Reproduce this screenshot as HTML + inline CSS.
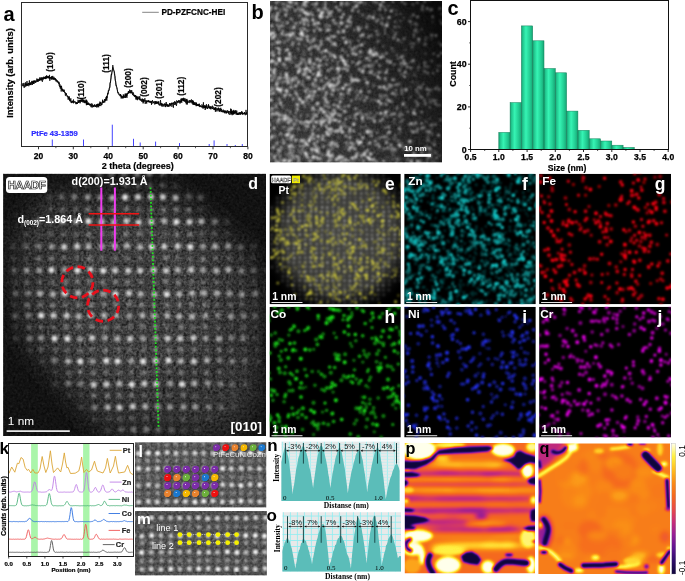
<!DOCTYPE html>
<html><head><meta charset="utf-8"><title>Figure</title>
<style>
html,body{margin:0;padding:0;background:#fff;}
body{width:685px;height:581px;overflow:hidden;position:relative;}
svg{position:absolute;left:0;top:0;display:block;}
</style></head><body>
<svg width="685" height="581" viewBox="0 0 685 581">
<defs><filter id="blur07" x="-5%" y="-5%" width="110%" height="110%"><feGaussianBlur stdDeviation="0.75"/></filter><filter id="blur09" x="-5%" y="-5%" width="110%" height="110%"><feGaussianBlur stdDeviation="0.95"/></filter><filter id="blur1" x="-5%" y="-5%" width="110%" height="110%"><feGaussianBlur stdDeviation="1.1"/></filter><filter id="blur13" x="-5%" y="-5%" width="110%" height="110%"><feGaussianBlur stdDeviation="1.3"/></filter><filter id="noise" x="0" y="0" width="100%" height="100%"><feTurbulence type="fractalNoise" baseFrequency="0.9" numOctaves="2" seed="3"/><feColorMatrix type="saturate" values="0"/></filter><filter id="noise3" x="0" y="0" width="100%" height="100%"><feTurbulence type="fractalNoise" baseFrequency="0.55" numOctaves="2" seed="5"/><feColorMatrix type="saturate" values="0"/></filter><filter id="noiseO" x="0" y="0" width="100%" height="100%" color-interpolation-filters="sRGB"><feTurbulence type="fractalNoise" baseFrequency="0.38" numOctaves="2" seed="5"/><feColorMatrix type="matrix" values="0.33 0.33 0.33 0 0 0.33 0.33 0.33 0 0 0.33 0.33 0.33 0 0 0 0 0 0 1"/><feComponentTransfer><feFuncR type="linear" slope="1.5" intercept="-0.25"/><feFuncG type="linear" slope="1.5" intercept="-0.25"/><feFuncB type="linear" slope="1.5" intercept="-0.25"/></feComponentTransfer></filter><filter id="noise2" x="0" y="0" width="100%" height="100%"><feTurbulence type="fractalNoise" baseFrequency="0.35" numOctaves="2" seed="9"/><feColorMatrix type="saturate" values="0"/></filter><clipPath id="cb"><rect x="270" y="1" width="172" height="161.5"/></clipPath><linearGradient id="gb" x1="0" y1="0.6" x2="1" y2="0.2"><stop offset="0" stop-color="#3a3a3a"/><stop offset="0.45" stop-color="#2e2e2e"/><stop offset="0.8" stop-color="#1c1c1c"/><stop offset="1" stop-color="#0a0a0a"/></linearGradient><linearGradient id="gbar" x1="0" y1="0" x2="1" y2="0"><stop offset="0" stop-color="#169a6c"/><stop offset="0.12" stop-color="#20c48c"/><stop offset="0.4" stop-color="#36f4b4"/><stop offset="0.75" stop-color="#22cc92"/><stop offset="1" stop-color="#17a474"/></linearGradient><clipPath id="cd"><rect x="3.1" y="173.8" width="262.9" height="262.2"/></clipPath><radialGradient id="gdhaze" cx="0.47" cy="0.5" r="0.58"><stop offset="0" stop-color="#3a3a3a"/><stop offset="0.55" stop-color="#303030"/><stop offset="1" stop-color="#161616"/></radialGradient><filter id="blur14" x="-5%" y="-5%" width="110%" height="110%"><feGaussianBlur stdDeviation="1.45"/></filter><filter id="blur12" x="-30%" y="-30%" width="160%" height="160%"><feGaussianBlur stdDeviation="12"/></filter><clipPath id="cme"><rect x="269.5" y="173.8" width="131.3" height="130.5"/></clipPath><radialGradient id="gehaze" cx="0.5" cy="0.5" r="0.5"><stop offset="0" stop-color="#444440"/><stop offset="0.7" stop-color="#383834"/><stop offset="1" stop-color="#111" stop-opacity="0"/></radialGradient><clipPath id="cmf"><rect x="404.2" y="173.8" width="131.6" height="130.5"/></clipPath><clipPath id="cmg"><rect x="539.1" y="173.8" width="131.9" height="130.5"/></clipPath><clipPath id="cmh"><rect x="269.5" y="306.8" width="131.3" height="130.7"/></clipPath><clipPath id="cmi"><rect x="404.2" y="306.8" width="131.6" height="130.7"/></clipPath><clipPath id="cmj"><rect x="539.1" y="306.8" width="131.9" height="130.7"/></clipPath><clipPath id="cl"><rect x="135" y="442.2" width="131.4" height="65.4"/></clipPath><clipPath id="cm"><rect x="135" y="511.1" width="131.9" height="64.4"/></clipPath><radialGradient id="ballP" cx="0.38" cy="0.35" r="0.65"><stop offset="0" stop-color="#fff" stop-opacity="0.85"/><stop offset="0.18" stop-color="#7b2da8"/><stop offset="0.85" stop-color="#7b2da8"/><stop offset="1" stop-color="#333" stop-opacity="0.6"/></radialGradient><radialGradient id="ballR" cx="0.38" cy="0.35" r="0.65"><stop offset="0" stop-color="#fff" stop-opacity="0.85"/><stop offset="0.18" stop-color="#ee1010"/><stop offset="0.85" stop-color="#ee1010"/><stop offset="1" stop-color="#333" stop-opacity="0.6"/></radialGradient><radialGradient id="ballO" cx="0.38" cy="0.35" r="0.65"><stop offset="0" stop-color="#fff" stop-opacity="0.85"/><stop offset="0.18" stop-color="#e9822e"/><stop offset="0.85" stop-color="#e9822e"/><stop offset="1" stop-color="#333" stop-opacity="0.6"/></radialGradient><radialGradient id="ballY" cx="0.38" cy="0.35" r="0.65"><stop offset="0" stop-color="#fff" stop-opacity="0.85"/><stop offset="0.18" stop-color="#f6b800"/><stop offset="0.85" stop-color="#f6b800"/><stop offset="1" stop-color="#333" stop-opacity="0.6"/></radialGradient><radialGradient id="ballG" cx="0.38" cy="0.35" r="0.65"><stop offset="0" stop-color="#fff" stop-opacity="0.85"/><stop offset="0.18" stop-color="#6cb03c"/><stop offset="0.85" stop-color="#6cb03c"/><stop offset="1" stop-color="#333" stop-opacity="0.6"/></radialGradient><radialGradient id="ballB" cx="0.38" cy="0.35" r="0.65"><stop offset="0" stop-color="#fff" stop-opacity="0.85"/><stop offset="0.18" stop-color="#1a78cf"/><stop offset="0.85" stop-color="#1a78cf"/><stop offset="1" stop-color="#333" stop-opacity="0.6"/></radialGradient><pattern id="gridn" x="281.9" y="443.8" width="7" height="3" patternUnits="userSpaceOnUse"><rect width="7" height="3" fill="#e8eaea"/><rect x="0" y="0" width="0.8" height="3" fill="#98f0f2"/><rect x="0" y="0" width="7" height="0.6" fill="#b4f0f2"/></pattern><pattern id="grido" x="282.9" y="515.6" width="7" height="6.1" patternUnits="userSpaceOnUse"><rect width="7" height="6.1" fill="#e8e9e9"/><rect x="0" y="0" width="0.8" height="6.1" fill="#8eeef2"/><rect x="0" y="0" width="7" height="0.8" fill="#8eeef2"/></pattern><filter id="cmap" x="-5%" y="-5%" width="110%" height="110%" color-interpolation-filters="sRGB"><feComponentTransfer><feFuncR type="table" tableValues="0.059 0.176 0.373 0.588 0.784 0.910 0.961 0.980 1.000 1.000 1.000"/><feFuncG type="table" tableValues="0.024 0.047 0.078 0.118 0.176 0.294 0.412 0.549 0.745 0.941 1.000"/><feFuncB type="table" tableValues="0.235 0.412 0.569 0.588 0.471 0.275 0.118 0.086 0.125 0.251 0.925"/></feComponentTransfer></filter><filter id="sb3" x="-10%" y="-10%" width="120%" height="120%" color-interpolation-filters="sRGB"><feGaussianBlur stdDeviation="2.6"/></filter><filter id="sb2" x="-10%" y="-10%" width="120%" height="120%" color-interpolation-filters="sRGB"><feGaussianBlur stdDeviation="1.7"/></filter><filter id="sb1" x="-10%" y="-10%" width="120%" height="120%" color-interpolation-filters="sRGB"><feGaussianBlur stdDeviation="0.8"/></filter><clipPath id="cp"><rect x="404.8" y="443" width="130.2" height="130.2"/></clipPath><clipPath id="cq"><rect x="538.4" y="443.4" width="131.6" height="130.6"/></clipPath><linearGradient id="gcb" x1="0" y1="0" x2="0" y2="1"><stop offset="0.0" stop-color="rgb(255, 255, 236)"/><stop offset="0.1" stop-color="rgb(255, 240, 64)"/><stop offset="0.2" stop-color="rgb(255, 190, 32)"/><stop offset="0.3" stop-color="rgb(250, 140, 22)"/><stop offset="0.4" stop-color="rgb(245, 105, 30)"/><stop offset="0.5" stop-color="rgb(232, 75, 70)"/><stop offset="0.6" stop-color="rgb(200, 45, 120)"/><stop offset="0.7" stop-color="rgb(150, 30, 150)"/><stop offset="0.8" stop-color="rgb(95, 20, 145)"/><stop offset="0.9" stop-color="rgb(45, 12, 105)"/><stop offset="1.0" stop-color="rgb(15, 6, 60)"/></linearGradient></defs>
<g id="pa"><text x="3.5" y="21" style="font-family:'Liberation Sans',Arial,sans-serif;font-weight:bold;font-size:20px">a</text><polyline points="21.3,85.7 21.6,86.4 21.9,83.3 22.2,85.5 22.5,86.1 22.8,85.8 23.1,86.0 23.4,86.0 23.7,84.5 24.0,82.9 24.3,85.6 24.6,85.6 24.9,85.7 25.2,86.2 25.5,82.4 25.8,84.8 26.1,85.0 26.4,83.7 26.7,84.7 27.0,85.3 27.3,84.2 27.6,85.6 27.9,84.1 28.2,84.1 28.5,83.0 28.8,86.2 29.1,85.3 29.4,84.7 29.7,83.5 30.0,84.8 30.3,84.3 30.6,84.0 30.9,85.1 31.2,84.1 31.5,82.9 31.8,82.2 32.1,81.7 32.4,84.9 32.7,82.1 33.0,82.7 33.3,80.8 33.6,83.8 33.9,81.6 34.2,82.6 34.5,80.5 34.8,81.4 35.1,81.2 35.4,82.1 35.7,81.4 36.0,81.2 36.3,81.1 36.6,81.6 36.9,80.7 37.2,81.3 37.5,79.8 37.8,79.2 38.1,81.9 38.4,79.8 38.7,79.2 39.0,80.7 39.3,81.0 39.6,79.6 39.9,80.6 40.2,80.3 40.5,79.1 40.8,79.0 41.1,77.5 41.4,77.2 41.7,79.8 42.0,79.7 42.3,78.6 42.6,79.2 42.9,77.1 43.2,78.8 43.5,79.4 43.8,78.1 44.1,78.3 44.4,77.4 44.7,78.8 45.0,77.0 45.3,78.1 45.6,79.1 45.9,76.4 46.2,76.5 46.5,77.7 46.8,78.5 47.1,75.9 47.4,77.6 47.7,76.9 48.0,77.7 48.3,78.2 48.6,76.2 48.9,78.1 49.2,78.0 49.5,74.9 49.8,80.8 50.1,79.1 50.4,78.6 50.7,77.9 51.0,76.8 51.3,77.0 51.6,79.5 51.9,76.0 52.2,79.4 52.5,78.5 52.8,78.5 53.1,79.2 53.4,79.6 53.7,77.4 54.0,76.9 54.3,79.4 54.6,78.3 54.9,79.1 55.2,79.9 55.5,78.8 55.8,79.3 56.1,80.7 56.4,79.6 56.7,81.3 57.0,80.0 57.3,82.4 57.6,81.3 57.9,82.1 58.2,82.0 58.5,83.3 58.8,83.9 59.1,82.4 59.4,82.9 59.7,85.4 60.0,84.5 60.3,87.2 60.6,86.2 60.9,85.8 61.2,87.7 61.5,85.9 61.8,89.0 62.1,89.8 62.4,89.2 62.7,90.1 63.0,89.8 63.3,91.3 63.6,91.3 63.9,91.9 64.2,89.7 64.5,91.9 64.8,92.1 65.1,93.5 65.4,95.8 65.7,95.7 66.0,94.1 66.3,93.7 66.6,94.9 66.9,95.3 67.2,95.5 67.5,97.0 67.8,96.6 68.1,99.6 68.4,98.4 68.7,96.4 69.0,98.5 69.3,96.5 69.6,99.9 69.9,100.5 70.2,101.4 70.5,100.3 70.8,100.6 71.1,102.9 71.4,102.2 71.7,103.1 72.0,102.5 72.3,100.7 72.6,102.0 72.9,101.7 73.2,102.4 73.5,99.5 73.8,102.5 74.1,101.5 74.4,102.1 74.7,102.1 75.0,101.6 75.3,101.9 75.6,102.4 75.9,104.2 76.2,104.0 76.5,103.4 76.8,102.1 77.1,103.7 77.4,102.5 77.7,101.7 78.0,99.8 78.3,100.4 78.6,103.0 78.9,101.1 79.2,100.5 79.5,100.4 79.8,101.0 80.1,103.3 80.4,99.9 80.7,101.3 81.0,101.8 81.3,99.9 81.6,101.5 81.9,101.5 82.2,101.1 82.5,99.6 82.8,101.0 83.1,102.5 83.4,100.3 83.7,101.3 84.0,99.9 84.3,100.6 84.6,101.6 84.9,102.5 85.2,100.6 85.5,101.9 85.8,101.4 86.1,99.5 86.4,105.2 86.7,100.0 87.0,104.3 87.3,103.6 87.6,103.8 87.9,102.7 88.2,104.1 88.5,104.2 88.8,103.6 89.1,104.5 89.4,104.0 89.7,103.9 90.0,105.0 90.3,105.2 90.6,103.8 90.9,105.7 91.2,105.9 91.5,105.2 91.8,105.4 92.1,104.8 92.4,104.2 92.7,104.6 93.0,105.6 93.3,106.3 93.6,105.5 93.9,107.1 94.2,106.1 94.5,105.1 94.8,106.0 95.1,106.0 95.4,106.9 95.7,106.1 96.0,105.3 96.3,106.6 96.6,104.3 96.9,107.6 97.2,105.2 97.5,105.0 97.8,104.0 98.1,104.5 98.4,105.7 98.7,107.3 99.0,104.5 99.3,103.1 99.6,105.9 99.9,104.6 100.2,104.9 100.5,105.8 100.8,106.1 101.1,104.1 101.4,104.8 101.7,104.6 102.0,105.0 102.3,103.1 102.6,99.7 102.9,102.0 103.2,102.9 103.5,101.7 103.8,101.3 104.1,101.6 104.4,100.9 104.7,99.0 105.0,100.3 105.3,99.0 105.6,100.8 105.9,98.9 106.2,99.0 106.5,96.6 106.8,100.7 107.1,96.6 107.4,94.9 107.7,93.2 108.0,93.4 108.3,90.6 108.6,90.9 108.9,90.9 109.2,88.5 109.5,87.3 109.8,87.7 110.1,82.6 110.4,82.9 110.7,79.8 111.0,78.3 111.3,75.2 111.6,74.2 111.9,72.5 112.2,71.0 112.5,69.2 112.8,65.1 113.1,67.3 113.4,69.7 113.7,69.5 114.0,70.5 114.3,71.7 114.6,73.5 114.9,75.4 115.2,78.5 115.5,80.5 115.8,82.6 116.1,85.8 116.4,85.4 116.7,87.2 117.0,89.2 117.3,89.8 117.6,91.4 117.9,91.9 118.2,93.6 118.5,93.7 118.8,94.3 119.1,94.1 119.4,94.1 119.7,94.4 120.0,95.5 120.3,96.2 120.6,95.4 120.9,95.4 121.2,98.5 121.5,96.4 121.8,97.3 122.1,97.0 122.4,97.2 122.7,96.7 123.0,96.8 123.3,98.3 123.6,95.5 123.9,97.6 124.2,96.3 124.5,96.4 124.8,95.9 125.1,95.3 125.4,98.0 125.7,93.7 126.0,96.3 126.3,93.8 126.6,96.0 126.9,95.9 127.2,95.1 127.5,93.1 127.8,93.9 128.1,92.7 128.4,92.3 128.7,91.7 129.0,93.0 129.3,91.9 129.6,91.8 129.9,92.7 130.2,93.2 130.5,91.0 130.8,90.1 131.1,93.3 131.4,92.4 131.7,90.2 132.0,92.4 132.3,92.7 132.6,95.1 132.9,93.5 133.2,92.4 133.5,93.1 133.8,96.0 134.1,95.1 134.4,96.3 134.7,95.1 135.0,96.0 135.3,96.2 135.6,97.2 135.9,96.7 136.2,97.1 136.5,97.0 136.8,98.3 137.1,97.5 137.4,96.7 137.7,97.8 138.0,98.8 138.3,98.2 138.6,99.1 138.9,99.1 139.2,98.9 139.5,98.5 139.8,96.3 140.1,99.9 140.4,99.3 140.7,100.6 141.0,99.9 141.3,100.7 141.6,100.3 141.9,101.9 142.2,98.5 142.5,100.4 142.8,100.6 143.1,101.9 143.4,99.7 143.7,102.4 144.0,100.1 144.3,101.3 144.6,101.2 144.9,101.2 145.2,101.1 145.5,100.6 145.8,101.7 146.1,100.1 146.4,100.7 146.7,102.1 147.0,101.2 147.3,101.3 147.6,101.5 147.9,101.9 148.2,100.6 148.5,101.7 148.8,101.8 149.1,102.0 149.4,101.5 149.7,101.2 150.0,101.8 150.3,102.3 150.6,101.7 150.9,102.6 151.2,101.8 151.5,104.8 151.8,101.9 152.1,101.3 152.4,100.2 152.7,101.2 153.0,101.3 153.3,102.0 153.6,102.2 153.9,102.0 154.2,102.9 154.5,103.2 154.8,104.5 155.1,102.2 155.4,102.0 155.7,103.8 156.0,101.5 156.3,103.0 156.6,104.0 156.9,103.2 157.2,103.3 157.5,102.0 157.8,103.8 158.1,103.8 158.4,102.6 158.7,102.4 159.0,105.1 159.3,104.3 159.6,104.0 159.9,103.9 160.2,103.6 160.5,100.1 160.8,102.7 161.1,104.4 161.4,103.6 161.7,106.4 162.0,103.7 162.3,104.7 162.6,104.3 162.9,105.6 163.2,106.3 163.5,105.3 163.8,105.6 164.1,104.6 164.4,103.8 164.7,104.2 165.0,104.2 165.3,105.1 165.6,107.1 165.9,103.8 166.2,105.4 166.5,105.1 166.8,106.4 167.1,104.5 167.4,105.9 167.7,105.1 168.0,105.6 168.3,106.0 168.6,104.9 168.9,107.0 169.2,104.4 169.5,104.6 169.8,103.0 170.1,103.9 170.4,105.6 170.7,106.2 171.0,104.1 171.3,103.2 171.6,103.9 171.9,102.8 172.2,102.7 172.5,103.5 172.8,103.8 173.1,103.4 173.4,107.7 173.7,102.2 174.0,102.7 174.3,103.2 174.6,101.3 174.9,102.9 175.2,103.6 175.5,101.9 175.8,102.0 176.1,103.1 176.4,105.9 176.7,104.4 177.0,102.5 177.3,102.2 177.6,101.1 177.9,102.1 178.2,102.3 178.5,101.3 178.8,100.0 179.1,100.7 179.4,101.3 179.7,101.4 180.0,102.9 180.3,101.5 180.6,101.1 180.9,101.1 181.2,98.7 181.5,101.6 181.8,100.3 182.1,99.7 182.4,99.6 182.7,98.7 183.0,100.9 183.3,98.9 183.6,100.9 183.9,100.6 184.2,101.6 184.5,100.5 184.8,100.6 185.1,98.4 185.4,101.0 185.7,102.7 186.0,100.7 186.3,99.3 186.6,100.5 186.9,100.6 187.2,99.9 187.5,103.3 187.8,101.5 188.1,102.5 188.4,102.0 188.7,102.4 189.0,102.6 189.3,100.9 189.6,102.1 189.9,103.1 190.2,102.1 190.5,100.8 190.8,101.2 191.1,102.0 191.4,101.8 191.7,101.9 192.0,102.4 192.3,103.1 192.6,101.4 192.9,101.9 193.2,104.9 193.5,101.2 193.8,103.2 194.1,102.1 194.4,104.9 194.7,103.3 195.0,104.3 195.3,104.8 195.6,104.7 195.9,103.4 196.2,102.4 196.5,103.4 196.8,104.9 197.1,104.6 197.4,104.4 197.7,105.6 198.0,104.1 198.3,105.0 198.6,106.1 198.9,105.1 199.2,103.8 199.5,106.4 199.8,107.1 200.1,106.1 200.4,106.6 200.7,106.6 201.0,106.7 201.3,106.3 201.6,106.9 201.9,106.6 202.2,106.8 202.5,105.8 202.8,106.3 203.1,108.1 203.4,106.3 203.7,107.3 204.0,107.2 204.3,106.5 204.6,105.6 204.9,107.3 205.2,110.0 205.5,106.2 205.8,107.1 206.1,107.7 206.4,104.2 206.7,105.8 207.0,107.6 207.3,107.3 207.6,108.7 207.9,106.6 208.2,105.4 208.5,106.4 208.8,107.6 209.1,105.8 209.4,108.3 209.7,107.5 210.0,108.5 210.3,106.3 210.6,108.4 210.9,106.7 211.2,106.3 211.5,108.1 211.8,107.8 212.1,108.4 212.4,105.7 212.7,107.0 213.0,107.6 213.3,107.0 213.6,106.8 213.9,109.0 214.2,108.2 214.5,108.5 214.8,108.0 215.1,109.3 215.4,111.8 215.7,107.7 216.0,107.7 216.3,108.5 216.6,109.9 216.9,111.5 217.2,109.0 217.5,109.5 217.8,109.1 218.1,108.4 218.4,108.3 218.7,108.7 219.0,108.2 219.3,111.6 219.6,110.0 219.9,108.4 220.2,110.6 220.5,109.3 220.8,107.8 221.1,111.2 221.4,109.0 221.7,110.3 222.0,112.0 222.3,111.5 222.6,110.8 222.9,112.4 223.2,112.1 223.5,110.6 223.8,111.5 224.1,111.9 224.4,112.3 224.7,110.3 225.0,111.1 225.3,112.2 225.6,111.4 225.9,110.9 226.2,111.2 226.5,113.2 226.8,111.5 227.1,111.5 227.4,112.3 227.7,112.1 228.0,111.9 228.3,112.9 228.6,111.4 228.9,113.7 229.2,111.6 229.5,111.1 229.8,111.5 230.1,112.1 230.4,111.4 230.7,108.6 231.0,114.6 231.3,109.2 231.6,113.8 231.9,111.3 232.2,115.2 232.5,113.0 232.8,112.6 233.1,111.8 233.4,114.5 233.7,111.2 234.0,112.6 234.3,111.8 234.6,113.6 234.9,113.5 235.2,112.1 235.5,110.3 235.8,112.9 236.1,112.6 236.4,113.8 236.7,114.2 237.0,113.4 237.3,114.9 237.6,113.6 237.9,114.2 238.2,113.6 238.5,114.0 238.8,114.3 239.1,113.4 239.4,113.3 239.7,113.9 240.0,114.5 240.3,112.4 240.6,114.6 240.9,113.2 241.2,114.1 241.5,112.0 241.8,111.1 242.1,113.4 242.4,112.3 242.7,114.7 243.0,113.9 243.3,113.0 243.6,112.9 243.9,114.3 244.2,113.9 244.5,113.3 244.8,113.5 245.1,113.8 245.4,112.9 245.7,113.2 246.0,114.7 246.3,114.3 246.6,113.0 246.9,114.5 247.2,114.8" fill="none" stroke="#000" stroke-width="0.8"/><polyline points="21.3,84.4 21.6,85.9 21.9,86.0 22.2,85.8 22.5,85.1 22.8,84.3 23.1,83.5 23.4,84.0 23.7,84.4 24.0,87.6 24.3,86.6 24.6,87.4 24.9,86.0 25.2,86.6 25.5,84.2 25.8,85.1 26.1,84.6 26.4,86.2 26.7,83.1 27.0,81.1 27.3,84.2 27.6,85.5 27.9,83.9 28.2,83.1 28.5,84.3 28.8,84.3 29.1,82.6 29.4,80.4 29.7,84.9 30.0,83.0 30.3,84.4 30.6,82.3 30.9,84.7 31.2,84.1 31.5,83.4 31.8,80.9 32.1,82.6 32.4,82.0 32.7,82.8 33.0,80.9 33.3,83.2 33.6,80.8 33.9,84.0 34.2,80.9 34.5,81.5 34.8,81.5 35.1,81.5 35.4,80.7 35.7,83.0 36.0,81.3 36.3,80.0 36.6,79.8 36.9,78.5 37.2,81.8 37.5,79.5 37.8,80.0 38.1,80.3 38.4,80.7 38.7,79.7 39.0,79.7 39.3,78.5 39.6,79.7 39.9,77.3 40.2,80.1 40.5,78.5 40.8,78.7 41.1,79.1 41.4,80.4 41.7,78.5 42.0,78.0 42.3,81.8 42.6,81.0 42.9,77.9 43.2,79.0 43.5,78.3 43.8,76.7 44.1,78.2 44.4,78.3 44.7,77.2 45.0,77.4 45.3,77.2 45.6,78.6 45.9,76.1 46.2,78.3 46.5,75.4 46.8,77.9 47.1,77.7 47.4,77.2 47.7,77.6 48.0,75.9 48.3,77.5 48.6,77.8 48.9,77.4 49.2,78.4 49.5,77.0 49.8,79.2 50.1,78.6 50.4,77.2 50.7,77.9 51.0,78.1 51.3,78.2 51.6,77.2 51.9,77.4 52.2,78.1 52.5,78.6 52.8,75.9 53.1,79.3 53.4,79.3 53.7,78.1 54.0,78.9 54.3,77.9 54.6,79.0 54.9,79.8 55.2,80.3 55.5,78.3 55.8,79.6 56.1,81.5 56.4,81.1 56.7,80.8 57.0,81.1 57.3,81.1 57.6,81.9 57.9,81.2 58.2,82.6 58.5,82.6 58.8,81.8 59.1,85.6 59.4,85.3 59.7,86.9 60.0,86.3 60.3,88.7 60.6,85.9 60.9,87.3 61.2,91.5 61.5,88.9 61.8,87.9 62.1,89.9 62.4,89.9 62.7,91.3 63.0,89.3 63.3,91.3 63.6,90.5 63.9,91.2 64.2,91.9 64.5,92.2 64.8,93.0 65.1,92.5 65.4,92.7 65.7,94.5 66.0,93.0 66.3,93.7 66.6,95.3 66.9,95.2 67.2,96.8 67.5,96.5 67.8,96.8 68.1,97.0 68.4,98.0 68.7,98.3 69.0,99.5 69.3,98.2 69.6,100.7 69.9,99.3 70.2,100.5 70.5,100.7 70.8,98.3 71.1,101.9 71.4,101.5 71.7,101.4 72.0,102.6 72.3,101.2 72.6,101.6 72.9,102.3 73.2,102.0 73.5,103.3 73.8,101.5 74.1,102.4 74.4,102.1 74.7,102.0 75.0,101.7 75.3,102.0 75.6,102.1 75.9,103.5 76.2,102.6 76.5,103.9 76.8,103.9 77.1,102.6 77.4,103.7 77.7,102.7 78.0,102.5 78.3,101.7 78.6,102.4 78.9,102.2 79.2,100.1 79.5,101.5 79.8,102.4 80.1,99.9 80.4,99.9 80.7,100.7 81.0,101.5 81.3,101.1 81.6,100.1 81.9,98.8 82.2,99.7 82.5,99.8 82.8,102.1 83.1,101.4 83.4,100.0 83.7,99.5 84.0,101.8 84.3,103.0 84.6,101.2 84.9,100.9 85.2,103.3 85.5,102.8 85.8,101.5 86.1,102.8 86.4,101.9 86.7,103.7 87.0,101.0 87.3,104.9 87.6,103.5 87.9,104.9 88.2,103.1 88.5,102.7 88.8,104.8 89.1,103.6 89.4,104.4 89.7,105.5 90.0,104.0 90.3,104.9 90.6,105.7 90.9,107.1 91.2,106.5 91.5,106.7 91.8,103.3 92.1,107.6 92.4,105.5 92.7,105.1 93.0,107.0 93.3,105.7 93.6,107.0 93.9,106.4 94.2,106.0 94.5,104.4 94.8,105.8 95.1,106.1 95.4,106.6 95.7,106.6 96.0,104.7 96.3,106.2 96.6,105.9 96.9,105.0 97.2,105.8 97.5,103.8 97.8,107.0 98.1,104.1 98.4,104.0 98.7,105.6 99.0,104.1 99.3,105.7 99.6,105.4 99.9,101.6 100.2,104.2 100.5,102.1 100.8,104.1 101.1,103.7 101.4,105.1 101.7,102.5 102.0,102.8 102.3,103.1 102.6,102.4 102.9,100.8 103.2,102.2 103.5,102.5 103.8,102.2 104.1,101.6 104.4,100.4 104.7,102.6 105.0,101.6 105.3,101.3 105.6,99.6 105.9,97.5 106.2,96.9 106.5,99.3 106.8,96.2 107.1,97.8 107.4,95.3 107.7,93.3 108.0,94.4 108.3,93.1 108.6,90.4 108.9,90.6 109.2,89.9 109.5,87.7 109.8,87.3 110.1,83.3 110.4,82.8 110.7,80.6 111.0,77.4 111.3,74.1 111.6,75.1 111.9,72.3 112.2,70.0 112.5,69.2 112.8,67.3 113.1,68.2 113.4,69.6 113.7,70.7 114.0,71.0 114.3,72.8 114.6,75.8 114.9,76.5 115.2,80.8 115.5,80.7 115.8,84.0 116.1,85.3 116.4,86.6 116.7,87.3 117.0,87.5 117.3,89.5 117.6,92.1 117.9,93.1 118.2,92.5 118.5,92.7 118.8,93.6 119.1,95.2 119.4,95.1 119.7,95.0 120.0,94.7 120.3,96.2 120.6,94.0 120.9,96.1 121.2,96.4 121.5,95.6 121.8,97.1 122.1,96.4 122.4,98.4 122.7,96.7 123.0,97.0 123.3,94.4 123.6,96.4 123.9,97.7 124.2,98.0 124.5,97.6 124.8,95.7 125.1,93.7 125.4,95.4 125.7,95.9 126.0,95.1 126.3,96.7 126.6,93.6 126.9,97.9 127.2,94.0 127.5,93.9 127.8,93.1 128.1,93.2 128.4,91.0 128.7,93.5 129.0,91.8 129.3,91.7 129.6,89.6 129.9,92.6 130.2,91.6 130.5,91.7 130.8,92.9 131.1,92.4 131.4,93.2 131.7,92.4 132.0,91.9 132.3,92.1 132.6,92.5 132.9,93.5 133.2,94.0 133.5,94.1 133.8,94.2 134.1,95.2 134.4,96.7 134.7,96.9 135.0,95.2 135.3,96.5 135.6,95.3 135.9,99.5 136.2,96.7 136.5,95.9 136.8,99.5 137.1,96.6 137.4,100.2 137.7,97.8 138.0,97.6 138.3,97.7 138.6,98.1 138.9,96.4 139.2,99.8 139.5,100.1 139.8,98.3 140.1,99.2 140.4,99.4 140.7,99.2 141.0,100.1 141.3,100.2 141.6,99.5 141.9,99.8 142.2,99.0 142.5,99.6 142.8,100.9 143.1,103.4 143.4,99.6 143.7,99.2 144.0,100.5 144.3,100.1 144.6,100.4 144.9,98.2 145.2,103.9 145.5,102.7 145.8,101.8 146.1,102.5 146.4,101.6 146.7,103.6 147.0,101.4 147.3,101.2 147.6,101.5 147.9,100.4 148.2,101.1 148.5,100.5 148.8,102.2 149.1,100.6 149.4,102.5 149.7,101.6 150.0,100.9 150.3,101.0 150.6,102.3 150.9,102.8 151.2,101.1 151.5,102.3 151.8,103.7 152.1,101.0 152.4,101.6 152.7,102.3 153.0,103.3 153.3,103.0 153.6,102.2 153.9,103.1 154.2,101.2 154.5,102.3 154.8,101.9 155.1,102.1 155.4,101.2 155.7,103.7 156.0,101.7 156.3,101.8 156.6,103.0 156.9,101.4 157.2,101.4 157.5,102.8 157.8,102.2 158.1,103.0 158.4,103.6 158.7,101.2 159.0,103.9 159.3,105.2 159.6,105.5 159.9,104.1 160.2,104.5 160.5,102.8 160.8,105.6 161.1,104.9 161.4,104.3 161.7,103.4 162.0,104.2 162.3,103.8 162.6,105.2 162.9,106.6 163.2,105.0 163.5,104.5 163.8,104.4 164.1,105.0 164.4,103.6 164.7,106.1 165.0,106.7 165.3,105.6 165.6,103.8 165.9,105.0 166.2,102.0 166.5,104.8 166.8,105.1 167.1,104.1 167.4,104.2 167.7,106.8 168.0,105.0 168.3,106.3 168.6,104.8 168.9,104.8 169.2,105.4 169.5,105.5 169.8,103.2 170.1,105.4 170.4,104.2 170.7,104.5 171.0,105.0 171.3,103.1 171.6,102.9 171.9,106.8 172.2,105.1 172.5,103.3 172.8,103.4 173.1,104.0 173.4,103.3 173.7,103.0 174.0,103.1 174.3,103.4 174.6,104.9 174.9,103.9 175.2,102.7 175.5,102.9 175.8,104.8 176.1,102.2 176.4,101.1 176.7,100.4 177.0,102.3 177.3,102.7 177.6,102.7 177.9,101.3 178.2,102.6 178.5,101.4 178.8,101.5 179.1,100.4 179.4,101.0 179.7,102.4 180.0,103.6 180.3,100.7 180.6,102.2 180.9,100.8 181.2,98.8 181.5,101.9 181.8,102.8 182.1,98.2 182.4,100.2 182.7,99.0 183.0,99.3 183.3,100.2 183.6,97.8 183.9,101.0 184.2,98.3 184.5,100.8 184.8,101.5 185.1,101.0 185.4,100.2 185.7,100.0 186.0,99.8 186.3,104.3 186.6,101.1 186.9,98.9 187.2,104.6 187.5,101.3 187.8,101.0 188.1,100.9 188.4,101.5 188.7,101.3 189.0,100.9 189.3,100.1 189.6,101.1 189.9,100.8 190.2,101.0 190.5,101.3 190.8,100.2 191.1,102.3 191.4,99.4 191.7,99.9 192.0,103.6 192.3,103.5 192.6,100.0 192.9,100.4 193.2,104.5 193.5,103.9 193.8,104.0 194.1,103.1 194.4,104.7 194.7,104.8 195.0,102.2 195.3,102.8 195.6,105.1 195.9,104.5 196.2,106.2 196.5,103.0 196.8,106.0 197.1,104.9 197.4,105.7 197.7,106.0 198.0,104.3 198.3,104.8 198.6,106.1 198.9,105.2 199.2,103.8 199.5,105.6 199.8,106.7 200.1,106.1 200.4,105.1 200.7,105.6 201.0,106.8 201.3,106.8 201.6,107.4 201.9,104.4 202.2,105.3 202.5,105.3 202.8,107.8 203.1,108.6 203.4,102.3 203.7,107.0 204.0,106.3 204.3,105.7 204.6,108.0 204.9,105.5 205.2,107.5 205.5,105.7 205.8,108.7 206.1,106.8 206.4,106.8 206.7,105.6 207.0,107.9 207.3,109.0 207.6,108.7 207.9,107.9 208.2,107.2 208.5,104.2 208.8,106.4 209.1,107.8 209.4,107.3 209.7,108.2 210.0,107.4 210.3,108.4 210.6,107.7 210.9,109.4 211.2,108.3 211.5,107.7 211.8,108.1 212.1,107.5 212.4,108.9 212.7,108.0 213.0,109.2 213.3,109.2 213.6,109.6 213.9,109.5 214.2,107.6 214.5,110.0 214.8,108.4 215.1,109.3 215.4,107.3 215.7,110.3 216.0,109.1 216.3,108.4 216.6,107.9 216.9,108.0 217.2,108.5 217.5,108.5 217.8,110.4 218.1,109.9 218.4,107.6 218.7,110.4 219.0,109.7 219.3,111.5 219.6,110.8 219.9,110.2 220.2,109.5 220.5,109.6 220.8,111.6 221.1,112.1 221.4,111.4 221.7,111.3 222.0,111.8 222.3,110.7 222.6,110.6 222.9,110.0 223.2,109.6 223.5,112.2 223.8,110.9 224.1,111.1 224.4,112.6 224.7,111.5 225.0,113.4 225.3,111.6 225.6,112.2 225.9,110.6 226.2,113.2 226.5,112.2 226.8,113.2 227.1,112.9 227.4,110.4 227.7,110.1 228.0,111.7 228.3,111.2 228.6,112.8 228.9,114.2 229.2,114.3 229.5,113.9 229.8,114.7 230.1,111.3 230.4,113.1 230.7,112.9 231.0,112.2 231.3,113.4 231.6,111.6 231.9,113.0 232.2,112.4 232.5,110.7 232.8,114.0 233.1,113.8 233.4,113.7 233.7,109.9 234.0,114.2 234.3,112.5 234.6,110.7 234.9,112.8 235.2,113.2 235.5,113.2 235.8,111.3 236.1,114.7 236.4,113.9 236.7,110.5 237.0,111.8 237.3,114.5 237.6,113.6 237.9,115.0 238.2,113.1 238.5,114.8 238.8,114.2 239.1,112.1 239.4,114.2 239.7,114.3 240.0,112.2 240.3,112.4 240.6,114.0 240.9,113.7 241.2,113.8 241.5,112.4 241.8,112.0 242.1,112.7 242.4,114.2 242.7,113.3 243.0,113.2 243.3,113.5 243.6,113.1 243.9,113.6 244.2,114.0 244.5,112.0 244.8,114.3 245.1,114.2 245.4,115.2 245.7,114.8 246.0,109.9 246.3,112.8 246.6,112.1 246.9,113.8 247.2,113.0" fill="none" stroke="#000" stroke-width="0.8"/><line x1="52.3" y1="139.5" x2="52.3" y2="146.5" stroke="#3030ff" stroke-width="0.9"/><line x1="83.5" y1="139.5" x2="83.5" y2="146.5" stroke="#3030ff" stroke-width="0.9"/><line x1="112.3" y1="124.7" x2="112.3" y2="146.5" stroke="#3030ff" stroke-width="0.9"/><line x1="133.5" y1="138.8" x2="133.5" y2="146.5" stroke="#3030ff" stroke-width="0.9"/><line x1="140.2" y1="142.5" x2="140.2" y2="146.5" stroke="#3030ff" stroke-width="0.9"/><line x1="155.6" y1="141.6" x2="155.6" y2="146.5" stroke="#3030ff" stroke-width="0.9"/><line x1="179.5" y1="143.1" x2="179.5" y2="146.5" stroke="#3030ff" stroke-width="0.9"/><line x1="209.2" y1="144" x2="209.2" y2="146.5" stroke="#3030ff" stroke-width="0.9"/><line x1="214.1" y1="140.4" x2="214.1" y2="146.5" stroke="#3030ff" stroke-width="0.9"/><line x1="227" y1="144" x2="227" y2="146.5" stroke="#3030ff" stroke-width="0.9"/><line x1="235.3" y1="145" x2="235.3" y2="146.5" stroke="#3030ff" stroke-width="0.9"/><line x1="242.3" y1="144" x2="242.3" y2="146.5" stroke="#3030ff" stroke-width="0.9"/><text x="31.3" y="136" style="font-family:'Liberation Sans',Arial,sans-serif;font-weight:bold;font-size:7.6px" fill="#2a2aff" stroke="#2a2aff" stroke-width="0.2">PtFe 43-1359</text><rect x="21.5" y="2.5" width="226" height="144" fill="none" stroke="#2a2a2a" stroke-width="1"/><line x1="38.5" y1="146.6" x2="38.5" y2="149.3" stroke="#333" stroke-width="1"/><text x="38.5" y="158.8" text-anchor="middle" style="font-family:'Liberation Sans',Arial,sans-serif;font-weight:bold;font-size:8.5px" stroke="#000" stroke-width="0.25">20</text><line x1="73.3" y1="146.6" x2="73.3" y2="149.3" stroke="#333" stroke-width="1"/><text x="73.3" y="158.8" text-anchor="middle" style="font-family:'Liberation Sans',Arial,sans-serif;font-weight:bold;font-size:8.5px" stroke="#000" stroke-width="0.25">30</text><line x1="108.2" y1="146.6" x2="108.2" y2="149.3" stroke="#333" stroke-width="1"/><text x="108.2" y="158.8" text-anchor="middle" style="font-family:'Liberation Sans',Arial,sans-serif;font-weight:bold;font-size:8.5px" stroke="#000" stroke-width="0.25">40</text><line x1="143.2" y1="146.6" x2="143.2" y2="149.3" stroke="#333" stroke-width="1"/><text x="143.2" y="158.8" text-anchor="middle" style="font-family:'Liberation Sans',Arial,sans-serif;font-weight:bold;font-size:8.5px" stroke="#000" stroke-width="0.25">50</text><line x1="178.1" y1="146.6" x2="178.1" y2="149.3" stroke="#333" stroke-width="1"/><text x="178.1" y="158.8" text-anchor="middle" style="font-family:'Liberation Sans',Arial,sans-serif;font-weight:bold;font-size:8.5px" stroke="#000" stroke-width="0.25">60</text><line x1="213.0" y1="146.6" x2="213.0" y2="149.3" stroke="#333" stroke-width="1"/><text x="213.0" y="158.8" text-anchor="middle" style="font-family:'Liberation Sans',Arial,sans-serif;font-weight:bold;font-size:8.5px" stroke="#000" stroke-width="0.25">70</text><line x1="247.9" y1="146.6" x2="247.9" y2="149.3" stroke="#333" stroke-width="1"/><text x="247.9" y="158.8" text-anchor="middle" style="font-family:'Liberation Sans',Arial,sans-serif;font-weight:bold;font-size:8.5px" stroke="#000" stroke-width="0.25">80</text><line x1="55.9" y1="146.6" x2="55.9" y2="148.2" stroke="#333" stroke-width="0.8"/><line x1="90.8" y1="146.6" x2="90.8" y2="148.2" stroke="#333" stroke-width="0.8"/><line x1="125.7" y1="146.6" x2="125.7" y2="148.2" stroke="#333" stroke-width="0.8"/><line x1="160.6" y1="146.6" x2="160.6" y2="148.2" stroke="#333" stroke-width="0.8"/><line x1="195.5" y1="146.6" x2="195.5" y2="148.2" stroke="#333" stroke-width="0.8"/><line x1="230.4" y1="146.6" x2="230.4" y2="148.2" stroke="#333" stroke-width="0.8"/><text x="137.7" y="169.3" text-anchor="middle" style="font-family:'Liberation Sans',Arial,sans-serif;font-weight:bold;font-size:9px" stroke="#000" stroke-width="0.2">2 theta (degrees)</text><text transform="translate(12.8,73) rotate(-90)" text-anchor="middle" style="font-family:'Liberation Sans',Arial,sans-serif;font-weight:bold;font-size:9.4px" stroke="#000" stroke-width="0.2">Intensity (arb. units)</text><line x1="142.2" y1="12.3" x2="158.8" y2="12.3" stroke="#777" stroke-width="0.9"/><text x="161.5" y="15.2" style="font-family:'Liberation Sans',Arial,sans-serif;font-weight:bold;font-size:8.2px" stroke="#000" stroke-width="0.2">PD-PZFCNC-HEI</text><text transform="translate(53.4,62) rotate(-90)" text-anchor="middle" style="font-family:'Liberation Sans',Arial,sans-serif;font-weight:bold;font-size:8.4px" stroke="#000" stroke-width="0.2">(100)</text><text transform="translate(84.30000000000001,90) rotate(-90)" text-anchor="middle" style="font-family:'Liberation Sans',Arial,sans-serif;font-weight:bold;font-size:8.4px" stroke="#000" stroke-width="0.2">(110)</text><text transform="translate(109.10000000000001,63.4) rotate(-90)" text-anchor="middle" style="font-family:'Liberation Sans',Arial,sans-serif;font-weight:bold;font-size:8.4px" stroke="#000" stroke-width="0.2">(111)</text><text transform="translate(130.9,78) rotate(-90)" text-anchor="middle" style="font-family:'Liberation Sans',Arial,sans-serif;font-weight:bold;font-size:8.4px" stroke="#000" stroke-width="0.2">(200)</text><text transform="translate(147.1,87) rotate(-90)" text-anchor="middle" style="font-family:'Liberation Sans',Arial,sans-serif;font-weight:bold;font-size:8.4px" stroke="#000" stroke-width="0.2">(002)</text><text transform="translate(162.3,89) rotate(-90)" text-anchor="middle" style="font-family:'Liberation Sans',Arial,sans-serif;font-weight:bold;font-size:8.4px" stroke="#000" stroke-width="0.2">(201)</text><text transform="translate(183.70000000000002,86.3) rotate(-90)" text-anchor="middle" style="font-family:'Liberation Sans',Arial,sans-serif;font-weight:bold;font-size:8.4px" stroke="#000" stroke-width="0.2">(112)</text><text transform="translate(220.9,97) rotate(-90)" text-anchor="middle" style="font-family:'Liberation Sans',Arial,sans-serif;font-weight:bold;font-size:8.4px" stroke="#000" stroke-width="0.2">(202)</text></g><g id="pb" clip-path="url(#cb)"><rect x="270" y="1" width="172" height="161.5" fill="url(#gb)"/><rect x="270" y="1" width="172" height="161.5" filter="url(#noiseO)" style="mix-blend-mode:overlay" opacity="0.5"/><g filter="url(#blur13)"><path d="M420.1 97.6h0M389.3 36.8h0M430.1 0.8h0M429.9 118.2h0M420.0 118.1h0M426.2 131.7h0M393.0 29.8h0M400.1 126.2h0M438.7 134.7h0M432.4 159.4h0M411.1 24.5h0M440.2 105.1h0M429.9 10.8h0M432.6 21.7h0M403.2 104.7h0M393.3 31.9h0M363.1 74.1h0M388.3 87.1h0M431.6 39.0h0M427.9 134.2h0M410.6 16.9h0M440.2 20.8h0M440.6 66.0h0M429.3 98.9h0M441.7 23.6h0M334.5 19.2h0M417.8 16.9h0M417.6 24.9h0" stroke="#e8e8e8" stroke-width="2.5" stroke-linecap="round" stroke-opacity="0.17"/><path d="M366.7 24.4h0M349.2 4.6h0M433.7 53.7h0M311.1 120.1h0M312.4 137.3h0M421.4 86.7h0M426.2 121.6h0M395.5 95.5h0M397.5 84.2h0M310.8 148.5h0M412.6 81.9h0M321.5 9.6h0M396.2 14.6h0M413.9 36.3h0M288.7 78.1h0M417.4 132.2h0M281.4 147.1h0M330.6 115.2h0M322.5 51.1h0M428.1 66.7h0M311.9 15.6h0M335.8 89.3h0M374.4 48.5h0M303.7 28.6h0M435.8 163.0h0M342.4 38.1h0M357.9 26.7h0M406.1 107.0h0M341.3 58.9h0M410.6 43.4h0M388.1 110.5h0M303.7 147.3h0M280.7 102.0h0M349.7 128.7h0M311.7 12.9h0M401.2 66.9h0M396.2 32.8h0M307.2 12.4h0M317.6 95.6h0M433.3 73.2h0M413.9 34.3h0M274.0 120.6h0M410.0 97.3h0M380.4 15.5h0M373.2 119.2h0M329.3 119.4h0M272.2 136.9h0M305.3 18.3h0M301.0 116.3h0M409.2 20.7h0M396.3 33.0h0M345.2 148.8h0M378.8 107.4h0M430.1 125.3h0M281.4 93.0h0M362.1 156.9h0M429.8 150.5h0M268.1 160.8h0M355.0 0.0h0M313.8 93.7h0M304.9 87.2h0M306.1 92.8h0M385.8 80.8h0M350.7 86.9h0M353.7 160.8h0M307.3 143.8h0M325.3 140.7h0M303.2 4.5h0M339.5 11.4h0M300.7 115.1h0M303.4 4.8h0M367.4 85.9h0M332.0 144.2h0M397.3 109.6h0M413.0 4.4h0M362.7 96.1h0M420.1 160.4h0M423.1 84.1h0M269.2 32.1h0M399.5 133.0h0M298.6 150.8h0M305.2 139.4h0M400.5 21.1h0M410.7 130.1h0M323.4 109.3h0M281.9 121.6h0M271.2 90.5h0M396.0 158.6h0M330.5 -0.9h0M402.6 143.2h0M418.0 105.0h0M387.6 158.1h0M296.8 104.0h0M431.8 61.1h0M348.3 22.3h0M432.1 134.0h0M305.3 45.8h0M362.8 146.8h0M322.1 90.5h0M293.7 99.5h0M306.7 99.3h0M408.8 124.6h0M390.5 60.2h0M364.6 42.7h0M320.6 76.6h0M331.3 112.9h0M347.6 127.3h0M294.9 76.9h0M383.5 46.2h0M377.8 -1.0h0M282.5 64.6h0M357.6 5.7h0M332.6 147.2h0M326.3 27.3h0M359.2 160.2h0M278.5 38.5h0M313.0 159.4h0M328.5 132.2h0M310.2 42.9h0M293.2 33.3h0M387.0 89.9h0M371.0 100.4h0M411.1 62.0h0M386.0 141.4h0M330.9 88.5h0M392.5 93.6h0M338.3 137.6h0M281.4 88.3h0M280.3 159.4h0M429.8 107.5h0M269.2 81.8h0M398.8 27.0h0M303.9 51.0h0M304.2 75.2h0M392.5 159.2h0" stroke="#e8e8e8" stroke-width="2.5" stroke-linecap="round" stroke-opacity="0.33"/><path d="M369.7 57.2h0M284.5 144.0h0M350.3 26.1h0M407.7 111.7h0M387.1 61.8h0M322.5 154.7h0M348.0 55.4h0M324.9 102.1h0M393.6 38.6h0M432.1 124.8h0M273.2 71.3h0M358.6 3.0h0M398.3 140.5h0M383.8 95.7h0M359.9 51.8h0M354.6 30.1h0M308.7 14.4h0M424.9 148.2h0M332.4 60.8h0M293.2 156.8h0M296.4 66.7h0M363.2 121.2h0M394.5 119.3h0M403.7 103.1h0M339.3 26.7h0M269.6 67.6h0M395.8 90.0h0M284.3 77.8h0M290.4 112.1h0M357.4 46.7h0M331.0 54.4h0M306.2 156.4h0M387.4 133.5h0M303.1 5.3h0M318.5 129.5h0M324.6 105.6h0M295.4 92.7h0M315.1 64.1h0M272.3 15.4h0M404.9 72.5h0M377.1 132.5h0M289.4 127.4h0M361.6 114.4h0M337.6 73.1h0M312.8 114.2h0M326.2 154.9h0M331.3 114.3h0M313.4 86.2h0M389.3 16.9h0M293.6 124.7h0M361.1 90.4h0M386.4 104.7h0M313.2 134.5h0M345.3 161.7h0M274.4 70.2h0M356.1 5.0h0M287.6 129.8h0M374.8 100.3h0M323.3 97.8h0M392.4 151.6h0M391.8 101.4h0M281.3 147.3h0M386.9 69.7h0M436.3 157.8h0M356.9 6.1h0M359.9 1.2h0M300.3 122.6h0M376.9 60.9h0M376.1 52.5h0M346.1 159.0h0M435.3 88.8h0M356.4 1.5h0M436.0 35.5h0M293.8 158.5h0M350.1 41.4h0M288.6 146.3h0M270.4 117.0h0M353.2 124.2h0M333.5 37.0h0M376.9 2.8h0M330.9 93.9h0M398.3 58.5h0M371.3 73.3h0M282.8 106.2h0M272.5 113.0h0M373.3 51.3h0M402.6 114.6h0M368.4 37.2h0M340.1 102.3h0M349.9 46.8h0M288.2 1.2h0M368.9 35.7h0M340.0 155.3h0M435.4 124.6h0M376.2 61.4h0M320.0 16.3h0M307.3 69.3h0M329.9 37.4h0M315.2 145.7h0M306.2 100.7h0M369.0 15.8h0M339.0 159.4h0M307.7 115.5h0M347.4 145.3h0M282.6 22.4h0M292.6 135.7h0M385.2 127.5h0M333.9 56.0h0M391.2 114.0h0M292.1 87.3h0M291.2 84.0h0M298.3 48.9h0M321.9 65.3h0M305.4 6.0h0M334.2 22.7h0M402.0 1.5h0M421.7 112.3h0M302.7 81.6h0M343.6 94.5h0M320.9 163.1h0M346.8 61.2h0M324.4 85.9h0M350.2 42.8h0M335.7 145.9h0M329.2 153.6h0M329.6 107.1h0M402.6 120.1h0M395.1 26.7h0" stroke="#e8e8e8" stroke-width="2.5" stroke-linecap="round" stroke-opacity="0.50"/><path d="M309.2 97.2h0M329.5 25.8h0M315.7 114.7h0M296.5 93.9h0M311.7 41.4h0M285.1 161.1h0M351.0 142.5h0M313.4 73.9h0M282.8 25.8h0M280.4 26.1h0M292.5 153.8h0M344.4 30.8h0M421.6 123.3h0M289.9 2.6h0M345.8 118.9h0M342.6 49.9h0M321.7 52.5h0M345.3 68.5h0M317.4 151.9h0M333.4 78.2h0M320.8 75.1h0M332.8 130.8h0M325.3 95.8h0M352.7 62.1h0M277.4 25.3h0M405.3 71.9h0M346.3 142.3h0M273.2 89.0h0M312.3 84.0h0M312.8 95.7h0M329.6 29.8h0M412.9 60.5h0M329.0 160.0h0M332.6 95.0h0M343.9 38.1h0M338.8 114.5h0M289.7 7.0h0M315.3 23.5h0M330.8 133.3h0M330.6 40.9h0M276.1 107.3h0M308.2 25.0h0M337.9 146.5h0M358.0 27.8h0M350.3 143.0h0M305.3 142.8h0M285.4 118.3h0M274.1 127.8h0M339.4 80.8h0M306.4 19.1h0M369.7 60.5h0M298.1 72.4h0M331.3 128.3h0M434.5 144.8h0M327.1 59.9h0M271.3 154.3h0M338.7 9.8h0M305.9 -0.2h0M313.7 20.8h0M272.2 32.8h0M384.2 148.8h0M361.0 2.0h0M304.6 122.0h0M305.3 125.6h0M278.1 149.5h0M295.3 140.1h0M299.7 146.1h0M287.1 22.4h0M401.3 57.2h0M304.2 12.9h0M366.3 114.4h0M290.0 153.2h0M293.0 33.0h0M358.4 11.4h0M351.4 100.7h0M370.3 142.4h0M271.4 114.3h0M290.6 87.6h0" stroke="#e8e8e8" stroke-width="2.5" stroke-linecap="round" stroke-opacity="0.67"/><path d="M277.4 48.1h0M313.8 64.0h0M280.0 58.6h0M362.1 118.7h0M345.4 159.5h0M316.4 151.3h0M369.1 91.5h0M295.4 10.6h0M332.5 116.5h0M318.5 159.1h0M338.0 157.0h0M328.6 135.0h0M390.9 145.0h0M298.9 43.7h0M333.8 105.1h0M322.5 121.9h0M286.6 135.0h0M394.3 113.7h0M348.5 160.8h0M370.2 49.4h0M372.8 54.7h0M268.3 18.5h0M344.2 111.2h0M337.5 78.4h0M306.5 97.4h0M304.6 29.1h0M342.8 157.0h0M301.3 62.8h0" stroke="#e8e8e8" stroke-width="2.5" stroke-linecap="round" stroke-opacity="0.83"/><path d="M284.5 160.1h0M290.5 35.7h0M271.4 61.0h0M286.4 77.5h0M316.4 3.8h0M340.2 101.8h0M271.4 137.2h0M324.2 121.5h0M274.3 73.5h0M304.2 24.2h0M283.9 160.7h0M291.2 138.3h0M270.2 69.7h0M302.8 9.7h0M270.8 7.4h0" stroke="#e8e8e8" stroke-width="2.5" stroke-linecap="round"/><path d="M408.7 160.7h0M379.3 162.6h0M406.5 145.8h0M417.6 70.1h0M401.3 42.3h0M412.8 157.7h0M405.5 49.6h0M396.7 10.2h0M417.6 127.7h0M403.8 76.0h0M400.5 14.1h0M424.9 152.9h0M417.4 31.9h0M378.4 73.7h0M368.9 66.3h0M433.3 151.2h0M439.0 43.1h0M417.1 82.8h0M423.2 10.6h0M356.5 119.5h0M404.1 18.1h0M356.9 88.7h0M374.9 12.0h0M417.2 163.7h0M422.0 9.8h0M410.0 87.1h0M418.6 42.3h0M421.6 29.5h0M425.7 53.8h0M374.0 151.4h0M365.1 3.9h0M370.4 67.7h0M427.8 -0.6h0M417.0 106.0h0M341.1 22.1h0M379.5 149.9h0M431.4 127.9h0M408.4 73.9h0M434.5 140.9h0M401.6 87.9h0M443.2 114.1h0M389.8 88.6h0M397.5 140.7h0M431.9 142.8h0" stroke="#e8e8e8" stroke-width="3" stroke-linecap="round" stroke-opacity="0.17"/><path d="M313.3 148.5h0M275.3 137.0h0M438.3 55.8h0M347.1 39.8h0M339.1 32.6h0M424.7 1.5h0M376.8 113.2h0M268.8 79.7h0M296.5 86.0h0M377.8 72.3h0M439.8 8.4h0M292.1 156.2h0M427.9 73.3h0M391.9 115.1h0M275.0 135.5h0M404.9 3.7h0M393.0 155.0h0M382.4 87.8h0M437.7 105.1h0M269.7 30.3h0M279.4 1.4h0M395.2 21.8h0M281.1 73.7h0M377.3 34.7h0M289.2 157.4h0M370.5 16.8h0M361.2 126.9h0M286.8 133.2h0M280.4 10.2h0M385.1 33.3h0M342.6 98.3h0M327.9 117.3h0M387.3 22.4h0M330.0 113.0h0M336.1 99.5h0M294.8 56.9h0M401.5 74.3h0M283.3 139.5h0M428.8 131.9h0M435.1 103.6h0M287.4 122.1h0M420.3 96.1h0M371.5 35.7h0M384.9 29.6h0M381.4 98.3h0M336.2 130.9h0M305.4 -0.6h0M383.5 86.8h0M385.0 72.6h0M430.8 90.1h0M400.6 121.9h0M351.0 82.6h0M424.9 66.3h0M345.7 52.6h0M339.8 97.6h0M313.3 133.4h0M394.2 35.9h0M417.3 2.5h0M347.6 1.9h0M303.7 54.4h0M315.6 80.4h0M326.0 24.7h0M441.3 53.1h0M388.4 139.1h0M291.8 140.8h0M340.8 56.9h0M363.5 69.3h0M392.0 48.3h0M311.9 152.2h0M327.2 111.4h0M414.4 75.0h0M428.0 137.3h0M350.9 75.5h0M330.2 56.6h0M407.8 159.0h0M440.7 119.5h0M293.8 151.1h0M388.7 99.5h0M425.8 163.1h0M418.7 67.2h0M395.1 135.3h0M314.5 83.0h0M428.1 94.3h0M356.2 91.6h0M329.6 145.3h0M294.5 80.9h0M313.1 83.2h0M349.6 132.7h0M420.9 88.6h0M417.9 92.8h0M383.1 25.1h0M388.8 87.2h0M316.8 85.7h0M359.7 45.3h0M287.8 23.2h0M358.3 40.6h0M308.9 103.6h0M427.8 158.9h0M415.8 131.3h0M359.3 80.7h0M417.5 16.7h0M422.7 6.0h0M415.6 123.4h0M292.7 61.9h0M364.3 67.3h0M399.0 127.9h0M287.4 110.6h0M426.0 146.9h0M430.2 101.9h0M352.0 163.5h0M334.5 86.2h0M274.4 157.8h0M382.4 -0.1h0M272.6 17.5h0M414.3 124.6h0M394.9 34.9h0M403.7 61.9h0M315.1 86.3h0M365.6 126.6h0M315.5 6.8h0M284.8 10.1h0M432.7 16.7h0M310.9 54.1h0M290.9 147.4h0M293.5 27.2h0M271.7 25.4h0M325.8 85.4h0M372.4 66.2h0M339.0 67.7h0M422.6 97.8h0M340.8 9.8h0M286.1 -0.9h0M417.8 103.3h0M291.6 6.8h0M382.1 54.3h0M395.9 93.6h0M279.7 19.7h0M399.8 83.7h0M432.6 161.9h0M295.7 91.3h0M271.6 87.0h0M307.4 156.7h0M337.7 64.3h0M318.0 149.5h0M340.8 128.8h0M368.8 17.9h0M427.2 131.1h0M427.9 163.6h0M345.7 84.9h0M396.8 54.9h0M373.1 63.9h0M367.1 18.2h0M435.7 152.7h0M300.7 8.0h0M437.4 70.6h0M412.2 47.2h0M360.4 56.6h0M441.6 45.1h0M305.6 129.7h0M305.4 71.9h0M413.8 43.4h0M288.2 116.5h0M314.9 79.7h0M410.7 21.8h0M415.9 101.3h0M291.1 28.1h0M298.0 8.1h0M426.7 88.7h0M296.7 104.6h0M413.0 131.7h0M281.9 160.7h0M298.1 70.9h0M270.1 75.0h0M392.9 1.4h0M348.9 18.2h0M394.3 64.5h0M374.6 116.2h0M424.8 100.8h0M287.2 160.0h0M289.7 61.4h0M428.4 148.1h0M415.8 156.0h0M383.6 6.7h0M383.4 1.8h0M431.4 155.2h0M337.9 61.4h0M343.8 122.8h0M385.3 103.5h0" stroke="#e8e8e8" stroke-width="3" stroke-linecap="round" stroke-opacity="0.33"/><path d="M307.3 89.0h0M280.2 91.3h0M371.9 70.8h0M331.8 36.0h0M316.5 58.9h0M404.3 64.1h0M327.6 9.9h0M404.8 76.8h0M279.9 118.5h0M272.2 135.9h0M329.3 52.5h0M299.3 15.5h0M307.4 31.0h0M307.8 157.6h0M297.5 95.6h0M339.5 68.4h0M403.6 60.3h0M325.9 119.8h0M283.0 30.9h0M280.9 114.7h0M354.9 118.1h0M385.9 136.7h0M299.8 10.5h0M314.9 109.7h0M319.4 153.1h0M302.6 84.6h0M341.5 156.9h0M381.6 113.5h0M298.2 83.1h0M376.5 21.2h0M379.9 78.6h0M336.3 23.6h0M344.9 125.8h0M299.6 64.2h0M371.4 118.0h0M376.5 31.0h0M415.2 114.1h0M380.0 121.2h0M300.7 28.9h0M380.0 72.1h0M328.5 150.5h0M273.9 114.6h0M290.3 34.9h0M293.8 147.1h0M275.4 113.7h0M367.0 151.0h0M343.0 68.5h0M366.6 27.2h0M326.5 64.2h0M297.0 65.4h0M312.9 15.1h0M272.1 44.2h0M313.8 39.2h0M298.2 72.3h0M304.3 59.9h0M369.3 158.0h0M297.0 38.6h0M289.9 129.7h0M312.2 130.4h0M310.0 92.3h0M345.7 111.7h0M313.2 4.2h0M283.4 4.1h0M286.5 94.0h0M280.1 155.9h0M438.5 135.3h0M413.1 132.0h0M313.8 68.6h0M320.8 70.4h0M304.8 105.9h0M287.8 77.0h0M300.9 153.1h0M365.3 155.5h0M389.4 17.4h0M337.0 68.2h0M373.2 17.6h0M313.7 156.6h0M381.8 23.1h0M357.5 95.3h0M399.5 145.1h0M368.4 65.8h0M331.0 160.3h0M317.2 27.6h0M279.0 28.8h0M301.7 102.7h0M399.5 70.2h0M400.9 63.5h0M368.0 117.5h0M327.4 106.2h0M389.1 84.5h0M322.7 118.6h0M278.7 162.2h0M385.7 9.8h0M380.2 95.4h0M330.4 129.3h0M407.3 66.9h0M284.1 8.4h0M394.8 148.7h0M364.7 100.6h0M323.9 11.7h0M309.7 69.8h0M277.5 142.7h0M380.4 5.7h0M390.5 62.5h0M383.1 0.7h0M410.9 68.0h0M325.3 1.4h0M379.7 65.5h0M298.4 128.7h0M395.4 150.3h0M421.6 152.4h0M305.6 63.6h0M338.5 89.4h0M299.4 67.6h0M274.7 76.8h0M316.8 115.7h0M421.9 128.0h0M310.9 121.4h0M376.5 161.6h0M322.9 16.2h0M373.9 55.8h0M386.4 53.3h0M399.9 129.3h0M282.8 81.7h0M370.5 54.0h0M303.3 145.9h0M301.7 59.1h0M309.6 13.2h0M302.6 149.8h0M328.2 82.8h0M293.2 33.4h0M268.9 110.2h0M307.8 145.3h0M368.5 130.0h0M316.6 146.9h0M273.9 128.5h0M318.7 111.6h0M326.9 38.8h0M280.7 90.2h0M343.3 32.3h0M301.3 39.0h0M325.1 56.4h0M357.2 140.1h0M276.7 85.7h0M385.8 88.9h0M326.7 30.6h0M285.8 50.2h0M353.6 7.8h0M333.6 90.6h0M378.2 143.9h0M307.8 36.5h0M300.3 121.7h0M395.9 84.8h0M307.9 77.3h0M362.2 154.7h0" stroke="#e8e8e8" stroke-width="3" stroke-linecap="round" stroke-opacity="0.50"/><path d="M337.2 84.5h0M352.4 81.1h0M334.2 85.2h0M358.8 143.8h0M313.7 126.3h0M391.1 10.9h0M303.2 74.3h0M284.5 119.5h0M269.2 11.4h0M408.2 149.6h0M325.9 126.1h0M286.5 135.2h0M319.0 46.7h0M380.6 113.0h0M328.1 29.9h0M269.8 125.0h0M312.6 107.2h0M327.7 128.2h0M379.3 146.6h0M343.6 14.2h0M344.3 61.8h0M329.6 86.8h0M335.5 113.0h0M295.8 23.6h0M276.0 19.2h0M338.1 31.7h0M324.7 7.9h0M327.3 16.9h0M334.8 0.8h0M334.9 36.6h0M345.9 136.0h0M268.3 130.8h0M287.3 6.0h0M359.4 69.2h0M341.3 4.6h0M288.2 82.9h0M333.9 113.9h0M270.2 62.3h0M349.0 90.1h0M309.9 61.9h0M358.8 62.6h0M340.7 162.5h0M385.5 112.7h0M335.7 131.5h0M272.4 79.7h0M348.9 105.8h0M353.2 144.0h0M286.8 118.4h0M278.6 119.8h0M280.1 41.9h0M276.1 161.0h0M285.8 115.5h0M295.5 86.0h0M353.7 130.7h0M300.8 140.9h0M298.9 158.3h0M333.2 20.2h0M289.3 1.2h0M355.3 114.8h0M350.5 16.8h0M280.5 103.2h0M298.5 161.4h0M331.6 11.7h0M290.8 160.0h0M271.8 26.1h0M389.4 100.9h0M307.6 21.1h0M325.9 77.7h0M313.9 138.4h0M279.0 77.9h0M284.0 115.4h0M341.7 2.8h0M281.1 90.0h0M338.3 82.5h0M312.5 134.3h0M322.9 135.7h0M279.2 151.3h0M314.2 143.6h0M347.4 70.3h0M388.6 127.1h0M429.8 156.3h0M284.1 64.1h0M296.0 140.1h0M300.1 69.4h0M356.6 154.1h0M370.5 159.5h0M371.3 131.8h0M337.6 130.6h0M386.4 142.8h0M350.1 128.9h0M317.5 59.1h0M352.4 10.4h0M332.3 142.0h0M365.0 152.6h0M356.1 6.5h0M312.1 99.3h0M310.4 71.6h0M278.8 115.1h0M271.3 100.0h0M296.2 78.3h0M318.6 67.2h0M321.7 80.6h0M318.2 49.5h0M335.5 44.9h0M305.7 0.4h0M328.3 39.1h0M321.3 44.0h0M296.7 156.2h0M341.0 22.4h0M291.5 120.6h0M386.6 25.6h0M289.2 146.7h0M325.3 8.0h0M373.9 159.6h0M290.1 95.0h0M352.1 49.5h0M321.3 17.8h0M298.7 81.7h0M289.6 119.0h0M336.2 7.3h0M357.8 113.4h0M345.4 84.8h0M313.0 118.3h0M323.6 146.2h0M290.0 59.0h0M305.3 91.1h0M290.8 145.2h0M351.8 147.0h0M329.7 130.1h0M368.3 132.5h0M285.9 35.1h0M345.6 42.0h0M309.2 122.6h0M274.8 69.2h0M342.5 132.5h0" stroke="#e8e8e8" stroke-width="3" stroke-linecap="round" stroke-opacity="0.67"/><path d="M285.8 14.7h0M329.2 122.8h0M400.2 146.0h0M287.6 49.6h0M307.4 14.5h0M304.5 69.8h0M377.9 76.8h0M276.6 83.8h0M339.9 157.4h0M318.0 102.9h0M268.3 7.1h0M278.7 58.5h0M291.9 80.3h0M379.6 87.0h0M341.0 94.1h0M291.5 2.0h0M370.4 52.0h0M328.0 153.7h0M278.9 53.1h0M350.0 147.8h0M361.8 44.8h0M331.6 84.6h0M380.6 57.4h0M273.5 32.7h0M297.6 104.8h0M328.6 151.6h0M315.5 149.8h0M325.6 99.2h0M320.4 60.4h0M327.5 102.3h0M275.8 7.9h0M329.8 156.3h0M339.4 121.5h0M289.5 53.4h0M318.7 74.2h0M268.5 123.5h0M305.2 152.7h0M331.9 85.0h0M307.7 40.6h0M326.7 132.1h0M303.9 20.8h0M336.0 120.2h0" stroke="#e8e8e8" stroke-width="3" stroke-linecap="round" stroke-opacity="0.83"/><path d="M289.1 161.4h0M272.0 60.7h0M345.4 64.6h0M309.1 95.7h0M279.8 90.3h0M336.4 159.4h0M317.5 75.6h0M335.1 57.0h0M316.5 121.9h0M300.6 34.1h0M367.8 157.6h0M318.4 22.9h0" stroke="#e8e8e8" stroke-width="3" stroke-linecap="round"/><path d="M387.5 17.9h0M437.1 86.7h0M388.2 5.9h0M426.4 37.4h0M442.3 23.5h0M438.1 65.8h0M414.4 60.9h0M393.0 9.4h0M425.5 39.8h0M422.2 8.8h0M373.7 15.5h0M439.5 155.2h0M408.5 141.5h0M393.7 79.8h0M397.0 161.3h0M365.2 2.7h0M393.1 51.5h0M394.5 123.2h0M407.3 64.0h0M355.3 50.2h0M416.2 29.0h0M432.4 100.2h0M442.3 14.1h0M379.2 34.3h0" stroke="#e8e8e8" stroke-width="3.5" stroke-linecap="round" stroke-opacity="0.17"/><path d="M374.4 74.5h0M369.7 65.6h0M415.6 23.9h0M431.8 35.2h0M312.0 67.0h0M318.6 148.6h0M287.6 40.0h0M287.4 154.7h0M355.8 98.8h0M306.2 4.9h0M387.3 116.0h0M309.0 70.1h0M314.7 116.3h0M389.9 62.6h0M289.7 39.1h0M349.9 117.1h0M429.8 131.7h0M307.1 121.9h0M428.2 90.0h0M357.9 152.9h0M298.9 98.5h0M399.9 116.5h0M277.2 154.8h0M417.9 129.5h0M364.7 65.4h0M331.9 149.6h0M296.2 112.8h0M293.9 36.6h0M344.5 63.5h0M401.9 93.6h0M283.4 127.2h0M429.9 154.6h0M332.7 157.4h0M278.3 82.6h0M386.7 99.8h0M424.7 71.6h0M396.9 107.6h0M378.2 19.7h0M285.7 67.0h0M307.3 0.4h0M311.1 91.0h0M379.2 138.1h0M425.1 44.2h0M334.1 80.2h0M276.1 144.0h0M289.4 131.2h0M413.4 15.1h0M286.1 81.8h0M306.4 76.9h0M400.0 113.8h0M270.3 53.5h0M291.6 145.1h0M361.0 27.8h0M374.6 1.6h0M360.5 111.5h0M330.7 145.7h0M293.2 98.4h0M401.8 90.6h0M269.9 38.1h0M344.8 106.6h0M314.3 127.7h0M405.2 63.4h0M414.2 110.1h0M361.6 2.3h0M399.0 114.9h0M404.0 38.7h0M313.2 121.7h0M348.3 84.4h0M362.9 15.2h0M269.8 0.6h0M384.6 116.1h0M332.0 44.6h0M418.5 86.9h0M342.8 23.0h0M360.0 134.0h0M354.8 158.3h0M313.7 96.2h0M370.2 113.0h0M347.2 21.1h0M287.8 139.1h0M289.7 53.5h0M424.0 127.6h0M323.2 57.4h0M333.3 114.5h0M275.5 104.6h0M341.7 109.2h0M360.7 61.5h0M435.0 100.4h0M360.1 99.1h0M278.6 99.2h0M372.8 159.8h0M375.4 144.8h0M397.0 163.7h0M431.4 9.6h0M387.3 60.0h0M424.7 62.7h0M416.3 90.0h0M373.0 0.6h0M314.2 40.4h0M382.5 18.3h0M416.0 122.4h0M302.6 123.3h0M368.0 149.7h0M377.9 41.5h0M329.9 80.8h0M373.8 85.5h0M439.1 89.4h0M301.6 39.3h0M284.5 42.3h0M301.7 139.5h0M427.3 8.4h0M329.8 156.6h0M277.3 80.7h0M386.7 95.4h0M377.9 55.3h0M280.6 104.0h0M348.1 89.7h0M281.0 149.8h0M360.7 155.8h0M394.2 138.8h0M427.8 140.5h0M378.3 41.2h0M425.4 104.0h0M398.4 158.9h0M309.8 159.1h0M402.9 55.9h0M270.1 35.1h0M353.0 0.9h0M279.6 100.1h0M314.3 37.7h0M303.2 11.7h0M365.2 79.1h0M415.0 30.7h0M294.8 117.1h0" stroke="#e8e8e8" stroke-width="3.5" stroke-linecap="round" stroke-opacity="0.33"/><path d="M413.8 153.6h0M382.8 137.0h0M285.8 90.2h0M294.8 123.9h0M292.4 44.4h0M420.7 163.3h0M280.6 77.8h0M310.0 161.8h0M348.2 66.2h0M387.0 25.6h0M320.9 41.2h0M302.8 18.7h0M312.5 109.3h0M371.4 135.8h0M290.0 149.9h0M269.1 139.2h0M338.7 70.4h0M272.7 52.3h0M428.2 155.2h0M273.9 71.5h0M332.7 90.4h0M269.7 90.3h0M356.4 79.6h0M330.2 143.3h0M305.5 73.6h0M317.4 151.1h0M343.2 30.7h0M418.8 39.2h0M429.9 148.4h0M320.8 158.6h0M392.7 93.6h0M337.5 105.5h0M373.3 18.1h0M317.7 141.6h0M286.9 10.4h0M369.8 72.6h0M355.7 108.8h0M368.8 52.6h0M404.3 148.0h0M311.7 47.0h0M298.6 38.9h0M339.1 131.0h0M399.2 144.6h0M289.8 56.0h0M366.7 97.6h0M398.0 39.9h0M341.0 126.2h0M328.1 162.1h0M316.9 104.6h0M392.9 79.7h0M274.3 157.0h0M375.3 141.0h0M350.7 22.2h0M302.8 101.9h0M286.4 58.3h0M379.8 9.2h0M340.4 115.8h0M300.2 22.8h0M369.1 143.6h0M330.2 15.1h0M327.1 83.8h0M289.8 58.0h0M280.8 134.1h0M334.1 143.8h0M342.5 160.8h0M363.5 161.1h0M307.6 1.1h0M388.0 148.1h0M317.3 -0.2h0M331.8 68.3h0M269.5 158.8h0M306.9 37.0h0M296.8 120.3h0M383.6 161.1h0M349.2 150.1h0M346.2 4.1h0M360.8 51.9h0M328.5 70.6h0M305.5 1.6h0M333.1 88.3h0M277.2 20.5h0M340.9 23.4h0M314.3 30.7h0M336.3 143.7h0M382.4 119.5h0M385.2 78.6h0M356.8 64.2h0M349.5 131.3h0M391.6 85.8h0M348.9 20.7h0M283.4 142.2h0M273.5 61.3h0M277.8 122.3h0M292.3 33.2h0M292.8 78.4h0M402.8 104.3h0M293.0 42.7h0M392.0 148.7h0M380.8 4.2h0M355.4 -0.2h0M276.5 2.6h0M328.1 155.1h0M333.5 55.0h0M291.2 19.0h0M354.7 47.5h0M274.4 156.7h0M348.4 93.2h0M325.3 4.7h0M386.4 72.4h0M321.1 109.4h0M360.7 35.9h0M383.2 56.8h0M350.5 89.4h0M370.1 51.0h0" stroke="#e8e8e8" stroke-width="3.5" stroke-linecap="round" stroke-opacity="0.50"/><path d="M303.0 102.2h0M354.7 148.8h0M276.2 63.7h0M280.3 89.5h0M326.3 92.8h0M314.3 24.3h0M321.3 124.8h0M299.0 71.3h0M287.9 80.5h0M307.1 121.8h0M309.6 59.4h0M381.0 103.7h0M284.6 95.7h0M307.8 126.3h0M327.2 134.4h0M304.5 2.9h0M373.8 54.6h0M269.0 130.7h0M334.3 43.4h0M288.9 122.6h0M356.0 54.5h0M312.0 149.6h0M385.8 111.9h0M284.1 118.8h0M319.1 65.3h0M315.5 79.4h0M357.9 80.5h0M310.4 137.5h0M358.7 30.0h0M349.9 137.5h0M326.7 115.6h0M376.5 53.7h0M273.5 55.2h0M411.5 161.6h0M406.0 89.8h0M364.1 154.3h0M316.9 157.5h0M366.7 58.5h0M410.1 141.2h0M279.5 49.5h0M341.5 17.4h0M303.3 140.9h0M337.6 68.8h0M362.8 117.3h0M340.9 128.2h0M270.1 99.8h0M288.8 34.6h0M374.5 121.3h0M329.8 118.0h0M332.2 155.1h0M270.4 75.7h0M417.5 161.6h0M320.9 123.1h0M323.5 88.4h0M341.1 56.8h0M330.0 120.8h0M360.6 92.0h0M322.5 138.9h0M318.3 9.9h0M362.8 137.7h0M315.5 46.2h0M342.3 131.4h0M351.7 78.9h0M334.1 110.2h0M277.8 13.5h0M277.2 112.9h0M272.1 108.7h0M389.4 132.1h0M320.3 29.8h0M292.6 136.2h0M354.7 79.9h0M340.0 76.5h0M296.0 3.2h0M346.9 26.6h0M363.0 34.7h0M273.5 93.2h0M328.9 13.1h0M413.6 113.1h0M320.5 121.3h0M281.9 33.9h0M346.2 42.6h0M333.7 120.1h0M309.8 62.7h0M294.3 27.2h0M338.6 106.9h0M274.8 35.6h0M369.5 159.0h0M320.8 108.5h0M273.2 147.5h0M292.3 128.4h0M276.5 16.4h0M410.1 141.8h0M309.2 49.1h0M411.2 123.7h0M297.3 109.1h0M317.9 74.9h0M269.5 94.1h0M352.9 53.4h0M384.0 87.1h0M357.8 142.1h0M312.8 19.7h0" stroke="#e8e8e8" stroke-width="3.5" stroke-linecap="round" stroke-opacity="0.67"/><path d="M302.9 35.2h0M355.9 156.7h0M319.2 88.8h0M314.7 91.4h0M367.2 82.8h0M305.4 12.7h0M370.7 154.0h0M309.0 77.7h0M299.8 99.5h0M362.6 71.5h0M318.6 72.6h0M352.1 158.1h0M278.0 163.6h0M367.0 131.8h0M378.6 101.3h0M277.2 42.5h0M269.3 9.5h0M306.6 68.1h0M329.9 85.3h0M288.5 134.7h0M286.6 59.3h0M318.0 136.6h0M353.9 124.3h0M286.9 91.0h0M273.2 37.8h0M306.3 144.0h0" stroke="#e8e8e8" stroke-width="3.5" stroke-linecap="round" stroke-opacity="0.83"/><path d="M270.3 34.3h0M277.5 89.0h0M286.5 74.2h0M306.2 154.0h0M323.9 112.0h0M325.8 50.7h0M343.1 60.3h0M321.7 13.0h0M309.3 140.4h0M360.7 142.2h0M320.1 16.0h0M343.0 88.2h0M279.4 60.4h0M313.3 157.0h0M301.8 32.5h0" stroke="#e8e8e8" stroke-width="3.5" stroke-linecap="round"/></g></g><rect x="404" y="154" width="27" height="2.8" fill="#fff"/><text x="404.2" y="151" style="font-family:'Liberation Sans',Arial,sans-serif;font-weight:bold;font-size:7.8px" fill="#fff">10 nm</text><text x="251.5" y="19" style="font-family:'Liberation Sans',Arial,sans-serif;font-weight:bold;font-size:20px">b</text><g id="pc"><rect x="498.8" y="132.4" width="11.3" height="17.1" fill="url(#gbar)" stroke="#13805a" stroke-width="0.5"/><rect x="510.1" y="102.6" width="11.3" height="46.9" fill="url(#gbar)" stroke="#13805a" stroke-width="0.5"/><rect x="521.4" y="25.9" width="11.3" height="123.6" fill="url(#gbar)" stroke="#13805a" stroke-width="0.5"/><rect x="532.7" y="40.8" width="11.3" height="108.7" fill="url(#gbar)" stroke="#13805a" stroke-width="0.5"/><rect x="544.0" y="68.5" width="11.3" height="81.0" fill="url(#gbar)" stroke="#13805a" stroke-width="0.5"/><rect x="555.3" y="72.8" width="11.3" height="76.7" fill="url(#gbar)" stroke="#13805a" stroke-width="0.5"/><rect x="566.6" y="111.1" width="11.3" height="38.4" fill="url(#gbar)" stroke="#13805a" stroke-width="0.5"/><rect x="577.9" y="130.3" width="11.3" height="19.2" fill="url(#gbar)" stroke="#13805a" stroke-width="0.5"/><rect x="589.2" y="138.8" width="11.3" height="10.7" fill="url(#gbar)" stroke="#13805a" stroke-width="0.5"/><rect x="600.5" y="141.0" width="11.3" height="8.5" fill="url(#gbar)" stroke="#13805a" stroke-width="0.5"/><rect x="611.8" y="145.2" width="11.3" height="4.3" fill="url(#gbar)" stroke="#13805a" stroke-width="0.5"/><rect x="623.0" y="147.4" width="11.3" height="2.1" fill="url(#gbar)" stroke="#13805a" stroke-width="0.5"/><rect x="470.5" y="0.5" width="198" height="149" fill="none" stroke="#111" stroke-width="1"/><line x1="470.6" y1="149.5" x2="470.6" y2="152" stroke="#111" stroke-width="0.9"/><text x="470.6" y="160.4" text-anchor="middle" style="font-family:'Liberation Sans',Arial,sans-serif;font-weight:bold;font-size:8.6px" stroke="#000" stroke-width="0.25">0.5</text><line x1="498.8" y1="149.5" x2="498.8" y2="152" stroke="#111" stroke-width="0.9"/><text x="498.8" y="160.4" text-anchor="middle" style="font-family:'Liberation Sans',Arial,sans-serif;font-weight:bold;font-size:8.6px" stroke="#000" stroke-width="0.25">1.0</text><line x1="527.1" y1="149.5" x2="527.1" y2="152" stroke="#111" stroke-width="0.9"/><text x="527.1" y="160.4" text-anchor="middle" style="font-family:'Liberation Sans',Arial,sans-serif;font-weight:bold;font-size:8.6px" stroke="#000" stroke-width="0.25">1.5</text><line x1="555.3" y1="149.5" x2="555.3" y2="152" stroke="#111" stroke-width="0.9"/><text x="555.3" y="160.4" text-anchor="middle" style="font-family:'Liberation Sans',Arial,sans-serif;font-weight:bold;font-size:8.6px" stroke="#000" stroke-width="0.25">2.0</text><line x1="583.5" y1="149.5" x2="583.5" y2="152" stroke="#111" stroke-width="0.9"/><text x="583.5" y="160.4" text-anchor="middle" style="font-family:'Liberation Sans',Arial,sans-serif;font-weight:bold;font-size:8.6px" stroke="#000" stroke-width="0.25">2.5</text><line x1="611.8" y1="149.5" x2="611.8" y2="152" stroke="#111" stroke-width="0.9"/><text x="611.8" y="160.4" text-anchor="middle" style="font-family:'Liberation Sans',Arial,sans-serif;font-weight:bold;font-size:8.6px" stroke="#000" stroke-width="0.25">3.0</text><line x1="640.0" y1="149.5" x2="640.0" y2="152" stroke="#111" stroke-width="0.9"/><text x="640.0" y="160.4" text-anchor="middle" style="font-family:'Liberation Sans',Arial,sans-serif;font-weight:bold;font-size:8.6px" stroke="#000" stroke-width="0.25">3.5</text><line x1="668.2" y1="149.5" x2="668.2" y2="152" stroke="#111" stroke-width="0.9"/><text x="668.2" y="160.4" text-anchor="middle" style="font-family:'Liberation Sans',Arial,sans-serif;font-weight:bold;font-size:8.6px" stroke="#000" stroke-width="0.25">4.0</text><line x1="484.7" y1="149.5" x2="484.7" y2="151" stroke="#111" stroke-width="0.7"/><line x1="512.9" y1="149.5" x2="512.9" y2="151" stroke="#111" stroke-width="0.7"/><line x1="541.2" y1="149.5" x2="541.2" y2="151" stroke="#111" stroke-width="0.7"/><line x1="569.4" y1="149.5" x2="569.4" y2="151" stroke="#111" stroke-width="0.7"/><line x1="597.6" y1="149.5" x2="597.6" y2="151" stroke="#111" stroke-width="0.7"/><line x1="625.9" y1="149.5" x2="625.9" y2="151" stroke="#111" stroke-width="0.7"/><line x1="654.1" y1="149.5" x2="654.1" y2="151" stroke="#111" stroke-width="0.7"/><line x1="468" y1="149.5" x2="470.6" y2="149.5" stroke="#111" stroke-width="0.9"/><text x="466.6" y="152.7" text-anchor="end" style="font-family:'Liberation Sans',Arial,sans-serif;font-weight:bold;font-size:8.8px" stroke="#000" stroke-width="0.25">0</text><line x1="468" y1="106.9" x2="470.6" y2="106.9" stroke="#111" stroke-width="0.9"/><text x="466.6" y="110.1" text-anchor="end" style="font-family:'Liberation Sans',Arial,sans-serif;font-weight:bold;font-size:8.8px" stroke="#000" stroke-width="0.25">20</text><line x1="468" y1="64.2" x2="470.6" y2="64.2" stroke="#111" stroke-width="0.9"/><text x="466.6" y="67.4" text-anchor="end" style="font-family:'Liberation Sans',Arial,sans-serif;font-weight:bold;font-size:8.8px" stroke="#000" stroke-width="0.25">40</text><line x1="468" y1="21.6" x2="470.6" y2="21.6" stroke="#111" stroke-width="0.9"/><text x="466.6" y="24.8" text-anchor="end" style="font-family:'Liberation Sans',Arial,sans-serif;font-weight:bold;font-size:8.8px" stroke="#000" stroke-width="0.25">60</text><line x1="469.2" y1="128.2" x2="470.6" y2="128.2" stroke="#111" stroke-width="0.7"/><line x1="469.2" y1="85.5" x2="470.6" y2="85.5" stroke="#111" stroke-width="0.7"/><line x1="469.2" y1="42.9" x2="470.6" y2="42.9" stroke="#111" stroke-width="0.7"/><text x="567" y="171" text-anchor="middle" style="font-family:'Liberation Sans',Arial,sans-serif;font-weight:bold;font-size:8.7px" stroke="#000" stroke-width="0.2">Size (nm)</text><text transform="translate(455.7,74) rotate(-90)" text-anchor="middle" style="font-family:'Liberation Sans',Arial,sans-serif;font-weight:bold;font-size:8.8px" stroke="#000" stroke-width="0.2">Count</text><text x="447.5" y="15" style="font-family:'Liberation Sans',Arial,sans-serif;font-weight:bold;font-size:20px">c</text></g><g id="pd" clip-path="url(#cd)"><rect x="3.1" y="173.8" width="262.9" height="262.2" fill="#121212"/><polygon points="45,192 175,190 250,252 262,300 258,400 232,434 100,430 24,342 12,280 18,226" fill="#333" filter="url(#blur12)"/><ellipse cx="135" cy="300" rx="80" ry="85" fill="#3e3e3e" filter="url(#blur12)"/><rect x="3.1" y="173.8" width="262.9" height="262.2" filter="url(#noiseO)" style="mix-blend-mode:overlay"/><g filter="url(#blur14)"><path d="M75.0 185.9h0M86.8 185.7h0M99.0 186.2h0M111.8 185.1h0M175.6 186.1h0M50.2 208.9h0M201.4 209.6h0M25.8 233.9h0M38.4 234.2h0M227.3 233.5h0M13.2 258.1h0M26.3 259.0h0M240.9 258.5h0M253.3 258.1h0M15.0 282.7h0M229.1 282.1h0M241.4 282.2h0M254.0 281.7h0M267.7 281.5h0M15.2 304.6h0M255.5 304.6h0M268.4 304.2h0M15.4 327.1h0M230.2 327.1h0M255.6 326.8h0M268.6 327.2h0M29.7 350.2h0M244.7 349.9h0M257.3 349.2h0M55.3 372.3h0M232.2 372.4h0M244.4 371.8h0M69.6 395.2h0M81.2 395.6h0M207.3 395.7h0M220.9 395.5h0M233.2 395.1h0M94.5 419.0h0M108.2 418.6h0M170.7 418.9h0M196.3 418.8h0M209.1 417.9h0" stroke="#f4f4f4" stroke-width="5" stroke-linecap="round" stroke-opacity="0.14"/><path d="M125.5 185.0h0M138.2 185.9h0M149.9 185.8h0M162.4 185.2h0M62.7 209.8h0M75.7 209.0h0M138.8 209.6h0M151.0 209.8h0M50.3 234.1h0M63.4 234.0h0M76.4 234.5h0M102.0 233.8h0M113.7 233.8h0M152.0 233.8h0M164.9 233.6h0M202.3 233.5h0M214.5 233.6h0M63.5 257.9h0M77.4 258.1h0M101.9 258.3h0M115.2 258.3h0M127.0 258.5h0M139.8 257.9h0M152.7 258.3h0M177.6 257.9h0M190.4 258.8h0M215.7 258.1h0M229.0 258.1h0M26.9 282.2h0M39.5 282.0h0M51.9 282.5h0M141.4 282.2h0M154.1 282.5h0M191.7 282.1h0M203.3 282.2h0M216.6 282.4h0M65.4 304.8h0M216.9 305.3h0M230.6 304.9h0M242.0 304.3h0M29.3 327.2h0M40.8 327.0h0M53.3 327.5h0M117.2 327.5h0M129.9 327.0h0M166.9 327.3h0M192.5 327.8h0M217.9 327.7h0M242.9 327.2h0M41.4 349.6h0M55.4 349.7h0M67.2 349.9h0M80.5 350.4h0M91.9 349.5h0M118.5 349.4h0M130.3 349.7h0M143.7 350.1h0M206.7 349.7h0M231.2 350.4h0M68.7 373.0h0M105.9 372.0h0M118.5 372.9h0M131.2 371.9h0M156.3 372.1h0M168.7 371.8h0M195.0 372.5h0M220.0 372.1h0M144.4 395.5h0M169.3 395.6h0M194.9 396.1h0M119.7 419.1h0M132.4 418.5h0M145.6 417.9h0M158.3 418.3h0M183.1 418.9h0" stroke="#f4f4f4" stroke-width="5" stroke-linecap="round" stroke-opacity="0.29"/><path d="M88.0 209.5h0M100.3 209.0h0M113.6 209.7h0M126.4 209.1h0M163.5 210.1h0M176.3 209.5h0M188.8 210.0h0M88.8 234.8h0M126.2 234.2h0M139.6 233.5h0M176.8 234.6h0M190.3 234.6h0M38.9 259.0h0M51.4 258.5h0M89.6 258.8h0M165.8 257.9h0M203.0 259.1h0M65.3 282.0h0M77.4 281.5h0M89.9 281.6h0M102.9 282.6h0M115.5 282.0h0M127.7 281.8h0M165.9 281.4h0M178.3 282.5h0M27.3 305.1h0M40.3 304.7h0M52.9 305.3h0M78.5 304.7h0M91.4 305.5h0M104.1 304.6h0M115.8 304.6h0M129.6 304.3h0M141.5 305.0h0M153.9 305.3h0M167.2 305.1h0M179.5 304.9h0M191.7 304.2h0M205.0 305.1h0M66.2 327.1h0M78.8 326.5h0M92.1 326.7h0M105.0 327.8h0M142.1 326.6h0M155.3 326.5h0M180.9 326.9h0M205.2 326.8h0M105.6 350.3h0M155.4 349.4h0M168.6 350.1h0M180.4 349.3h0M194.3 349.7h0M219.3 349.9h0M80.2 371.9h0M93.7 372.8h0M144.0 372.7h0M181.2 372.6h0M206.5 372.8h0M93.6 395.5h0M107.3 395.7h0M119.4 395.5h0M131.6 395.6h0M157.5 395.0h0M183.0 394.8h0" stroke="#f4f4f4" stroke-width="5" stroke-linecap="round" stroke-opacity="0.43"/><path d="M87.2 173.7h0M174.7 173.4h0M49.4 197.6h0M226.9 221.4h0M12.9 245.9h0M253.6 246.4h0M266.6 270.1h0M268.1 294.3h0M268.6 316.0h0M15.9 338.3h0M255.7 338.3h0M42.3 361.5h0M257.6 361.4h0M55.3 384.6h0M245.4 384.3h0M81.2 406.8h0M233.8 406.3h0M107.6 430.4h0M184.0 430.4h0M196.9 430.0h0" stroke="#f4f4f4" stroke-width="6" stroke-linecap="round" stroke-opacity="0.14"/><path d="M99.3 174.1h0M111.3 174.5h0M123.9 174.0h0M162.6 173.6h0M61.6 196.7h0M189.0 196.6h0M200.4 197.6h0M38.3 221.2h0M50.7 221.8h0M26.2 246.2h0M240.7 247.3h0M14.1 270.5h0M253.6 270.2h0M15.5 293.4h0M15.3 315.9h0M255.1 316.0h0M245.1 360.4h0M232.1 384.4h0M220.9 407.4h0M121.3 429.7h0M158.2 429.7h0M171.5 430.2h0" stroke="#f4f4f4" stroke-width="6" stroke-linecap="round" stroke-opacity="0.29"/><path d="M137.0 174.3h0M149.3 173.7h0M74.2 196.7h0M99.9 197.2h0M214.9 221.6h0M38.7 246.3h0M241.6 271.0h0M28.2 293.2h0M255.4 293.4h0M28.4 315.6h0M217.8 315.6h0M243.4 316.1h0M29.7 338.4h0M231.2 338.0h0M243.2 337.9h0M54.6 360.6h0M219.7 360.3h0M232.2 361.5h0M68.4 383.6h0M80.7 383.9h0M220.4 383.9h0M94.4 407.4h0M208.5 406.9h0M133.6 429.7h0M146.3 429.5h0" stroke="#f4f4f4" stroke-width="6" stroke-linecap="round" stroke-opacity="0.43"/><path d="M87.7 197.1h0M76.2 221.4h0M51.7 246.7h0M101.6 246.6h0M203.0 246.8h0M228.1 246.3h0M26.8 270.4h0M39.3 270.5h0M64.8 269.7h0M203.0 270.0h0M103.6 294.0h0M229.3 293.8h0M241.8 294.4h0M116.6 315.7h0M129.4 316.1h0M205.5 315.8h0M231.1 316.5h0M41.1 337.9h0M80.2 339.0h0M104.8 337.9h0M143.0 338.4h0M155.9 337.9h0M205.6 338.3h0M92.6 361.6h0M131.3 361.1h0M170.2 383.4h0M207.8 383.3h0M157.6 406.7h0M169.8 406.9h0M183.4 406.9h0M195.2 406.7h0" stroke="#f4f4f4" stroke-width="6" stroke-linecap="round" stroke-opacity="0.57"/><path d="M112.5 197.8h0M175.6 197.7h0M62.3 221.3h0M113.9 222.2h0M164.2 221.0h0M201.4 221.4h0M88.5 246.3h0M114.6 246.0h0M127.1 245.9h0M140.0 246.9h0M215.1 246.4h0M177.8 269.9h0M216.3 270.7h0M228.4 269.8h0M40.1 293.4h0M52.9 294.3h0M78.0 293.1h0M90.3 293.5h0M140.6 293.9h0M154.3 294.2h0M179.3 293.9h0M192.0 293.2h0M203.8 293.1h0M216.9 293.3h0M78.6 316.6h0M104.2 315.6h0M142.5 315.6h0M154.2 316.1h0M167.3 315.8h0M179.3 316.6h0M192.2 316.4h0M117.4 338.7h0M219.0 338.7h0M68.1 361.3h0M180.8 361.2h0M207.0 360.3h0M119.2 383.7h0M194.2 383.5h0M107.8 407.3h0M145.3 406.5h0" stroke="#f4f4f4" stroke-width="6" stroke-linecap="round" stroke-opacity="0.71"/><path d="M137.9 197.0h0M151.0 196.7h0M162.9 196.9h0M101.5 222.1h0M126.4 221.0h0M138.7 222.4h0M151.3 222.0h0M189.5 222.1h0M64.1 246.9h0M77.1 246.6h0M164.3 246.5h0M177.8 246.2h0M90.5 269.8h0M115.0 270.6h0M128.2 270.7h0M140.2 270.8h0M153.7 270.2h0M166.2 270.8h0M191.1 269.7h0M129.0 293.2h0M53.4 315.6h0M66.7 315.7h0M90.8 315.2h0M92.1 338.0h0M130.1 338.7h0M167.6 338.6h0M180.1 338.5h0M193.5 337.9h0M155.7 360.8h0M194.0 361.5h0M93.6 384.7h0M106.4 384.2h0M144.3 383.7h0M156.3 384.0h0M119.5 407.6h0M132.8 406.4h0" stroke="#f4f4f4" stroke-width="6" stroke-linecap="round" stroke-opacity="0.86"/><path d="M125.1 197.3h0M88.4 221.3h0M176.3 222.0h0M151.8 247.0h0M190.3 247.0h0M51.5 270.0h0M77.4 270.4h0M103.2 270.7h0M64.8 293.5h0M115.4 294.2h0M166.8 294.3h0M41.2 315.6h0M54.5 338.4h0M67.4 338.7h0M80.2 361.6h0M106.3 360.7h0M117.6 361.3h0M143.1 361.6h0M168.5 360.6h0M131.8 384.6h0M182.1 384.2h0" stroke="#f4f4f4" stroke-width="6" stroke-linecap="round"/></g></g><rect x="6" y="177" width="41.3" height="16" rx="3.5" fill="#fff"/><text x="26.6" y="189.3" text-anchor="middle" style="font-family:'Liberation Sans',Arial,sans-serif;font-weight:bold;font-size:11.2px;letter-spacing:-0.3px" fill="#fff" stroke="#222" stroke-width="0.7">HAADF</text><text x="71.6" y="185.3" style="font-family:'Liberation Sans',Arial,sans-serif;font-weight:bold;font-size:10.8px" fill="#fff">d(200)=1.931 Å</text><text x="17.4" y="223.4" style="font-family:'Liberation Sans',Arial,sans-serif;font-weight:bold;font-size:10.8px" fill="#fff">d<tspan font-size="6.4px" dy="2">(002)</tspan><tspan dy="-2">=1.864 Å</tspan></text><line x1="101.3" y1="187.5" x2="101.3" y2="250.7" stroke="#ee3cee" stroke-width="2"/><line x1="114.9" y1="187.5" x2="114.9" y2="250.7" stroke="#ee3cee" stroke-width="2"/><line x1="88.7" y1="213.7" x2="139.2" y2="213.7" stroke="#f01414" stroke-width="1.6"/><line x1="88.7" y1="225" x2="139.2" y2="225" stroke="#f01414" stroke-width="1.6"/><line x1="150.5" y1="187.5" x2="158.6" y2="428.8" stroke="#22e022" stroke-width="1.8" stroke-dasharray="1.8 1.8"/><circle cx="77.4" cy="282.3" r="15.6" fill="none" stroke="#e8101c" stroke-width="2.8" stroke-dasharray="7.6 4.6"/><circle cx="103.1" cy="305.7" r="15.6" fill="none" stroke="#e8101c" stroke-width="2.8" stroke-dasharray="7.6 4.6"/><text x="248.2" y="188.6" style="font-family:'Liberation Sans',Arial,sans-serif;font-weight:bold;font-size:16px" fill="#fff">d</text><text x="7.8" y="424.5" style="font-family:'Liberation Sans',Arial,sans-serif;font-size:11.8px" fill="#fff">1 nm</text><rect x="6.6" y="430.3" width="63.2" height="1.6" fill="#fff"/><text x="230.6" y="430.6" style="font-family:'Liberation Sans',Arial,sans-serif;font-weight:bold;font-size:13.4px" fill="#fff">[010]</text><g clip-path="url(#cme)"><rect x="269.5" y="173.8" width="131.3" height="130.5" fill="#000"/><circle cx="340" cy="236" r="79" fill="url(#gehaze)"/><g filter="url(#blur09)"><path d="M299.3 174.8h0M305.2 174.5h0M310.6 174.5h0M316.4 174.7h0M338.8 174.5h0M344.2 175.2h0M350.3 174.9h0M372.4 174.5h0M377.8 174.5h0M383.3 175.1h0M293.8 179.4h0M299.4 179.1h0M304.9 179.6h0M310.4 179.8h0M333.1 179.4h0M344.2 179.7h0M355.3 179.3h0M360.9 179.2h0M366.8 179.5h0M377.8 179.2h0M383.9 179.5h0M388.7 179.4h0M288.6 184.2h0M294.3 183.6h0M316.1 183.6h0M383.4 183.8h0M389.3 184.3h0M282.3 188.7h0M288.5 188.2h0M293.7 189.0h0M310.5 188.5h0M327.6 188.9h0M333.0 188.4h0M378.2 189.0h0M383.7 188.7h0M389.4 188.7h0M395.0 188.6h0M283.0 193.6h0M288.1 193.3h0M293.6 192.9h0M327.6 192.9h0M383.4 193.2h0M388.9 193.3h0M394.5 192.9h0M400.0 192.8h0M277.3 198.1h0M282.9 198.1h0M299.3 197.4h0M311.0 197.6h0M349.7 197.8h0M355.3 197.5h0M366.6 198.0h0M383.7 197.4h0M394.6 197.4h0M400.5 197.7h0M277.5 202.3h0M282.7 202.8h0M287.9 202.5h0M299.5 202.2h0M304.8 202.0h0M316.5 202.5h0M333.1 202.3h0M339.0 202.6h0M372.6 202.3h0M383.2 202.4h0M389.0 202.1h0M394.6 202.7h0M400.1 202.5h0M405.5 202.4h0M271.7 207.4h0M277.1 206.9h0M283.0 206.9h0M344.0 206.9h0M377.8 207.2h0M383.5 207.2h0M400.3 207.0h0M405.8 206.8h0M271.8 211.8h0M277.4 212.0h0M282.9 211.8h0M355.7 211.5h0M378.1 211.6h0M394.6 211.4h0M400.4 211.8h0M406.3 211.6h0M271.5 216.2h0M276.9 216.1h0M333.2 215.8h0M361.2 216.1h0M400.1 216.1h0M406.2 215.8h0M271.3 221.0h0M293.8 220.6h0M310.9 221.2h0M339.0 220.4h0M361.2 221.0h0M378.3 220.7h0M395.0 220.4h0M406.1 221.0h0M271.8 225.3h0M282.3 225.1h0M288.3 225.4h0M294.2 225.5h0M316.5 225.1h0M333.1 225.7h0M366.5 225.2h0M377.7 225.5h0M400.3 225.1h0M406.2 225.1h0M271.2 229.6h0M277.4 230.3h0M350.0 230.2h0M405.9 229.7h0M271.4 234.9h0M277.3 234.9h0M388.9 234.3h0M406.0 234.6h0M271.4 238.9h0M287.9 239.4h0M293.7 239.2h0M299.6 239.2h0M327.8 238.9h0M350.1 238.9h0M400.5 239.0h0M405.9 238.8h0M271.3 244.1h0M283.0 244.2h0M288.4 244.0h0M366.9 243.9h0M372.7 244.0h0M394.5 244.0h0M271.6 248.6h0M282.5 248.0h0M310.4 248.2h0M333.1 248.2h0M344.0 248.1h0M395.0 248.0h0M406.1 248.7h0M271.2 252.8h0M277.4 252.9h0M282.7 252.9h0M288.5 253.0h0M299.8 253.0h0M327.8 253.4h0M355.7 253.2h0M366.9 253.2h0M395.0 252.6h0M400.5 252.9h0M405.9 253.3h0M271.4 258.0h0M276.8 257.8h0M327.5 257.2h0M367.1 257.3h0M378.3 257.6h0M383.5 257.4h0M406.3 258.0h0M277.0 262.2h0M282.6 262.3h0M344.5 261.9h0M355.9 262.2h0M394.6 262.0h0M400.1 262.2h0M405.7 262.6h0M271.8 267.1h0M277.4 266.6h0M288.4 266.5h0M294.2 267.1h0M299.3 266.4h0M327.7 267.0h0M372.6 267.0h0M394.6 266.9h0M400.1 266.7h0M405.6 266.8h0M277.4 271.0h0M283.1 271.6h0M288.5 271.4h0M293.6 271.0h0M349.8 271.2h0M372.6 271.6h0M383.3 271.1h0M389.5 271.7h0M394.8 271.5h0M400.6 271.8h0M405.8 271.8h0M283.0 276.4h0M293.9 276.3h0M299.2 275.9h0M310.8 276.0h0M339.0 276.2h0M344.1 276.1h0M360.9 275.6h0M389.2 275.9h0M394.4 276.4h0M400.0 275.9h0M282.5 280.8h0M287.9 281.0h0M294.2 281.0h0M310.5 280.3h0M366.4 280.3h0M383.3 281.0h0M389.3 280.7h0M394.8 280.8h0M400.5 280.4h0M287.9 285.2h0M299.5 285.4h0M304.8 285.2h0M333.5 285.2h0M344.6 285.4h0M389.2 284.8h0M293.6 289.6h0M299.9 289.7h0M310.3 289.6h0M339.0 289.8h0M350.2 290.1h0M355.5 290.1h0M366.6 289.5h0M383.3 290.0h0M388.9 290.0h0M294.2 294.2h0M299.2 294.4h0M304.9 294.7h0M310.7 294.5h0M355.3 294.5h0M361.4 294.4h0M366.4 294.2h0M372.0 294.2h0M378.2 294.7h0M383.7 294.8h0M299.9 299.4h0M305.1 299.1h0M310.9 299.3h0M322.2 298.9h0M327.8 299.2h0M367.0 299.3h0M372.5 298.7h0M378.1 299.2h0M310.8 303.4h0M316.6 303.6h0M321.7 303.5h0M327.2 303.6h0M333.0 303.5h0M339.0 303.4h0M344.7 303.5h0M350.0 304.0h0M355.6 303.3h0M361.1 303.7h0M366.9 303.9h0M327.2 308.2h0M339.1 308.5h0M344.1 308.4h0M350.2 308.0h0M355.4 308.3h0" stroke="#b4b4b4" stroke-width="3" stroke-linecap="round" stroke-opacity="0.20"/><path d="M321.7 175.1h0M327.8 174.4h0M333.1 174.7h0M355.8 174.9h0M361.1 175.0h0M366.3 175.1h0M316.0 179.7h0M322.0 179.8h0M327.2 179.0h0M372.1 179.0h0M299.5 184.3h0M305.3 183.7h0M310.4 183.9h0M321.6 183.8h0M361.3 183.7h0M366.8 184.0h0M371.9 184.2h0M377.9 183.8h0M299.5 188.9h0M305.5 188.4h0M316.0 188.9h0M344.4 188.8h0M349.7 188.3h0M355.4 188.4h0M361.0 188.3h0M366.4 188.4h0M372.7 188.8h0M299.5 193.0h0M305.3 193.5h0M310.9 193.4h0M316.2 193.3h0M332.8 192.9h0M350.1 193.0h0M355.3 192.9h0M361.3 193.5h0M366.4 192.9h0M372.2 193.5h0M377.9 193.3h0M287.9 197.6h0M293.9 197.9h0M304.8 197.6h0M316.4 197.4h0M322.1 197.6h0M327.7 197.8h0M333.1 197.9h0M338.9 198.0h0M360.9 198.1h0M388.9 197.5h0M294.2 202.1h0M310.4 202.0h0M322.1 202.0h0M327.8 202.0h0M344.2 202.4h0M350.0 202.3h0M361.3 202.4h0M366.7 202.6h0M377.9 202.6h0M288.5 207.3h0M293.9 206.7h0M299.3 207.2h0M304.8 207.1h0M316.3 206.9h0M332.9 207.1h0M338.5 207.4h0M355.2 207.2h0M388.8 207.1h0M394.8 207.3h0M288.1 211.2h0M305.4 212.0h0M327.2 211.3h0M338.3 211.9h0M344.1 211.6h0M349.9 211.8h0M361.4 211.8h0M366.9 211.5h0M372.3 211.9h0M389.1 211.4h0M282.7 216.2h0M288.7 216.3h0M299.5 216.2h0M305.5 215.9h0M316.7 216.1h0M321.8 216.3h0M327.5 215.9h0M338.5 216.4h0M343.9 215.9h0M350.0 216.4h0M366.4 216.1h0M372.4 216.6h0M377.9 216.3h0M388.9 216.2h0M394.7 216.6h0M276.8 221.0h0M283.0 220.7h0M304.9 220.9h0M316.3 220.9h0M322.2 220.6h0M327.7 221.0h0M332.8 221.0h0M355.2 220.5h0M400.4 220.9h0M276.9 225.3h0M299.3 225.3h0M321.6 225.7h0M338.3 225.8h0M350.0 225.0h0M355.1 225.0h0M361.3 225.3h0M372.1 225.7h0M383.2 225.3h0M389.3 225.2h0M394.8 225.3h0M282.6 229.9h0M288.1 230.0h0M293.7 229.7h0M299.6 229.6h0M305.4 230.1h0M311.1 229.8h0M316.0 230.3h0M322.2 230.1h0M327.7 229.8h0M333.2 230.2h0M338.9 230.0h0M344.0 230.0h0M355.4 230.1h0M361.5 230.3h0M366.6 229.6h0M372.1 230.2h0M378.2 229.6h0M383.4 229.9h0M389.4 230.0h0M394.4 230.0h0M400.0 229.9h0M282.6 234.7h0M288.1 234.9h0M293.9 234.6h0M305.0 234.2h0M310.4 234.7h0M316.2 234.4h0M321.7 234.9h0M327.5 234.5h0M338.3 235.0h0M355.3 234.7h0M360.8 234.2h0M367.0 234.5h0M372.0 234.9h0M400.3 234.7h0M277.4 239.0h0M282.6 238.9h0M305.2 239.3h0M316.4 238.8h0M321.8 238.8h0M332.9 239.2h0M338.5 239.2h0M344.7 239.2h0M361.3 239.4h0M388.9 239.0h0M394.7 239.0h0M277.1 243.8h0M310.6 243.5h0M316.7 244.0h0M321.8 243.6h0M327.3 243.8h0M333.0 243.9h0M338.7 243.8h0M355.2 244.0h0M389.1 243.9h0M400.3 244.1h0M406.2 243.6h0M276.8 248.5h0M288.0 248.5h0M294.1 248.3h0M305.1 248.7h0M316.6 248.5h0M321.8 248.6h0M327.2 248.3h0M338.6 248.7h0M349.8 248.7h0M355.3 248.1h0M361.4 248.2h0M377.8 248.4h0M388.7 248.6h0M400.1 248.5h0M304.7 253.0h0M310.9 252.8h0M321.8 252.6h0M332.8 252.8h0M338.3 252.9h0M344.2 253.3h0M350.3 252.8h0M372.4 253.0h0M377.9 253.1h0M388.8 253.2h0M282.9 257.5h0M288.1 257.4h0M299.7 257.5h0M305.4 257.8h0M332.9 257.5h0M338.8 257.9h0M349.7 257.9h0M360.9 257.8h0M372.5 257.9h0M389.2 257.9h0M400.6 257.9h0M288.5 261.9h0M293.9 262.4h0M299.7 262.0h0M305.4 262.0h0M316.3 261.9h0M321.9 262.2h0M333.3 261.9h0M338.9 262.5h0M361.4 262.4h0M366.6 262.0h0M372.6 262.4h0M377.5 262.2h0M383.5 262.3h0M388.7 262.0h0M282.6 266.5h0M305.5 266.5h0M310.7 267.0h0M316.5 266.5h0M333.4 266.9h0M338.3 266.8h0M344.2 266.7h0M355.8 266.8h0M361.4 267.2h0M366.4 266.7h0M378.0 267.1h0M389.1 266.8h0M299.4 271.8h0M311.0 271.3h0M316.1 271.2h0M321.8 271.2h0M327.1 271.3h0M333.3 271.6h0M338.8 271.0h0M366.7 271.8h0M377.6 271.6h0M288.1 276.0h0M305.0 275.9h0M316.2 276.3h0M332.7 276.0h0M349.8 275.9h0M355.4 275.6h0M366.5 275.9h0M372.7 276.2h0M383.1 275.9h0M299.7 280.2h0M305.3 280.8h0M321.9 280.4h0M327.1 280.8h0M338.8 280.8h0M344.5 280.5h0M360.7 280.8h0M377.8 280.6h0M293.6 285.3h0M316.3 285.4h0M322.0 285.0h0M327.7 285.1h0M349.5 285.0h0M355.2 285.2h0M360.9 285.2h0M372.1 285.2h0M377.7 284.9h0M383.1 285.2h0M304.7 289.8h0M316.4 289.6h0M322.1 290.1h0M327.2 290.0h0M344.6 289.6h0M361.1 290.2h0M372.4 289.6h0M378.2 289.8h0M316.7 294.3h0M322.1 294.6h0M327.3 294.7h0M333.2 294.3h0M338.4 294.6h0M344.5 294.5h0M349.8 294.4h0M316.3 299.3h0M333.1 298.8h0M338.8 299.1h0M343.9 299.2h0M349.6 298.6h0M355.3 299.0h0M360.9 299.0h0" stroke="#b4b4b4" stroke-width="3" stroke-linecap="round" stroke-opacity="0.40"/><path d="M338.4 179.1h0M349.5 179.5h0M327.3 184.1h0M333.2 184.3h0M338.5 183.7h0M344.6 183.9h0M349.6 183.8h0M355.2 184.3h0M322.1 189.0h0M338.7 188.9h0M321.7 193.1h0M338.6 193.6h0M344.4 193.2h0M344.2 197.5h0M372.2 198.2h0M378.0 197.7h0M355.5 202.2h0M311.0 206.9h0M322.2 207.3h0M327.2 207.4h0M350.1 207.0h0M360.9 207.1h0M366.6 206.8h0M372.4 206.9h0M293.8 211.9h0M299.8 211.8h0M311.0 211.5h0M316.0 211.3h0M321.9 212.0h0M333.3 211.5h0M383.7 211.9h0M293.8 216.3h0M310.7 216.1h0M355.9 216.2h0M383.4 216.0h0M288.1 221.1h0M299.7 220.8h0M344.6 220.8h0M350.1 220.9h0M366.6 220.7h0M372.5 221.2h0M383.3 220.8h0M389.3 221.0h0M305.0 225.4h0M310.6 225.7h0M327.7 225.4h0M344.4 225.0h0M299.7 234.4h0M333.2 234.3h0M344.1 234.5h0M350.1 234.8h0M377.7 234.8h0M383.4 234.9h0M394.9 234.4h0M310.6 239.4h0M355.7 239.5h0M366.8 239.5h0M372.2 239.1h0M378.2 239.1h0M383.7 239.4h0M294.3 244.1h0M299.2 244.2h0M305.2 244.1h0M344.6 243.9h0M349.7 243.5h0M361.2 243.6h0M378.3 244.0h0M383.9 243.5h0M299.2 248.1h0M366.6 248.8h0M372.0 248.6h0M383.5 248.5h0M293.6 252.9h0M316.2 253.0h0M361.0 253.3h0M383.4 253.0h0M294.2 258.0h0M310.4 257.5h0M316.6 257.9h0M321.7 257.8h0M344.1 257.5h0M355.6 257.7h0M395.0 257.7h0M310.7 261.8h0M327.4 262.5h0M349.7 262.5h0M322.1 266.5h0M349.8 266.5h0M383.2 266.8h0M305.1 271.5h0M344.4 271.6h0M355.7 271.1h0M360.9 271.1h0M321.9 275.9h0M327.4 275.9h0M377.9 276.2h0M316.4 280.5h0M332.8 280.5h0M349.9 280.7h0M355.2 280.6h0M372.5 280.5h0M310.3 285.0h0M338.8 285.1h0M367.0 285.5h0M333.4 289.9h0" stroke="#b4b4b4" stroke-width="3" stroke-linecap="round" stroke-opacity="0.60"/></g><g filter="url(#blur09)"><path d="M341.4 217.3h0M346.6 269.2h0M381.6 247.5h0M375.3 219.6h0M358.7 290.3h0M365.5 173.2h0M321.5 220.6h0M318.1 219.6h0M339.3 236.4h0M314.8 294.8h0M359.5 284.3h0M383.6 245.9h0M308.4 205.0h0M320.2 288.3h0M349.0 290.5h0M365.6 287.1h0M312.4 195.6h0M292.5 243.0h0M326.0 199.1h0M401.3 183.4h0M368.4 195.0h0M361.0 276.7h0M284.6 267.1h0M277.4 243.7h0M366.0 184.2h0M400.9 239.5h0M333.9 261.6h0M334.0 259.0h0M400.2 207.7h0M339.4 207.5h0M388.2 231.6h0M388.7 234.6h0M295.8 268.2h0M286.1 267.1h0M348.0 253.8h0M375.9 248.5h0M335.5 295.5h0M391.1 228.6h0M278.1 259.3h0M332.1 181.8h0M336.5 244.2h0M302.0 265.2h0M375.5 263.6h0M400.3 185.3h0M331.6 189.5h0M359.7 240.1h0M300.4 210.8h0M322.7 282.0h0" stroke="#d6d03a" stroke-width="2" stroke-linecap="round" stroke-opacity="0.40"/><path d="M376.5 254.8h0M338.6 210.6h0M323.9 248.3h0M338.2 219.3h0M374.7 181.1h0M396.8 244.8h0M376.5 207.5h0M310.8 201.5h0M290.0 181.3h0M306.6 219.0h0M294.1 185.9h0M360.6 181.2h0M331.8 250.8h0M322.8 257.8h0M363.8 216.9h0M335.2 190.0h0M399.4 255.5h0M353.8 286.4h0M292.0 213.2h0M339.2 183.5h0M373.6 210.9h0M401.3 187.2h0M375.3 266.3h0M335.7 242.8h0M341.9 186.2h0M359.9 263.8h0M362.1 297.2h0M376.7 266.8h0M396.5 268.8h0M387.2 253.9h0M294.7 235.4h0M296.9 236.9h0M352.9 294.7h0M328.0 301.7h0M270.7 229.7h0M363.1 217.2h0M335.0 268.8h0M390.8 229.7h0M311.0 226.6h0M279.1 257.7h0M351.6 226.9h0M347.8 226.6h0M331.7 295.0h0M306.8 298.5h0M362.4 232.3h0M373.7 241.9h0M326.7 187.9h0M377.3 230.4h0M330.2 192.7h0M301.9 199.9h0" stroke="#d6d03a" stroke-width="2" stroke-linecap="round" stroke-opacity="0.60"/><path d="M299.9 245.2h0M319.3 276.2h0M314.8 233.0h0M322.3 274.7h0M294.3 201.5h0M320.7 274.9h0M289.8 268.7h0M334.2 258.9h0M377.5 281.8h0M364.2 222.4h0M382.6 207.0h0M392.0 276.9h0M363.9 184.6h0M361.7 218.2h0M363.1 215.4h0M396.4 271.8h0M342.8 260.3h0M346.0 186.4h0M315.2 266.2h0M320.4 225.1h0M391.5 215.5h0M285.4 229.6h0M312.3 263.3h0M363.4 241.7h0M380.0 280.4h0M374.8 267.3h0M318.5 285.4h0M322.6 265.7h0M327.3 274.8h0M301.6 275.9h0M375.9 203.1h0M373.4 204.5h0M370.1 293.5h0M346.8 225.5h0M312.8 204.8h0M293.9 217.5h0M314.6 239.3h0M379.9 252.6h0M315.1 260.7h0M392.1 227.9h0M303.7 272.3h0M328.7 182.1h0M287.2 234.5h0" stroke="#d6d03a" stroke-width="2" stroke-linecap="round" stroke-opacity="0.80"/><path d="M333.4 264.9h0M308.7 277.2h0M339.2 219.7h0M345.1 292.0h0M364.3 275.0h0M319.7 289.0h0M383.5 220.5h0M310.7 223.6h0M350.1 218.1h0M331.9 189.4h0M307.1 295.0h0M279.8 235.4h0" stroke="#d6d03a" stroke-width="2" stroke-linecap="round"/><path d="M381.1 227.1h0" stroke="#d6d03a" stroke-width="2.5" stroke-linecap="round" stroke-opacity="0.20"/><path d="M288.4 270.4h0M297.2 240.1h0M325.7 231.6h0M378.3 246.0h0M279.3 221.3h0M372.9 261.7h0M356.0 291.3h0M325.5 186.4h0M304.7 263.0h0M360.3 261.0h0M335.0 222.4h0M378.4 246.7h0M383.2 233.5h0M321.6 259.0h0M274.8 243.1h0M311.6 277.5h0M355.1 260.2h0M369.9 206.8h0M281.7 269.0h0M297.2 253.8h0M302.1 240.1h0M322.8 219.5h0M298.7 251.9h0M339.9 240.9h0M363.4 254.9h0M372.0 264.6h0M313.3 191.7h0M333.7 283.6h0M380.3 261.2h0M374.0 192.7h0M331.5 254.0h0M364.5 268.0h0M308.6 219.1h0M402.5 211.9h0M351.1 189.9h0M356.4 273.0h0M319.6 187.5h0M354.1 262.5h0M353.8 258.9h0M398.4 295.6h0M384.8 249.0h0M379.3 303.5h0M385.4 249.6h0M290.5 233.3h0M313.5 181.7h0M313.6 277.9h0M374.5 277.6h0M392.3 257.6h0M347.1 245.6h0M323.9 190.2h0M323.5 192.7h0M294.9 196.0h0M374.1 197.2h0M359.6 230.0h0M314.1 279.5h0M311.4 209.5h0M336.2 277.9h0M293.7 187.8h0M378.6 274.4h0M391.7 244.3h0M298.2 186.0h0M344.1 266.2h0M367.8 262.0h0M375.0 294.7h0M338.7 188.3h0M354.7 193.5h0M299.8 191.8h0M293.4 211.0h0M294.0 208.3h0M311.4 299.1h0" stroke="#d6d03a" stroke-width="2.5" stroke-linecap="round" stroke-opacity="0.40"/><path d="M274.9 241.2h0M399.1 217.0h0M276.0 216.9h0M295.0 294.5h0M336.4 288.2h0M291.4 277.8h0M368.4 219.1h0M369.5 221.6h0M312.0 257.8h0M277.6 212.5h0M324.4 189.6h0M385.1 264.8h0M388.3 265.7h0M325.7 288.3h0M391.4 253.6h0M291.1 230.1h0M354.8 224.3h0M366.1 277.8h0M277.8 251.7h0M367.4 262.0h0M333.0 244.9h0M306.0 244.7h0M304.5 287.0h0M393.4 201.5h0M345.1 213.1h0M379.4 232.6h0M319.5 285.2h0M381.8 249.1h0M380.7 259.2h0M313.7 280.0h0M388.3 265.9h0M282.5 238.3h0M341.6 194.2h0M358.7 275.5h0M335.5 190.6h0M332.4 189.7h0M334.2 286.7h0M343.0 242.9h0M350.8 287.1h0M355.4 205.5h0M355.7 208.4h0M337.6 213.6h0M350.1 208.0h0M293.0 234.4h0M382.0 252.4h0M378.6 251.9h0M342.3 181.3h0M284.7 242.3h0M318.9 305.1h0M320.7 221.3h0M290.4 256.7h0M324.8 178.3h0M370.4 218.4h0M314.9 284.0h0M352.3 301.6h0M319.0 183.7h0M292.6 186.6h0M341.1 210.0h0M347.6 252.2h0M358.4 263.3h0M341.4 212.8h0M347.6 250.6h0M344.7 174.9h0M277.0 254.1h0M308.7 180.6h0M298.7 229.7h0M315.3 238.1h0M329.0 272.2h0M342.0 176.9h0M316.1 195.7h0M335.1 263.9h0M330.6 186.3h0M331.9 277.1h0M393.1 196.2h0M328.2 241.5h0M295.2 242.4h0M335.2 219.4h0M302.8 210.4h0M321.2 292.6h0M366.2 210.1h0M400.5 250.5h0M357.2 175.3h0M351.2 258.0h0M324.0 174.9h0M314.8 201.6h0M314.2 198.3h0M323.3 254.7h0M331.0 242.0h0M362.6 201.2h0M318.7 226.5h0M386.9 275.2h0" stroke="#d6d03a" stroke-width="2.5" stroke-linecap="round" stroke-opacity="0.60"/><path d="M316.6 219.3h0M333.5 237.7h0M351.4 270.5h0M354.6 206.6h0M290.8 214.8h0M298.5 210.9h0M309.8 205.5h0M290.6 198.0h0M336.5 298.9h0M339.8 300.6h0M397.5 228.1h0M357.7 209.6h0M400.0 234.6h0M280.3 229.8h0M315.8 208.9h0M278.1 211.4h0M352.4 229.5h0M400.5 231.4h0M367.0 186.4h0M328.7 186.8h0M273.6 257.1h0M305.9 230.3h0M395.1 274.9h0M329.3 253.0h0M340.4 189.9h0M360.0 215.9h0M288.7 243.8h0M381.0 214.4h0M305.6 225.1h0M386.0 193.2h0M307.0 276.3h0M348.2 296.1h0M396.6 217.2h0M276.4 225.7h0M342.7 233.8h0M296.7 222.1h0M378.6 181.8h0M379.9 278.7h0M358.3 223.1h0M271.8 217.9h0M303.2 266.8h0M378.3 215.7h0M385.4 190.9h0M377.6 263.9h0M302.1 184.9h0M280.8 232.3h0M340.7 262.3h0M274.4 217.8h0M294.3 220.1h0M393.4 206.5h0M282.5 202.5h0M383.7 275.1h0M275.2 254.5h0M272.6 228.1h0M344.8 186.8h0M394.9 229.8h0M292.0 285.0h0M280.6 239.0h0M343.6 227.8h0M333.8 291.8h0M362.1 267.3h0M338.1 181.3h0M366.1 247.1h0M330.5 233.2h0M352.4 289.3h0M291.3 189.9h0M292.2 193.8h0M349.7 179.3h0M311.9 247.7h0M352.6 188.3h0M275.1 230.2h0M286.1 244.7h0M301.9 205.2h0M329.5 255.0h0M365.4 244.7h0M373.2 269.5h0M341.4 212.6h0" stroke="#d6d03a" stroke-width="2.5" stroke-linecap="round" stroke-opacity="0.80"/><path d="M299.2 241.3h0M367.4 257.9h0M356.9 274.2h0M361.8 269.9h0M346.8 233.8h0M311.4 251.2h0M372.1 260.8h0M280.3 264.2h0M343.3 214.4h0M371.8 292.0h0M347.0 297.4h0M342.9 209.3h0M334.6 258.2h0" stroke="#d6d03a" stroke-width="2.5" stroke-linecap="round"/><path d="M335.4 241.9h0M309.6 179.5h0M385.3 262.6h0M393.4 269.9h0M359.1 279.3h0M329.2 196.4h0M335.0 296.2h0M393.8 204.1h0M377.6 273.4h0M320.2 212.3h0M337.0 280.3h0M349.8 186.9h0M372.6 220.3h0M335.4 226.4h0M292.4 230.6h0M310.2 218.1h0M350.9 203.4h0M341.9 172.2h0M291.7 254.8h0M373.1 181.7h0M339.6 284.6h0M359.0 247.5h0M337.1 180.9h0M337.8 255.0h0M302.7 194.6h0M355.2 189.6h0M387.2 202.6h0M367.5 267.3h0M332.8 274.5h0M376.1 241.6h0M337.6 278.1h0M276.0 253.0h0M382.9 224.4h0M352.7 236.2h0M352.1 248.0h0M340.9 224.9h0M309.4 176.7h0M317.9 231.3h0M312.0 293.1h0M330.3 296.0h0M300.5 186.9h0M367.3 188.2h0M399.7 239.3h0M333.8 257.5h0M336.9 194.7h0M302.1 188.2h0M313.1 233.7h0M279.4 251.5h0M322.8 263.1h0M307.8 235.9h0M340.4 279.0h0M340.7 276.5h0M277.6 234.9h0M309.2 213.9h0M336.3 293.5h0M344.9 271.7h0M280.2 241.1h0M384.4 234.8h0M370.7 200.0h0M349.0 220.4h0M315.1 188.4h0M354.8 178.3h0M337.0 178.9h0M333.7 180.2h0M298.7 228.4h0M328.2 287.3h0M334.7 272.1h0M353.6 249.9h0" stroke="#d6d03a" stroke-width="3" stroke-linecap="round" stroke-opacity="0.40"/><path d="M276.3 238.3h0M334.7 215.1h0M337.0 184.6h0M322.8 222.6h0M335.7 221.2h0M298.2 251.9h0M290.8 227.5h0M334.4 204.6h0M335.6 277.6h0M307.7 280.2h0M293.4 210.3h0M340.5 261.0h0M378.9 267.9h0M391.7 216.8h0M290.9 177.9h0M327.6 280.5h0M318.8 185.8h0M359.2 188.1h0M358.6 184.4h0M342.4 190.9h0M354.4 286.4h0M339.4 291.8h0M335.1 183.3h0M362.0 186.4h0M372.0 287.2h0M350.7 254.0h0M344.9 193.9h0M277.8 283.0h0M337.7 199.8h0M382.0 226.6h0M282.6 211.4h0M336.8 225.0h0M308.9 220.9h0M355.9 302.4h0M335.8 187.6h0M334.2 215.3h0M287.4 259.1h0M283.5 259.1h0M307.9 216.0h0M363.8 220.6h0M309.0 182.1h0M342.9 175.6h0M351.4 247.5h0M306.5 235.1h0M306.6 177.7h0M340.8 241.2h0M349.8 220.6h0M396.6 211.4h0M350.0 243.0h0M282.2 250.6h0M313.3 254.7h0M374.2 211.0h0M310.9 178.6h0M328.5 275.3h0M321.2 240.7h0M310.0 280.6h0M380.8 239.0h0M327.4 213.0h0M354.7 177.5h0M331.1 239.3h0M310.5 290.7h0" stroke="#d6d03a" stroke-width="3" stroke-linecap="round" stroke-opacity="0.60"/><path d="M348.3 176.4h0M355.6 278.6h0M308.5 293.6h0M383.1 250.4h0M376.1 185.3h0M299.0 247.9h0M320.8 301.9h0M398.0 205.6h0M308.2 277.6h0M323.0 218.3h0M395.6 301.7h0M316.3 216.9h0M370.5 223.0h0M334.9 196.2h0M327.7 241.5h0M378.1 215.6h0M329.4 182.4h0M314.3 248.8h0M315.5 257.8h0M336.9 264.6h0M301.9 252.1h0M373.3 263.4h0M271.2 257.5h0M295.2 193.5h0M344.9 239.1h0M313.2 266.5h0M365.1 297.7h0M283.9 239.0h0M329.9 293.8h0M360.7 258.9h0M278.8 218.7h0M393.1 244.7h0M322.6 218.2h0M313.3 239.7h0M359.4 269.7h0M323.4 278.0h0M315.3 234.4h0M307.4 225.6h0M277.2 209.5h0M369.4 199.5h0M317.9 236.7h0M356.3 283.6h0M287.6 242.3h0M332.5 199.4h0M274.1 250.3h0M279.2 214.4h0M340.7 292.4h0M295.0 186.6h0M340.6 182.2h0M303.5 176.3h0M366.7 278.5h0M320.2 189.4h0M339.4 217.2h0M358.4 276.3h0M277.3 221.0h0M287.5 241.7h0M319.7 265.3h0M349.5 257.4h0M350.6 267.3h0M383.5 190.6h0M362.5 246.1h0M338.6 268.5h0M283.6 252.2h0" stroke="#d6d03a" stroke-width="3" stroke-linecap="round" stroke-opacity="0.80"/><path d="M350.1 222.7h0M398.3 214.3h0M353.5 247.0h0M296.7 243.7h0M335.1 275.0h0M302.2 226.5h0M352.8 251.6h0M378.6 273.4h0M368.4 220.1h0M316.8 223.1h0M360.0 293.5h0M367.9 210.3h0M289.0 272.6h0M310.2 292.9h0M277.0 229.9h0M366.5 274.9h0M382.1 220.9h0M372.4 205.8h0M359.5 239.5h0M353.0 204.0h0" stroke="#d6d03a" stroke-width="3" stroke-linecap="round"/></g></g><g clip-path="url(#cmf)"><rect x="404.2" y="173.8" width="131.6" height="130.5" fill="#000"/><g filter="url(#blur1)"><path d="M482.4 210.9h0M491.0 300.8h0M451.9 200.9h0M469.0 192.0h0M461.0 252.5h0M410.6 271.7h0M443.8 209.6h0M418.9 245.1h0M423.4 233.3h0M448.8 219.3h0M492.2 219.0h0M527.9 216.0h0M507.4 174.3h0M485.1 208.4h0M407.7 264.0h0M446.5 288.8h0M402.6 266.3h0M530.6 243.2h0M429.4 306.1h0M455.7 211.3h0M453.0 213.5h0M451.9 258.6h0M471.2 249.2h0M430.9 204.2h0M454.4 272.1h0M534.2 268.7h0M423.1 214.4h0M454.0 262.7h0M480.6 261.5h0M417.3 229.4h0M413.5 243.4h0" stroke="#12c4c4" stroke-width="2" stroke-linecap="round" stroke-opacity="0.25"/><path d="M502.8 266.6h0M405.5 196.7h0" stroke="#12c4c4" stroke-width="2" stroke-linecap="round" stroke-opacity="0.50"/><path d="M423.6 251.8h0M511.0 274.3h0M492.5 186.0h0M449.0 222.2h0M504.6 173.8h0M405.1 189.9h0M532.8 292.5h0M478.9 241.6h0M528.3 236.3h0M486.8 301.0h0M496.3 244.1h0M415.2 274.2h0M457.2 252.0h0M470.4 272.4h0M408.5 289.4h0M443.7 265.6h0M530.9 176.9h0M440.7 282.1h0M438.1 243.4h0M473.0 293.5h0M514.5 285.0h0M431.6 187.5h0M505.5 232.4h0M440.1 297.6h0M468.9 209.8h0M498.0 205.0h0M405.0 290.3h0M492.7 247.9h0M520.5 246.8h0M471.5 261.7h0M504.4 197.5h0M420.1 231.6h0M449.8 250.8h0M432.4 186.9h0M425.4 179.0h0M404.5 188.9h0M469.7 226.2h0M426.9 290.2h0M473.6 300.4h0M514.9 259.8h0M458.7 304.3h0M411.1 176.1h0M425.7 232.2h0M510.8 219.7h0M512.5 303.7h0M501.5 248.9h0M516.7 234.7h0M466.2 304.8h0M403.7 228.4h0M509.3 290.2h0M407.4 250.2h0M524.8 225.7h0M502.7 280.0h0M457.1 296.4h0M527.2 185.5h0M529.9 292.0h0M504.6 262.7h0M471.3 196.9h0M402.7 216.8h0M472.8 291.9h0M514.8 253.6h0M517.7 254.6h0M462.3 197.4h0M498.3 200.3h0M525.5 180.0h0M508.8 249.2h0M444.5 172.1h0M526.5 201.4h0M449.2 224.4h0M484.9 273.5h0M478.9 289.8h0M475.3 172.4h0M499.1 241.0h0M503.6 261.2h0M515.0 178.9h0M473.6 285.1h0M407.5 276.4h0M503.7 305.2h0M413.8 259.0h0M457.3 300.7h0M481.9 252.0h0M481.5 282.9h0M425.7 211.7h0M476.2 254.0h0M496.1 306.2h0M496.3 276.8h0M412.4 220.8h0M483.8 210.5h0M509.4 241.2h0M463.4 284.7h0M520.8 276.6h0M477.5 288.0h0M511.8 178.7h0M411.6 236.3h0M447.5 240.5h0M462.8 259.9h0M500.2 233.3h0M531.9 274.0h0M421.0 281.7h0M424.1 257.4h0M510.0 189.1h0M488.0 243.9h0M502.7 235.0h0M491.9 182.6h0M532.1 209.3h0M459.0 291.2h0M506.6 268.5h0M532.0 295.7h0M416.6 193.8h0M522.0 287.6h0M432.0 180.9h0M521.1 304.1h0M503.3 217.9h0M469.8 306.0h0M533.4 266.0h0M490.2 243.6h0M448.4 270.1h0M520.0 180.6h0M415.1 173.0h0M500.6 183.1h0M464.8 243.6h0M500.9 269.1h0M482.3 201.7h0M485.2 270.5h0M408.1 210.2h0M438.8 272.8h0M524.6 210.1h0M462.3 182.4h0M490.1 305.5h0M413.9 296.8h0M471.8 207.2h0M435.5 218.1h0M472.2 192.5h0M434.0 198.4h0M418.6 245.3h0M520.6 247.3h0M464.4 295.5h0M456.4 305.3h0M437.5 296.5h0M481.5 279.7h0M416.5 295.0h0M476.2 229.0h0M501.6 207.2h0M448.9 241.8h0M470.8 293.6h0M415.4 204.0h0M470.0 256.0h0M520.7 305.4h0M474.6 245.6h0M535.6 264.9h0M474.5 238.8h0M402.6 257.1h0M496.7 216.2h0M411.7 227.4h0M440.3 282.2h0M475.8 230.4h0M459.6 173.5h0M533.0 304.5h0M424.3 300.9h0M437.1 177.9h0M504.7 240.6h0M450.6 260.0h0M481.8 229.3h0M424.5 287.1h0M494.6 180.4h0M486.5 192.0h0M490.5 253.3h0M526.3 213.4h0M419.1 266.3h0M478.5 242.4h0M444.3 172.0h0M463.4 216.1h0M461.6 246.0h0M483.7 248.9h0M432.8 286.8h0M521.8 292.7h0M436.3 284.2h0M495.7 204.6h0M419.7 250.0h0M533.1 304.5h0M433.7 280.3h0M472.3 217.2h0M506.2 281.8h0M514.1 270.5h0M410.1 210.9h0M523.2 200.9h0M408.1 293.2h0M405.8 305.7h0M491.9 186.6h0M507.8 238.9h0M535.6 284.5h0M424.0 256.3h0M472.8 295.6h0M403.8 230.7h0M444.8 230.7h0M507.5 291.1h0M536.3 284.0h0M508.7 256.3h0M523.7 245.4h0M483.2 232.2h0M405.0 289.9h0M442.5 306.1h0M481.7 193.0h0M429.2 176.3h0M499.0 258.8h0M516.4 291.9h0M522.7 239.0h0M450.0 235.4h0M469.4 187.6h0M437.0 272.3h0M469.9 298.8h0M499.5 240.3h0M472.9 271.9h0M458.9 172.7h0M520.6 209.9h0M435.5 254.3h0M411.9 292.5h0M456.5 186.9h0M438.3 299.6h0M473.3 173.1h0M517.4 215.7h0M488.2 262.3h0M524.6 197.2h0M510.1 292.6h0M485.9 226.2h0M450.3 294.5h0M445.6 201.1h0M411.8 294.1h0M427.7 248.9h0M486.0 260.2h0M453.1 281.7h0M534.7 222.7h0M448.4 255.3h0M473.1 276.5h0M437.1 302.9h0M497.3 188.8h0M514.1 194.3h0M458.8 256.6h0M458.0 209.4h0M405.7 239.5h0M492.6 181.4h0M488.5 282.5h0M532.5 268.4h0M532.4 245.2h0M495.7 183.9h0M427.5 256.8h0M537.3 222.9h0M402.3 245.4h0M420.3 255.0h0M503.9 219.8h0M499.8 192.5h0M451.6 305.1h0M530.4 202.8h0M526.5 231.0h0M452.9 227.5h0M519.5 259.2h0M409.4 200.4h0M493.1 236.1h0M528.6 295.7h0M486.6 282.3h0M532.2 179.8h0M482.6 190.5h0M461.1 193.0h0M505.8 288.2h0M496.2 219.8h0M509.6 230.6h0M416.8 293.0h0M432.0 208.9h0M406.9 296.1h0M467.9 284.8h0M445.7 211.3h0M457.3 239.8h0M533.7 216.2h0M411.1 216.5h0M510.3 230.7h0M517.3 207.8h0M430.9 280.1h0M466.5 190.1h0M530.2 245.8h0M453.2 286.5h0M507.2 265.3h0M473.5 285.5h0M427.2 178.4h0M481.5 208.5h0M438.3 265.2h0M510.4 186.6h0M522.7 200.8h0M407.8 201.4h0M403.1 292.0h0M449.8 209.2h0M429.9 255.1h0M475.4 305.3h0M492.6 176.2h0M456.1 182.6h0M443.9 279.5h0M488.3 173.9h0M485.8 209.1h0M514.3 247.1h0M405.5 237.9h0M429.4 250.1h0M426.9 263.3h0M508.4 263.3h0M419.5 207.0h0M460.3 290.7h0M521.1 295.2h0M529.4 221.1h0M516.5 247.8h0M438.6 205.3h0M474.9 252.2h0M505.4 194.6h0M512.2 268.2h0M428.2 202.2h0M517.9 235.5h0M490.8 191.4h0M459.1 171.9h0M405.4 194.7h0M457.2 272.2h0M456.0 272.3h0M440.8 262.6h0M528.8 265.1h0M420.3 175.8h0M416.6 219.3h0" stroke="#12c4c4" stroke-width="2.5" stroke-linecap="round" stroke-opacity="0.25"/><path d="M427.1 185.6h0M454.0 228.1h0M528.7 200.1h0M448.4 254.1h0M499.2 278.6h0M413.0 232.8h0M528.8 267.1h0M469.7 181.7h0M490.0 191.9h0M519.9 173.0h0M434.4 305.9h0M457.9 255.3h0M508.7 240.2h0M521.8 286.2h0M464.9 221.5h0M470.5 194.2h0M469.9 223.9h0M448.7 257.7h0M492.3 253.7h0M530.1 177.9h0M481.9 260.6h0M423.7 264.9h0M511.2 200.8h0M514.8 264.8h0M510.7 221.0h0M485.4 253.7h0M469.4 228.0h0M422.0 235.7h0M448.9 302.5h0" stroke="#12c4c4" stroke-width="2.5" stroke-linecap="round" stroke-opacity="0.50"/><path d="M500.7 292.2h0M450.3 229.4h0M516.9 285.2h0M403.1 244.0h0M440.6 257.8h0M428.3 180.0h0M491.0 258.7h0M496.4 218.4h0M490.7 204.6h0M528.6 190.3h0M402.6 200.6h0M515.2 250.9h0M423.6 276.4h0M523.9 176.8h0M407.0 282.1h0M475.8 248.4h0M491.6 190.5h0M489.8 213.7h0M429.3 175.6h0M408.5 301.8h0M415.5 215.6h0M475.8 293.4h0M417.8 224.8h0M525.5 224.5h0M527.4 180.6h0M504.5 303.7h0M481.4 171.9h0M471.4 267.5h0M516.8 233.2h0M527.0 254.0h0M426.7 185.2h0M447.1 276.8h0M502.4 277.4h0M485.3 237.4h0M433.6 202.8h0M451.7 184.2h0M467.4 212.1h0M536.4 265.3h0M521.4 232.0h0M424.9 299.0h0M410.1 188.2h0M408.3 226.9h0M445.7 271.5h0M509.1 240.6h0M424.0 174.4h0M428.4 267.4h0M467.5 191.2h0M494.4 290.8h0M525.3 294.8h0M447.5 219.0h0M488.0 191.7h0M479.6 214.6h0M430.6 214.9h0M473.9 284.3h0M456.4 244.0h0M529.9 303.6h0M437.3 225.4h0M481.1 191.7h0M453.2 245.4h0M529.6 303.7h0M402.9 247.2h0M507.7 281.2h0M504.3 243.8h0M534.4 182.7h0M505.4 264.0h0M525.9 204.5h0M493.6 252.4h0M458.9 294.4h0M407.4 192.9h0M536.9 252.7h0M459.1 304.5h0M488.4 214.2h0M535.8 229.6h0M416.7 208.4h0M460.8 280.8h0M452.9 230.2h0M450.5 192.7h0M404.5 293.9h0M516.5 277.6h0M459.8 184.0h0M455.3 220.8h0M485.1 303.3h0M418.8 179.0h0M497.4 255.3h0M446.0 260.1h0M521.3 183.1h0M509.8 267.5h0M436.1 277.3h0M421.1 226.7h0M526.7 235.9h0M484.0 185.7h0M404.1 288.3h0M475.3 266.6h0M477.2 194.9h0M465.9 173.2h0M476.2 184.8h0M440.2 270.2h0M527.8 283.6h0M505.7 187.8h0M454.6 241.4h0M465.6 186.4h0M515.8 226.7h0M507.4 292.4h0M443.8 248.2h0M529.7 277.2h0M427.2 195.3h0M522.7 269.9h0M465.6 252.4h0M532.2 237.4h0M467.0 223.6h0M402.4 301.7h0M511.8 259.1h0M422.0 179.6h0M452.6 268.1h0M483.9 262.2h0M469.3 198.7h0M529.2 208.7h0M455.5 305.6h0M454.2 194.4h0M458.1 219.8h0M495.1 249.9h0M435.0 202.7h0M439.0 257.7h0M517.3 302.9h0M404.2 247.2h0M521.5 293.4h0M520.1 290.8h0M472.0 235.8h0M448.1 204.2h0M479.9 274.6h0M449.5 200.1h0M463.8 292.5h0M442.3 206.7h0M468.3 235.9h0M423.0 287.3h0M404.3 260.1h0M491.6 289.5h0M467.0 194.6h0M458.6 266.4h0M453.5 216.8h0M523.3 192.4h0M484.5 190.1h0M482.9 271.8h0M491.0 272.3h0M508.1 297.5h0M480.6 285.3h0M433.2 254.2h0M414.4 259.1h0M525.2 281.3h0M507.4 251.1h0M510.4 290.5h0M419.2 215.5h0M425.3 302.1h0M486.4 214.6h0M430.2 236.5h0M456.0 291.1h0M493.5 230.4h0M492.9 234.7h0M473.3 209.7h0M440.3 233.3h0M473.8 260.9h0M433.8 303.7h0M477.4 300.3h0M451.1 219.1h0M453.9 258.1h0M499.4 233.1h0M537.1 258.2h0M455.3 243.5h0M453.5 275.2h0M511.4 183.8h0M470.6 230.6h0M435.0 206.3h0M506.0 274.4h0M537.7 299.6h0M499.5 204.8h0M438.1 289.3h0M522.2 203.3h0M509.7 227.1h0M516.1 277.2h0M505.1 207.3h0M404.0 183.1h0M533.1 194.5h0M475.8 219.9h0M432.5 198.4h0M409.0 241.7h0M533.8 243.8h0M409.9 216.6h0M484.8 278.6h0M415.1 282.9h0M451.5 235.4h0M409.5 214.2h0M421.2 179.1h0M466.6 251.0h0M459.8 284.6h0M445.2 303.4h0M455.8 181.7h0M537.4 252.8h0M443.9 218.0h0M441.6 238.1h0M511.9 280.1h0M473.9 257.7h0M437.2 284.3h0M444.3 180.4h0M460.3 287.5h0M478.0 200.8h0M509.1 271.5h0M492.3 249.2h0M431.0 295.2h0M428.0 248.6h0M521.3 181.4h0M523.9 196.9h0M503.6 296.4h0M464.3 218.1h0M522.9 258.8h0M482.4 173.3h0M535.3 178.6h0M490.9 282.6h0M441.3 241.1h0M501.8 263.1h0M430.8 239.9h0M472.2 192.3h0M415.6 263.5h0M469.0 273.1h0M454.0 208.9h0M484.4 186.4h0M434.6 172.6h0M456.3 260.0h0M513.0 200.9h0M519.2 286.2h0M432.2 232.7h0M464.3 187.2h0M403.2 296.3h0M440.1 224.8h0M531.6 289.0h0M449.5 211.0h0M413.7 217.3h0M432.8 196.6h0M519.2 223.3h0M535.7 204.3h0M488.3 292.4h0M417.9 227.1h0M470.1 241.2h0M427.1 296.1h0M429.7 180.4h0M476.4 226.5h0M436.7 212.3h0M433.2 195.0h0M431.6 269.0h0M413.7 299.6h0M432.2 298.3h0M523.9 256.8h0M443.0 216.5h0M520.8 176.9h0M442.8 211.1h0M461.8 189.9h0M461.7 266.7h0M537.1 229.0h0M449.0 253.0h0M478.8 275.2h0M441.6 286.7h0M516.2 191.5h0M453.5 233.6h0M482.3 276.9h0M480.0 211.9h0M448.4 256.8h0M419.2 274.2h0M464.7 231.9h0M528.5 249.3h0M485.4 254.3h0M496.2 188.6h0" stroke="#12c4c4" stroke-width="3" stroke-linecap="round" stroke-opacity="0.25"/><path d="M447.5 251.0h0M466.9 222.9h0M428.3 261.7h0M493.4 209.3h0M477.9 177.3h0M458.5 250.1h0M512.3 212.7h0M497.5 195.5h0M421.1 200.7h0M478.2 274.4h0M516.6 244.7h0M490.4 198.4h0M507.7 275.8h0M506.6 292.7h0M452.6 283.8h0M406.3 292.6h0M523.2 260.0h0M533.5 242.5h0M530.7 225.5h0M463.3 205.7h0M492.5 205.3h0M500.6 200.9h0M454.8 286.7h0M439.4 187.7h0M449.9 209.1h0M496.1 217.8h0M421.1 245.1h0M461.3 241.1h0M452.6 276.5h0M458.5 203.0h0M492.3 273.4h0M452.3 200.7h0M534.8 286.1h0M508.5 205.4h0M446.7 269.5h0M496.6 267.0h0M479.6 265.8h0" stroke="#12c4c4" stroke-width="3" stroke-linecap="round" stroke-opacity="0.50"/></g><g filter="url(#blur09)"><path d="M467.2 259.9h0M431.7 224.9h0M535.1 229.0h0" stroke="#12c4c4" stroke-width="2.5" stroke-linecap="round" stroke-opacity="0.40"/><path d="M433.1 248.8h0M507.6 285.9h0" stroke="#12c4c4" stroke-width="2.5" stroke-linecap="round" stroke-opacity="0.60"/><path d="M526.0 236.8h0M467.0 295.4h0M497.3 249.6h0M429.6 190.9h0" stroke="#12c4c4" stroke-width="2.5" stroke-linecap="round" stroke-opacity="0.80"/><path d="M424.0 240.9h0M421.5 240.9h0M414.3 244.4h0M449.8 187.1h0M405.6 299.2h0M499.9 253.4h0M440.4 256.4h0M463.6 258.9h0M495.7 218.3h0M494.7 214.5h0M443.6 210.3h0M449.4 287.2h0M533.7 176.7h0M503.0 266.5h0M445.1 220.2h0M509.3 245.5h0M506.6 243.4h0M531.8 271.2h0M430.2 267.4h0M441.0 280.2h0M463.7 182.1h0M534.4 225.7h0M425.0 303.8h0M455.6 201.0h0M437.8 206.0h0M498.3 242.7h0M507.0 208.1h0M509.7 207.8h0M471.2 176.5h0M449.8 292.9h0M476.1 301.8h0M534.1 272.0h0M512.2 195.5h0" stroke="#12c4c4" stroke-width="3" stroke-linecap="round" stroke-opacity="0.40"/><path d="M474.7 236.0h0M453.1 226.7h0M529.8 175.0h0M517.7 199.5h0M499.7 249.6h0M495.5 285.3h0M408.8 292.9h0M406.3 280.8h0M515.7 294.0h0M434.6 295.2h0M495.3 255.4h0M447.4 267.3h0M428.8 255.9h0M465.0 215.7h0M517.9 223.7h0M434.8 225.4h0M526.0 271.6h0M458.9 184.5h0M510.2 286.5h0M463.4 179.4h0M427.5 235.0h0M442.0 302.8h0M474.8 239.3h0M491.6 224.4h0M447.5 176.3h0M450.8 178.5h0M457.6 210.5h0M482.0 279.8h0M494.6 218.2h0M406.9 290.6h0M483.1 291.4h0M508.3 199.2h0M451.6 196.8h0M425.8 242.5h0M497.5 233.2h0M533.9 221.9h0M412.0 293.5h0M434.7 190.0h0M435.5 186.5h0M524.7 278.7h0M523.1 275.1h0" stroke="#12c4c4" stroke-width="3" stroke-linecap="round" stroke-opacity="0.60"/><path d="M499.0 235.3h0M505.5 207.1h0M504.4 209.6h0M516.3 171.0h0M497.0 216.2h0M494.3 211.5h0M521.1 300.5h0M403.2 206.5h0M498.2 283.2h0M409.0 266.8h0M435.6 281.6h0M457.9 215.3h0M420.8 220.5h0M469.2 177.0h0M500.2 249.9h0M497.4 257.5h0M523.5 251.5h0M523.7 285.4h0M473.3 179.2h0M460.7 199.8h0M459.0 203.0h0M443.6 169.1h0M410.1 301.1h0M406.6 300.5h0M415.7 197.9h0M410.8 191.2h0M451.2 296.8h0M461.5 206.2h0M435.7 250.1h0M499.3 236.7h0M403.7 189.3h0M418.5 282.8h0M533.2 225.8h0M450.9 292.4h0M426.2 233.1h0M433.7 290.0h0M463.8 274.4h0M426.3 254.4h0M489.0 222.7h0M473.4 214.5h0M405.0 212.1h0M422.1 254.8h0M419.7 236.9h0M437.6 210.5h0M471.5 199.7h0" stroke="#12c4c4" stroke-width="3" stroke-linecap="round" stroke-opacity="0.80"/><path d="M523.0 235.5h0M494.3 214.2h0M403.7 203.9h0M471.5 230.1h0M408.4 264.0h0M465.0 297.0h0M478.7 277.7h0M416.8 199.6h0M522.7 258.9h0M428.8 232.8h0M477.7 173.5h0M450.3 271.0h0M469.5 234.6h0M426.2 190.2h0M441.3 175.4h0M468.0 200.9h0" stroke="#12c4c4" stroke-width="3" stroke-linecap="round"/><path d="M517.5 285.4h0M417.6 247.3h0M499.9 256.8h0M441.9 258.6h0M449.8 219.6h0M489.6 279.7h0M500.6 198.2h0M408.7 219.0h0M452.9 231.5h0M456.3 237.6h0M536.7 177.4h0M452.7 182.8h0M435.0 277.8h0M422.4 214.5h0M420.1 173.0h0M492.5 216.1h0M518.7 249.9h0M452.2 229.2h0M448.1 219.9h0M468.6 173.6h0M437.4 230.0h0M420.0 187.7h0M419.1 190.6h0M402.5 234.6h0M406.0 232.9h0M409.8 198.8h0M442.5 282.7h0M447.8 263.4h0M430.6 246.2h0M425.0 187.0h0M457.5 260.0h0M527.0 304.3h0M441.5 204.5h0M420.8 249.7h0M487.4 263.2h0M404.9 203.0h0M486.4 255.1h0M532.0 289.0h0M402.4 256.4h0M412.4 275.7h0M477.3 243.3h0M488.9 207.1h0" stroke="#12c4c4" stroke-width="3.5" stroke-linecap="round" stroke-opacity="0.40"/><path d="M473.6 232.4h0M520.1 286.5h0M473.5 218.7h0M501.0 242.0h0M452.7 257.1h0M409.0 298.4h0M438.5 250.6h0M496.7 215.3h0M481.4 195.4h0M535.1 247.1h0M426.8 267.2h0M462.0 230.8h0M414.0 208.5h0M517.6 274.4h0M509.7 300.8h0M419.4 273.0h0M456.8 222.2h0M412.0 242.6h0M408.3 183.8h0M496.1 250.7h0M480.1 275.9h0M455.2 170.3h0M476.4 173.0h0M527.6 300.5h0M517.6 220.2h0M461.2 258.0h0M513.9 295.8h0M434.7 292.2h0M480.7 175.2h0M444.7 207.4h0M439.1 198.0h0M419.7 300.8h0M455.8 223.2h0M428.5 258.8h0M525.7 295.8h0M499.3 219.5h0M514.1 281.4h0M450.5 295.7h0M451.5 299.4h0M503.4 263.6h0M528.1 280.5h0M474.6 275.3h0M446.5 274.8h0M489.0 198.7h0M518.0 219.9h0M406.8 234.4h0M433.2 238.1h0M501.0 237.4h0M428.8 185.8h0M528.9 272.4h0M486.3 250.3h0M455.0 194.3h0M480.4 210.4h0M440.9 188.0h0M428.6 237.3h0M426.7 215.4h0M429.5 218.0h0M407.2 296.0h0M463.7 186.7h0M474.9 242.8h0M483.8 177.3h0M534.6 296.7h0M453.3 276.1h0M442.9 300.3h0M445.5 302.2h0M485.0 239.3h0M483.3 276.5h0M530.1 183.2h0M532.5 298.9h0M517.9 259.7h0M411.7 225.1h0M410.6 289.6h0M501.2 201.4h0M473.1 174.0h0M476.9 242.4h0M414.5 236.6h0M473.4 303.4h0M530.8 197.3h0M532.6 195.1h0M457.4 247.2h0M419.3 240.7h0M417.0 239.0h0M445.1 195.2h0M487.9 177.0h0M497.1 224.6h0M425.6 232.2h0M412.1 254.5h0" stroke="#12c4c4" stroke-width="3.5" stroke-linecap="round" stroke-opacity="0.60"/><path d="M450.4 226.2h0M469.8 281.8h0M532.0 172.8h0M515.3 173.4h0M465.9 190.0h0M481.0 237.0h0M438.2 289.5h0M420.5 257.6h0M498.4 295.5h0M417.1 208.1h0M493.9 252.6h0M509.7 303.3h0M457.8 187.4h0M402.3 204.4h0M414.5 241.0h0M457.9 172.4h0M436.6 284.5h0M454.5 215.2h0M407.0 294.9h0M422.9 185.6h0M420.4 188.8h0M423.5 222.1h0M468.2 180.0h0M404.8 283.3h0M419.6 297.2h0M464.1 202.5h0M521.4 254.2h0M517.4 283.8h0M517.4 280.1h0M481.3 290.5h0M409.0 214.0h0M414.5 195.1h0M465.9 200.1h0M449.6 299.1h0M503.4 262.3h0M505.9 264.7h0M419.0 245.8h0M421.2 244.1h0M519.5 259.2h0M454.9 245.2h0M434.7 298.4h0M527.0 266.8h0M494.1 287.9h0M432.2 204.1h0M451.5 216.0h0M417.0 211.0h0M483.1 283.7h0M481.1 242.6h0M475.4 217.9h0M458.0 214.7h0M455.5 213.6h0M456.1 212.9h0M495.5 215.6h0M485.7 294.2h0M490.4 285.3h0M488.0 286.6h0M412.4 255.6h0M517.7 233.7h0M502.8 287.0h0M418.0 227.0h0M466.2 207.5h0M466.4 210.4h0M499.2 236.5h0M504.3 295.6h0M500.6 294.9h0" stroke="#12c4c4" stroke-width="3.5" stroke-linecap="round" stroke-opacity="0.80"/><path d="M471.5 279.3h0M502.2 227.5h0M465.2 176.2h0M495.7 210.8h0M489.2 195.0h0M406.2 197.6h0M521.8 304.4h0M443.9 172.7h0M461.2 209.6h0M408.7 189.7h0M413.4 206.9h0M523.4 259.0h0M417.6 279.5h0M404.0 191.0h0M529.6 208.8h0M434.3 293.8h0M451.1 254.8h0M407.1 236.9h0M479.2 268.0h0M428.0 175.6h0M513.4 195.3h0M467.5 227.2h0M406.9 209.0h0M435.6 250.6h0M499.1 187.8h0M421.2 278.0h0" stroke="#12c4c4" stroke-width="3.5" stroke-linecap="round"/><path d="M529.1 283.6h0M408.3 186.8h0M525.7 266.0h0M522.4 300.2h0M510.2 254.6h0M465.7 185.1h0M486.1 281.0h0M406.7 272.1h0M406.2 279.3h0M468.9 182.2h0M408.4 273.0h0M451.5 234.0h0M420.3 269.3h0M517.7 225.5h0M414.6 177.4h0M450.3 183.7h0M432.7 275.6h0M421.5 265.8h0M420.6 212.6h0M474.4 198.1h0M494.3 213.5h0M516.5 248.3h0M493.6 182.0h0M407.5 247.6h0M483.2 283.0h0M461.3 204.5h0M474.5 245.2h0M472.6 242.4h0M481.8 245.5h0M532.7 257.1h0M498.6 239.4h0M437.7 226.7h0M530.5 302.5h0M453.3 247.6h0M451.0 264.1h0M461.7 267.3h0M424.3 184.5h0M442.4 236.4h0M491.3 267.9h0M533.8 256.5h0M469.7 189.2h0M469.1 263.1h0M506.6 191.5h0M509.1 192.4h0M485.1 265.2h0M407.3 202.2h0M427.7 297.6h0M415.2 203.1h0M471.1 246.9h0M482.5 254.5h0M455.7 216.6h0M417.7 190.9h0M515.5 230.9h0M464.8 210.3h0M462.1 235.5h0M462.8 223.8h0M485.1 211.1h0M534.1 180.4h0M462.7 179.5h0" stroke="#12c4c4" stroke-width="4" stroke-linecap="round" stroke-opacity="0.40"/><path d="M415.9 240.2h0M530.7 262.3h0M530.8 265.7h0M497.0 242.3h0M434.2 246.0h0M419.9 195.7h0M503.2 239.2h0M419.4 249.9h0M484.0 245.2h0M407.3 181.1h0M498.0 217.5h0M472.7 231.5h0M527.1 232.1h0M429.3 269.3h0M449.1 222.8h0M446.7 179.4h0M449.4 180.2h0M461.4 249.7h0M458.7 225.0h0M409.0 269.7h0M474.9 235.9h0M472.3 235.0h0M411.5 217.6h0M402.5 171.8h0M488.0 182.3h0M496.8 271.9h0M439.8 305.7h0M523.4 244.5h0M403.1 191.6h0M423.1 244.7h0M502.6 219.6h0M512.6 278.5h0M525.0 279.3h0M417.4 287.1h0M452.2 232.0h0M528.1 274.9h0M525.5 273.9h0M433.6 238.5h0M436.9 237.3h0M403.1 233.4h0M430.7 188.9h0M537.1 202.9h0M411.9 201.0h0M511.6 275.0h0M420.4 173.1h0M422.8 171.3h0M443.8 223.9h0M441.0 222.1h0M455.4 197.5h0M480.3 207.6h0M438.2 186.1h0M512.2 290.9h0M434.1 257.4h0M409.9 293.8h0M417.7 191.2h0M486.0 179.6h0M499.9 270.3h0M527.9 241.7h0M516.6 263.4h0M478.9 203.0h0M445.8 258.6h0M440.9 262.3h0M498.5 200.8h0M468.4 249.2h0M411.3 238.1h0M421.1 305.5h0M442.9 193.9h0M443.5 264.6h0M474.7 281.9h0M410.1 277.9h0M414.9 255.6h0M511.9 264.5h0" stroke="#12c4c4" stroke-width="4" stroke-linecap="round" stroke-opacity="0.60"/><path d="M453.7 263.7h0M465.1 192.6h0M466.0 264.3h0M469.4 263.7h0M453.4 259.8h0M429.9 296.2h0M483.5 236.0h0M529.3 230.8h0M466.2 221.0h0M459.6 184.1h0M498.9 299.3h0M452.1 234.5h0M519.1 178.4h0M477.6 278.9h0M478.1 175.4h0M530.4 299.2h0M477.1 175.7h0M518.1 216.7h0M497.2 179.5h0M495.0 234.7h0M412.9 191.2h0M458.4 220.6h0M499.7 224.6h0M479.4 195.9h0M458.8 195.4h0M505.1 213.9h0M449.6 274.5h0M488.9 202.2h0M526.0 290.1h0M515.5 286.4h0M469.5 271.9h0M410.7 254.3h0M427.0 180.8h0M446.4 269.2h0M488.7 239.4h0M521.8 257.3h0M524.7 204.6h0M502.1 256.2h0M495.5 216.1h0M504.5 290.0h0M441.4 206.6h0M467.8 212.6h0M497.0 188.4h0M458.7 190.9h0M410.7 240.0h0M518.0 202.0h0M534.7 280.4h0" stroke="#12c4c4" stroke-width="4" stroke-linecap="round" stroke-opacity="0.80"/><path d="M407.7 246.7h0M456.2 291.2h0M463.6 297.5h0M441.8 197.8h0M404.2 206.2h0M496.4 265.3h0M418.0 295.7h0M528.8 262.4h0M454.9 178.2h0M492.8 265.5h0M504.4 261.0h0M496.1 283.8h0M427.2 176.1h0M458.1 305.5h0M464.2 270.2h0M520.6 232.2h0M508.8 174.9h0M495.9 190.3h0M402.3 304.4h0M515.9 219.6h0" stroke="#12c4c4" stroke-width="4" stroke-linecap="round"/><path d="M411.0 185.4h0M524.0 303.5h0M494.3 176.4h0M417.3 178.6h0M496.8 181.9h0M502.1 234.8h0M483.5 248.1h0M535.5 258.4h0M497.9 242.5h0M520.3 286.1h0M506.2 281.6h0M405.5 229.2h0" stroke="#12c4c4" stroke-width="4.5" stroke-linecap="round" stroke-opacity="0.40"/><path d="M481.5 302.4h0M418.4 227.9h0M494.9 240.7h0M422.9 194.5h0M405.6 189.3h0M520.7 225.5h0M500.7 287.2h0M416.9 259.2h0M510.6 294.4h0M495.9 303.9h0M442.4 259.4h0" stroke="#12c4c4" stroke-width="4.5" stroke-linecap="round" stroke-opacity="0.60"/><path d="M415.6 243.0h0M514.0 209.2h0M506.6 283.1h0M463.3 200.3h0M448.0 188.6h0M433.7 298.0h0M536.8 206.3h0M443.2 243.2h0M409.7 256.8h0M478.5 304.6h0M515.2 210.9h0M441.4 261.8h0" stroke="#12c4c4" stroke-width="4.5" stroke-linecap="round" stroke-opacity="0.80"/><path d="M518.0 181.8h0M430.4 182.8h0M438.4 232.7h0M442.1 198.1h0" stroke="#12c4c4" stroke-width="4.5" stroke-linecap="round"/></g></g><text x="408.3" y="185.1" style="font-family:'Liberation Sans',Arial,sans-serif;font-weight:bold;font-size:11.8px" fill="#fff">Zn</text><g clip-path="url(#cmg)"><rect x="539.1" y="173.8" width="131.9" height="130.5" fill="#000"/><g filter="url(#blur09)"><path d="M589.9 295.7h0M581.8 172.4h0M607.9 288.8h0M561.6 239.4h0M543.9 201.1h0M658.7 299.0h0M544.9 271.7h0" stroke="#f0000c" stroke-width="3" stroke-linecap="round" stroke-opacity="0.60"/><path d="M539.6 207.3h0M644.0 232.7h0M666.6 234.9h0M608.8 308.3h0M641.1 187.1h0M621.8 196.0h0" stroke="#f0000c" stroke-width="3" stroke-linecap="round" stroke-opacity="0.80"/><path d="M559.8 288.1h0M645.3 235.7h0M639.6 275.5h0M601.7 282.5h0M566.4 204.4h0" stroke="#f0000c" stroke-width="3" stroke-linecap="round"/><path d="M581.2 227.7h0M654.9 177.3h0M657.2 280.8h0M645.4 207.6h0M671.4 284.8h0M621.6 253.7h0M552.3 288.2h0M650.7 283.5h0M633.8 195.3h0M563.3 221.7h0M623.8 255.2h0M637.8 284.3h0M608.0 237.5h0M579.4 224.4h0M583.7 269.7h0M585.6 195.2h0M559.4 284.7h0M582.8 181.1h0M643.9 182.5h0M625.5 258.5h0M567.4 279.4h0M552.1 187.6h0M647.1 213.1h0M558.2 253.2h0M663.0 280.7h0M635.4 292.5h0M600.4 223.5h0M548.7 196.7h0M631.8 238.1h0M591.9 275.0h0M573.4 184.6h0M556.5 238.7h0M553.1 289.6h0M608.8 205.6h0M625.1 250.9h0M589.0 206.6h0M591.2 235.3h0M626.0 231.7h0M594.3 219.8h0M547.4 269.4h0M568.9 260.8h0M620.8 261.7h0M607.7 273.8h0M648.4 266.2h0M599.2 186.5h0" stroke="#f0000c" stroke-width="3.5" stroke-linecap="round" stroke-opacity="0.60"/><path d="M611.1 215.8h0M647.7 204.2h0M624.3 274.5h0M588.1 294.8h0M568.9 220.0h0M587.0 297.0h0M633.4 183.0h0M578.5 195.2h0M631.8 276.6h0M636.7 240.3h0M571.9 300.2h0M605.0 296.6h0M634.7 235.2h0M585.1 220.4h0M642.8 247.9h0M604.7 237.4h0M556.9 259.6h0M539.4 210.0h0M563.0 224.2h0M582.8 304.2h0M549.9 204.1h0M632.5 269.4h0M548.4 249.3h0M568.3 181.2h0M631.7 195.0h0M603.0 232.0h0M631.6 195.7h0M570.7 298.6h0M571.9 264.4h0M670.8 254.0h0M646.3 234.9h0M558.0 230.1h0M571.8 235.1h0M642.9 226.2h0M580.1 229.7h0M661.5 222.8h0M608.2 299.4h0M624.8 244.3h0M616.9 283.0h0M552.0 260.0h0M609.4 287.3h0M638.3 298.8h0M577.3 284.0h0M540.9 175.7h0M648.7 251.4h0M634.8 173.8h0M634.1 243.1h0M600.5 216.6h0M562.1 249.3h0M609.0 215.3h0M602.2 274.6h0M658.9 298.6h0M542.1 212.6h0M556.2 298.4h0M557.1 241.8h0M591.0 300.0h0M553.8 269.7h0M564.5 259.8h0M621.0 198.0h0M569.2 233.8h0M622.6 299.3h0M641.9 237.2h0M569.5 275.3h0M641.5 219.4h0M627.7 203.6h0M551.7 211.2h0M633.5 289.4h0M541.5 196.0h0M597.4 259.2h0M544.5 202.7h0M566.1 283.7h0M570.4 252.3h0M645.0 179.1h0M576.2 221.9h0M663.6 198.5h0M605.4 213.0h0M621.8 199.6h0M544.7 250.3h0M564.9 255.4h0M561.2 254.6h0M629.3 201.7h0M576.1 279.9h0" stroke="#f0000c" stroke-width="3.5" stroke-linecap="round" stroke-opacity="0.80"/><path d="M622.3 184.9h0M645.1 248.7h0M552.7 260.4h0M564.6 292.0h0M651.8 264.1h0M606.3 231.2h0M633.8 260.9h0M625.1 269.6h0M656.2 209.6h0M657.9 265.9h0M633.4 222.1h0M636.2 252.2h0M585.0 299.0h0M607.8 304.8h0M623.8 229.8h0M604.6 178.3h0M641.9 190.3h0M544.2 222.6h0M601.7 254.2h0M638.8 197.9h0M575.1 211.7h0M595.9 223.0h0M551.2 280.6h0" stroke="#f0000c" stroke-width="3.5" stroke-linecap="round"/><path d="M645.0 238.6h0M586.1 187.7h0M660.7 278.9h0M569.3 244.9h0M624.8 256.1h0M671.9 202.1h0M640.5 296.5h0M635.4 226.3h0M622.3 301.2h0M616.2 267.1h0M636.1 208.8h0M590.8 282.4h0M547.9 249.1h0M587.8 230.4h0M657.3 244.6h0M629.5 230.2h0M552.3 190.4h0M577.6 285.3h0M649.4 210.6h0M565.5 197.9h0M641.6 295.5h0M630.8 241.0h0M639.9 172.3h0M623.0 289.6h0M607.2 244.7h0M540.9 266.1h0M593.8 258.7h0M660.1 176.4h0M659.4 262.9h0M631.6 274.4h0M617.1 292.7h0M640.9 241.6h0M611.2 229.1h0M615.8 205.1h0M569.3 209.4h0M639.4 246.1h0M584.6 265.7h0" stroke="#f0000c" stroke-width="4" stroke-linecap="round" stroke-opacity="0.60"/><path d="M579.2 286.0h0M636.8 194.3h0M660.9 305.3h0M667.8 260.9h0M547.9 228.0h0M639.8 260.3h0M653.7 220.8h0M551.3 211.0h0M620.7 182.1h0M586.6 218.5h0M644.4 251.3h0M655.7 202.3h0M561.5 265.4h0M649.9 246.3h0M568.6 221.6h0M651.3 242.2h0M664.9 211.3h0M555.9 259.5h0M542.1 272.5h0M659.3 194.5h0M589.9 258.9h0M662.2 273.2h0M579.7 269.9h0M574.5 272.4h0M649.8 235.2h0M537.2 192.9h0M606.3 214.4h0M583.4 177.8h0M549.7 178.2h0M549.0 255.3h0M547.3 295.1h0M548.7 216.0h0M635.9 281.3h0M633.6 294.8h0M598.5 221.1h0M607.3 223.5h0M559.8 241.4h0M649.3 221.2h0M638.0 210.1h0M585.6 211.2h0M555.6 272.3h0M617.3 271.6h0M599.6 241.7h0M584.6 231.7h0M609.5 263.5h0M558.7 266.6h0M562.1 255.3h0M625.1 254.9h0M628.6 288.5h0M538.4 265.3h0M663.9 202.4h0M648.7 267.2h0M561.1 257.3h0M606.0 228.6h0" stroke="#f0000c" stroke-width="4" stroke-linecap="round" stroke-opacity="0.80"/><path d="M656.1 207.4h0M540.3 181.9h0M590.8 296.0h0M667.2 288.0h0M590.4 189.6h0M634.3 207.3h0M572.1 222.8h0M653.2 203.8h0M553.7 235.4h0M610.8 241.5h0M631.7 190.8h0M566.1 281.4h0M600.4 226.8h0M567.1 285.3h0M624.9 244.8h0M562.3 259.7h0M596.0 213.3h0M551.5 220.9h0M545.4 276.2h0M561.1 299.4h0M620.4 200.0h0M638.2 180.0h0M620.0 288.9h0M625.2 256.7h0M656.5 223.8h0M651.8 212.2h0M631.4 287.9h0M634.4 261.9h0M551.3 231.2h0M662.9 299.2h0M629.6 252.2h0M564.5 281.5h0M670.9 287.1h0M639.4 232.6h0M563.4 289.7h0M585.0 273.0h0M566.8 225.6h0M648.5 222.2h0" stroke="#f0000c" stroke-width="4" stroke-linecap="round"/></g></g><text x="542.3" y="185.1" style="font-family:'Liberation Sans',Arial,sans-serif;font-weight:bold;font-size:11.8px" fill="#fff">Fe</text><g clip-path="url(#cmh)"><rect x="269.5" y="306.8" width="131.3" height="130.7" fill="#000"/><g filter="url(#blur09)"><path d="M299.1 410.2h0" stroke="#1ae61a" stroke-width="2.5" stroke-linecap="round" stroke-opacity="0.80"/><path d="M362.1 397.1h0M305.8 386.9h0M368.5 387.5h0" stroke="#1ae61a" stroke-width="3" stroke-linecap="round" stroke-opacity="0.40"/><path d="M276.5 432.2h0M334.1 333.0h0M335.8 310.2h0M348.5 376.7h0M281.8 425.9h0M313.8 349.2h0M308.9 308.5h0M362.8 362.1h0M365.5 403.7h0M363.8 414.1h0M303.1 388.0h0M381.4 343.0h0M398.4 305.0h0M351.9 315.3h0M351.8 312.5h0M333.1 392.1h0M288.8 335.0h0M350.4 343.2h0M330.2 321.0h0M353.9 360.2h0M383.7 343.0h0M351.8 346.2h0M318.5 371.4h0M322.5 412.1h0M270.7 379.0h0M296.0 350.5h0M395.8 408.2h0M374.4 414.1h0M313.6 434.4h0M317.6 426.6h0M392.1 306.3h0M275.3 435.0h0M374.3 431.7h0M349.2 308.8h0" stroke="#1ae61a" stroke-width="3" stroke-linecap="round" stroke-opacity="0.60"/><path d="M336.3 357.5h0M357.2 306.2h0M398.6 307.8h0M398.5 401.9h0M290.0 329.9h0M369.6 403.7h0M398.3 363.9h0M268.1 378.6h0M388.2 397.3h0M297.2 309.3h0M369.3 380.3h0M281.3 351.3h0M285.7 437.4h0M385.4 357.2h0M277.1 394.4h0M336.2 337.5h0M361.2 407.3h0M326.6 410.3h0M362.6 402.5h0M343.0 319.8h0M375.6 417.3h0M282.3 340.2h0M367.5 371.4h0M372.0 338.3h0M304.6 330.5h0M392.8 424.5h0M332.8 413.1h0M307.0 329.3h0M292.7 375.0h0M324.5 390.8h0M368.4 369.4h0M292.1 408.0h0M393.1 387.9h0M279.2 356.1h0M383.5 345.5h0M364.2 397.6h0M395.9 396.5h0M372.0 327.6h0M285.6 366.7h0M354.5 369.8h0" stroke="#1ae61a" stroke-width="3" stroke-linecap="round" stroke-opacity="0.80"/><path d="M297.2 412.8h0M360.9 380.6h0M348.9 376.2h0M391.1 389.6h0M329.6 367.1h0M288.1 416.7h0M285.8 349.7h0M381.2 336.8h0M352.7 382.8h0M292.4 432.6h0M392.3 329.8h0M373.2 317.4h0M325.0 402.9h0" stroke="#1ae61a" stroke-width="3" stroke-linecap="round"/><path d="M298.4 305.7h0M312.2 371.4h0M396.3 327.6h0M378.8 350.5h0M398.0 352.9h0M382.6 313.6h0M368.9 353.9h0M322.0 389.4h0M366.8 357.0h0M370.8 320.6h0M313.4 421.8h0M332.3 316.7h0M373.6 407.7h0M295.4 305.3h0M275.3 333.1h0M267.5 362.3h0M380.6 363.5h0M369.9 399.2h0M289.2 390.8h0M290.2 384.0h0M364.6 397.0h0M314.9 385.2h0M279.8 313.2h0M323.1 334.1h0M391.1 366.8h0M370.8 412.9h0M279.4 339.6h0M375.7 337.4h0M366.2 426.9h0M373.1 411.6h0M378.8 341.8h0M268.8 373.1h0M302.5 429.5h0M298.0 417.6h0M351.0 381.5h0M381.2 437.2h0M362.0 310.3h0M360.3 412.0h0M269.5 415.6h0M363.8 350.7h0M356.5 420.2h0M391.9 344.9h0M392.8 404.7h0M272.9 400.3h0M275.3 346.3h0M398.9 385.8h0M355.8 340.7h0M271.1 417.8h0M402.0 339.6h0M356.3 379.0h0M312.0 423.1h0M346.4 377.7h0M284.1 401.8h0M304.9 369.4h0M364.7 354.4h0M370.5 377.3h0M318.3 318.7h0M402.4 325.5h0M376.5 361.8h0M378.2 397.9h0M396.8 396.4h0M293.7 325.8h0M366.3 407.2h0M366.1 385.7h0M271.1 335.0h0M354.5 423.7h0M397.6 401.5h0M350.7 317.5h0M393.1 369.7h0M317.8 429.0h0" stroke="#1ae61a" stroke-width="3.5" stroke-linecap="round" stroke-opacity="0.60"/><path d="M338.9 355.2h0M317.4 344.6h0M279.2 421.4h0M268.6 320.4h0M291.8 328.9h0M284.5 432.7h0M338.6 355.3h0M334.7 367.5h0M333.6 421.5h0M290.4 373.3h0M285.6 394.4h0M359.5 356.3h0M363.5 311.6h0M321.9 337.6h0M321.4 374.3h0M402.3 357.1h0M344.0 315.4h0M389.3 337.1h0M279.2 417.8h0M323.5 423.2h0M268.3 316.4h0M395.8 305.5h0M306.6 375.8h0M294.3 326.4h0M336.6 359.5h0M293.3 349.5h0M269.9 352.9h0M288.7 414.7h0M377.8 367.6h0M297.0 371.2h0M402.2 305.8h0M302.1 414.8h0M277.2 312.4h0M326.6 388.1h0M306.0 417.4h0M299.9 387.8h0M284.9 396.8h0M362.7 335.8h0M337.2 310.1h0M358.2 436.7h0M309.8 350.1h0M294.5 342.9h0M350.3 434.0h0M285.2 428.3h0M327.5 318.8h0M372.9 424.0h0M391.3 396.6h0M276.2 342.9h0M396.8 399.7h0M348.6 334.6h0M365.2 323.4h0" stroke="#1ae61a" stroke-width="3.5" stroke-linecap="round" stroke-opacity="0.80"/><path d="M335.2 385.3h0M294.8 304.8h0M348.5 326.1h0M288.5 306.4h0M318.2 315.7h0M394.3 351.0h0M376.6 339.7h0M271.2 395.2h0M330.5 317.4h0M387.5 387.6h0M277.6 415.0h0M290.0 343.4h0M274.4 422.8h0M331.6 386.7h0M286.0 426.5h0M394.6 313.6h0M355.3 334.4h0M352.9 375.9h0M301.2 383.0h0M332.2 383.1h0M310.9 410.3h0M301.0 397.0h0M344.3 332.0h0M341.7 419.5h0" stroke="#1ae61a" stroke-width="3.5" stroke-linecap="round"/><path d="M292.6 390.5h0M400.6 335.0h0M330.6 319.8h0M383.4 416.0h0M289.1 381.9h0M356.3 408.2h0M271.3 390.0h0M297.6 308.5h0M348.9 317.1h0M335.3 354.2h0M316.2 339.5h0M339.6 310.5h0M367.3 419.3h0M400.1 331.4h0M345.1 354.2h0M341.4 380.3h0M280.0 372.5h0M387.6 366.0h0M318.5 424.0h0M284.8 373.2h0M395.4 401.7h0M400.0 341.4h0M275.2 343.7h0M277.7 343.6h0M313.5 402.7h0M375.0 343.3h0M329.9 387.8h0M343.8 375.9h0M280.9 360.1h0M324.5 376.6h0M298.4 331.2h0M330.8 372.7h0M357.0 308.1h0M328.2 424.4h0M377.0 354.0h0M358.9 383.2h0" stroke="#1ae61a" stroke-width="4" stroke-linecap="round" stroke-opacity="0.60"/><path d="M267.6 425.1h0M332.7 317.3h0M293.4 414.3h0M281.9 310.2h0M332.2 413.7h0M278.8 368.4h0M320.3 336.8h0M292.8 350.6h0M288.3 358.1h0M372.3 313.3h0M314.9 424.9h0M308.3 327.7h0M383.1 331.0h0M399.7 342.7h0M402.1 407.6h0M388.9 309.5h0M302.9 408.2h0M390.2 329.3h0M379.7 317.2h0M401.2 403.5h0M378.9 370.8h0M359.3 408.5h0M274.2 390.9h0M307.5 307.1h0M394.3 343.8h0M338.9 359.6h0M330.0 308.3h0M393.5 393.7h0M276.3 427.5h0M388.0 379.6h0M383.8 388.4h0M347.8 319.8h0" stroke="#1ae61a" stroke-width="4" stroke-linecap="round" stroke-opacity="0.80"/><path d="M274.6 306.1h0M314.1 412.3h0M269.3 420.1h0M376.9 425.1h0M335.9 400.3h0M333.4 309.4h0M326.5 322.9h0M380.7 367.8h0M300.8 358.8h0M305.3 349.5h0M344.7 362.3h0M296.1 378.8h0M364.5 410.8h0" stroke="#1ae61a" stroke-width="4" stroke-linecap="round"/></g></g><text x="270.6" y="318.1" style="font-family:'Liberation Sans',Arial,sans-serif;font-weight:bold;font-size:11.8px" fill="#fff">Co</text><g clip-path="url(#cmi)"><rect x="404.2" y="306.8" width="131.6" height="130.7" fill="#000"/><g filter="url(#blur09)"><path d="M486.3 348.3h0M505.8 316.4h0M424.1 384.2h0" stroke="#2430f0" stroke-width="2.5" stroke-linecap="round" stroke-opacity="0.40"/><path d="M514.4 351.5h0" stroke="#2430f0" stroke-width="2.5" stroke-linecap="round" stroke-opacity="0.60"/><path d="M522.3 324.8h0" stroke="#2430f0" stroke-width="2.5" stroke-linecap="round" stroke-opacity="0.80"/><path d="M438.6 366.3h0M527.6 323.4h0" stroke="#2430f0" stroke-width="3" stroke-linecap="round" stroke-opacity="0.40"/><path d="M522.5 319.6h0M489.0 348.4h0M428.5 388.9h0M479.9 353.6h0M431.4 319.9h0M483.5 376.7h0M505.7 437.3h0M402.6 375.6h0M502.1 317.2h0M505.3 404.8h0M478.8 365.9h0M525.1 394.0h0M483.7 344.9h0M527.9 353.2h0M495.1 358.6h0M498.0 359.3h0M436.8 359.0h0M521.2 348.0h0M426.4 331.1h0M441.9 399.0h0M463.5 364.0h0M511.4 351.9h0M491.6 394.3h0M522.5 435.8h0M426.7 385.8h0M416.4 424.7h0M525.2 321.1h0M502.5 331.9h0M441.9 406.3h0M493.5 398.3h0" stroke="#2430f0" stroke-width="3" stroke-linecap="round" stroke-opacity="0.60"/><path d="M532.8 365.6h0M429.1 357.0h0M444.8 418.9h0M437.2 317.1h0M491.5 418.2h0M460.3 357.7h0M496.8 436.8h0M519.8 327.2h0M509.9 311.9h0M532.6 416.6h0M469.6 313.6h0M470.6 361.7h0M457.4 341.2h0M460.5 343.5h0M407.9 305.1h0M536.1 388.3h0M428.2 310.5h0M441.1 311.6h0M515.0 321.8h0M483.2 406.6h0M523.0 365.3h0M471.7 429.9h0M457.9 313.5h0M499.5 320.8h0M461.6 384.1h0M525.5 364.1h0M500.8 355.7h0M416.8 380.6h0M496.2 309.8h0" stroke="#2430f0" stroke-width="3" stroke-linecap="round" stroke-opacity="0.80"/><path d="M447.7 421.4h0M513.6 352.4h0M447.1 439.5h0M410.7 333.4h0M535.8 414.4h0M426.7 416.8h0M433.6 307.5h0M437.2 400.9h0M427.4 310.0h0M513.0 357.0h0M519.7 342.3h0M460.6 314.0h0M474.0 332.8h0M475.8 387.5h0" stroke="#2430f0" stroke-width="3" stroke-linecap="round"/><path d="M478.2 373.2h0M406.8 349.2h0" stroke="#2430f0" stroke-width="3.5" stroke-linecap="round" stroke-opacity="0.40"/><path d="M418.2 343.7h0M419.2 326.7h0M533.2 375.3h0M506.7 372.7h0M461.9 369.7h0M497.0 413.1h0M533.6 341.5h0M424.5 407.7h0M430.4 369.1h0M456.8 428.0h0M509.0 335.0h0M528.1 338.2h0M510.2 389.0h0M439.9 386.6h0M450.0 428.9h0M533.2 417.1h0M437.1 362.9h0M443.0 325.9h0M473.9 357.7h0M496.9 386.4h0M424.9 308.6h0M488.2 359.1h0M513.4 356.0h0M485.6 340.3h0M512.8 342.1h0M508.5 313.1h0M523.8 404.6h0M512.6 333.4h0M524.6 352.5h0M425.5 419.6h0M518.9 419.2h0M432.1 392.0h0M521.7 336.6h0M480.9 315.2h0M531.8 421.8h0M489.1 340.8h0M522.9 340.5h0M407.0 316.4h0M517.0 354.9h0M454.4 323.1h0M482.4 344.7h0M463.9 384.1h0M514.4 374.8h0M450.3 312.7h0M509.0 373.9h0M444.3 311.9h0M446.7 309.2h0M499.0 319.7h0M490.3 425.1h0M493.3 415.4h0M405.3 345.9h0M438.1 406.3h0M523.5 433.1h0M512.9 402.2h0M476.1 427.7h0M514.7 367.9h0M416.5 415.3h0M492.3 364.5h0M519.8 360.2h0M503.6 335.8h0M483.4 334.3h0M440.7 419.4h0M431.8 325.5h0M409.1 348.7h0M534.0 401.0h0M480.7 363.9h0" stroke="#2430f0" stroke-width="3.5" stroke-linecap="round" stroke-opacity="0.60"/><path d="M402.7 413.5h0M416.3 437.6h0M483.8 374.1h0M472.5 389.1h0M467.1 305.3h0M456.7 418.3h0M436.6 355.2h0M432.6 342.9h0M468.2 426.0h0M405.3 370.8h0M471.8 422.5h0M437.8 345.8h0M442.5 312.8h0M472.5 412.3h0M512.0 362.8h0M421.2 335.2h0M472.5 360.0h0M443.9 414.1h0M415.7 428.5h0M513.6 389.3h0M514.3 339.6h0M442.2 314.4h0M408.4 405.3h0M511.5 336.5h0M412.7 372.0h0M453.2 334.5h0M471.6 313.7h0M525.7 359.8h0M491.5 402.1h0M447.6 376.2h0M448.9 373.3h0M502.4 414.2h0M469.7 309.9h0M450.3 433.9h0M451.0 320.6h0M434.0 400.8h0M417.8 432.6h0M462.2 349.0h0M532.3 384.1h0M467.5 382.0h0M469.9 311.5h0M521.0 414.1h0M406.1 420.5h0M520.1 435.2h0M533.7 329.7h0M483.1 342.2h0M524.6 340.2h0M523.4 383.4h0M405.8 306.1h0M509.0 377.7h0M512.4 376.4h0M444.7 328.6h0M431.5 374.6h0M512.2 381.0h0M429.0 362.9h0M502.1 353.2h0M483.3 419.2h0M522.8 335.2h0M433.9 394.6h0M442.9 362.4h0M427.3 408.0h0M404.5 372.1h0M408.4 381.9h0M405.5 384.1h0M516.2 394.1h0" stroke="#2430f0" stroke-width="3.5" stroke-linecap="round" stroke-opacity="0.80"/><path d="M467.6 399.7h0M419.1 325.9h0M407.7 353.2h0M447.6 427.3h0M476.5 435.3h0M452.5 339.2h0M475.5 309.6h0M407.4 414.4h0M432.4 336.8h0M493.3 439.4h0M489.6 385.0h0M514.8 315.2h0M485.9 341.4h0M412.8 366.9h0M448.4 313.0h0M438.1 346.2h0M528.9 420.1h0M420.1 378.1h0M502.7 383.6h0M439.5 395.8h0M529.8 320.4h0M529.5 412.5h0M513.5 437.8h0" stroke="#2430f0" stroke-width="3.5" stroke-linecap="round"/><path d="M525.1 385.8h0M475.5 375.7h0M451.6 335.7h0M500.7 432.8h0M424.0 311.1h0M480.4 413.5h0M520.2 438.8h0M525.8 388.4h0M520.9 416.3h0M402.9 396.1h0M530.5 402.3h0M406.9 377.0h0M466.2 311.1h0M483.2 377.0h0M510.1 363.3h0M494.3 382.3h0M424.3 388.6h0M408.3 425.0h0M524.9 378.4h0M487.8 425.8h0M523.4 430.2h0M487.6 310.9h0M458.7 351.7h0M496.7 396.5h0M520.2 364.3h0" stroke="#2430f0" stroke-width="4" stroke-linecap="round" stroke-opacity="0.60"/><path d="M405.0 415.2h0M477.6 385.3h0M478.9 392.1h0M417.8 333.3h0M457.0 329.7h0M531.4 419.2h0M424.9 409.9h0M427.4 388.3h0M526.9 332.8h0M438.8 322.1h0M465.9 366.2h0M511.8 407.2h0M440.1 354.7h0M500.5 389.4h0M437.6 321.7h0M536.6 363.7h0M488.5 313.2h0M423.0 326.0h0M425.0 382.1h0M502.8 362.2h0M435.0 408.3h0M501.6 367.3h0M412.2 361.0h0M482.4 438.0h0M482.2 382.6h0M467.9 380.5h0M533.9 380.5h0M495.4 439.5h0" stroke="#2430f0" stroke-width="4" stroke-linecap="round" stroke-opacity="0.80"/><path d="M446.9 359.8h0M475.6 387.2h0M413.7 426.1h0M468.9 347.3h0M466.0 348.9h0M516.7 317.9h0M432.4 398.0h0M512.3 331.9h0M439.2 417.2h0M506.7 367.0h0M520.3 394.5h0M527.5 414.6h0M534.5 435.2h0M537.2 416.1h0M428.2 365.5h0M447.0 352.7h0" stroke="#2430f0" stroke-width="4" stroke-linecap="round"/></g></g><text x="408" y="318.1" style="font-family:'Liberation Sans',Arial,sans-serif;font-weight:bold;font-size:11.8px" fill="#fff">Ni</text><g clip-path="url(#cmj)"><rect x="539.1" y="306.8" width="131.9" height="130.7" fill="#000"/><g filter="url(#blur09)"><path d="M554.7 419.1h0" stroke="#e600e6" stroke-width="2.5" stroke-linecap="round" stroke-opacity="0.60"/><path d="M552.5 369.3h0M610.1 371.2h0" stroke="#e600e6" stroke-width="2.5" stroke-linecap="round" stroke-opacity="0.80"/><path d="M650.0 376.8h0M624.4 307.7h0M549.2 423.9h0M547.3 425.5h0M585.8 351.3h0M662.2 416.1h0M630.4 378.5h0M623.0 326.4h0M666.2 354.2h0M560.2 435.4h0M668.4 320.1h0M554.1 423.0h0M593.6 363.2h0M540.1 392.2h0M607.4 380.2h0M577.3 361.8h0M601.9 387.0h0M654.1 428.7h0M570.0 393.8h0M576.6 359.0h0M613.9 314.0h0M624.1 431.2h0M571.0 354.8h0M547.9 320.7h0M604.2 317.8h0M544.8 381.4h0M565.1 310.2h0" stroke="#e600e6" stroke-width="3" stroke-linecap="round" stroke-opacity="0.60"/><path d="M664.9 361.8h0M659.1 438.6h0M545.2 362.8h0M652.5 319.9h0M618.6 344.4h0M665.5 330.0h0M604.7 428.0h0M573.5 356.9h0M539.5 379.1h0M622.1 387.1h0M621.4 425.1h0M660.1 324.4h0M596.3 320.7h0M586.5 401.2h0M667.5 396.7h0M666.5 397.7h0M538.4 414.8h0M602.9 342.7h0M660.6 316.4h0M657.8 434.4h0M606.5 382.8h0M617.0 323.1h0M583.0 375.1h0M558.8 364.0h0M562.2 394.4h0M639.9 319.2h0M601.7 386.1h0M673.5 382.1h0M595.0 344.8h0M606.6 306.7h0M557.9 439.3h0M669.8 378.3h0M669.1 311.6h0M541.8 407.2h0M607.4 370.7h0M667.8 381.2h0M581.0 433.4h0M563.0 345.8h0" stroke="#e600e6" stroke-width="3" stroke-linecap="round" stroke-opacity="0.80"/><path d="M633.4 361.7h0M607.3 318.4h0M569.9 356.7h0M543.6 392.8h0M654.9 354.9h0M544.7 391.2h0M590.9 402.9h0M587.3 363.4h0M635.1 427.7h0M665.0 396.2h0M540.5 379.9h0M613.0 318.0h0M626.3 367.9h0M554.9 366.5h0M576.8 404.5h0M555.5 430.6h0M607.4 424.0h0M625.2 418.3h0M654.8 431.0h0M652.2 424.3h0M636.8 316.8h0M557.7 367.2h0" stroke="#e600e6" stroke-width="3" stroke-linecap="round"/><path d="M661.1 360.1h0M548.4 333.7h0M611.1 374.7h0M644.9 421.4h0M603.5 319.6h0M637.8 416.9h0M537.8 349.3h0M539.6 346.2h0M570.9 405.4h0M632.2 383.2h0M648.4 427.3h0M589.9 308.2h0M565.4 400.4h0M543.8 308.7h0M551.2 416.0h0M612.4 395.4h0M539.5 334.9h0M634.7 324.1h0M568.1 434.1h0M597.0 345.4h0M650.5 378.7h0M656.9 328.3h0M592.2 332.1h0M553.0 380.7h0M624.3 439.1h0M643.2 349.1h0M639.3 386.6h0M554.1 396.8h0M552.5 389.8h0M544.8 397.5h0M561.9 382.4h0M537.7 426.1h0M567.1 328.5h0M646.9 347.6h0M617.5 422.4h0M596.9 438.5h0M596.3 441.8h0M567.2 392.9h0M596.2 309.6h0M560.4 431.7h0M604.1 435.5h0M564.1 313.9h0M595.1 312.8h0M620.1 311.3h0M613.3 434.9h0M607.8 305.6h0M598.0 410.7h0M582.8 410.1h0M563.3 357.5h0M560.0 335.5h0M593.4 379.4h0M667.6 415.6h0M601.3 346.1h0M578.6 359.9h0M616.8 398.4h0M663.1 324.1h0M557.5 412.2h0" stroke="#e600e6" stroke-width="3.5" stroke-linecap="round" stroke-opacity="0.60"/><path d="M552.4 397.4h0M611.9 409.9h0M612.0 346.7h0M668.4 363.1h0M622.9 386.6h0M626.2 416.7h0M648.4 428.0h0M608.8 419.8h0M599.3 321.4h0M616.7 328.5h0M554.7 317.3h0M637.2 424.2h0M575.8 335.2h0M646.3 416.4h0M543.4 321.9h0M670.8 360.0h0M611.2 438.8h0M551.3 313.8h0M662.7 422.7h0M640.6 399.5h0M668.6 436.0h0M593.2 321.3h0M616.8 319.3h0M591.3 321.3h0M644.6 347.8h0M665.7 403.2h0M542.0 378.8h0M552.2 378.2h0M673.5 306.0h0M629.4 334.4h0M665.1 417.3h0M657.6 371.5h0M606.4 307.5h0M621.9 396.1h0M579.6 374.3h0M603.3 383.9h0M659.5 348.3h0M601.7 334.6h0M651.3 361.6h0M650.0 344.6h0M605.2 385.2h0M598.5 364.0h0M633.5 365.6h0M649.7 379.4h0M654.7 321.1h0M654.8 313.5h0M650.3 409.3h0M582.1 360.9h0M544.9 346.3h0M562.3 402.4h0M542.5 346.0h0M589.1 415.2h0M643.0 317.6h0M667.3 319.1h0M624.8 378.1h0M607.8 372.0h0M630.3 401.8h0M579.5 311.6h0M610.3 344.9h0M615.3 396.9h0M538.5 379.7h0M616.7 436.4h0M584.6 340.2h0M574.5 401.2h0" stroke="#e600e6" stroke-width="3.5" stroke-linecap="round" stroke-opacity="0.80"/><path d="M644.2 404.4h0M624.2 427.4h0M648.4 310.1h0M568.0 346.4h0M567.5 382.5h0M546.5 333.4h0M580.3 306.4h0M611.7 373.0h0M597.9 425.9h0M590.8 346.7h0M604.8 376.1h0M661.2 408.1h0M643.7 313.0h0M671.1 379.3h0M546.0 354.3h0M660.9 365.1h0M644.2 329.4h0M567.9 413.0h0M672.7 312.9h0M606.2 419.9h0M545.5 408.6h0M567.2 415.1h0M651.5 360.8h0M541.8 378.8h0M651.8 337.9h0M562.7 400.2h0M564.1 309.3h0M589.2 393.6h0M642.8 350.9h0M548.5 360.1h0" stroke="#e600e6" stroke-width="3.5" stroke-linecap="round"/><path d="M605.0 394.2h0M634.2 330.8h0M611.8 384.7h0M636.3 307.9h0M608.9 312.7h0M546.3 331.4h0M580.4 323.1h0M579.1 403.7h0M671.8 413.1h0M671.0 333.3h0M589.3 366.6h0M586.0 372.6h0M604.5 321.5h0M642.5 388.3h0M560.0 386.1h0M607.4 330.5h0M643.8 373.6h0M598.5 398.9h0M543.7 427.3h0M556.1 399.3h0" stroke="#e600e6" stroke-width="4" stroke-linecap="round" stroke-opacity="0.60"/><path d="M672.7 404.7h0M641.1 327.7h0M638.3 420.8h0M649.0 321.4h0M588.0 410.7h0M606.1 436.5h0M653.0 437.4h0M552.7 415.8h0M547.2 346.1h0M651.7 312.0h0M563.8 340.9h0M551.6 385.8h0M567.8 403.1h0M580.9 367.1h0M659.2 409.6h0M652.6 332.7h0M579.1 390.1h0M582.0 308.1h0M652.7 425.1h0M593.9 312.2h0M617.2 315.0h0M592.1 414.1h0M584.8 366.9h0M642.6 370.9h0M557.9 419.4h0M600.3 366.7h0M627.3 399.7h0M572.7 330.8h0M646.1 401.8h0M565.8 342.2h0M613.0 430.8h0M560.9 368.5h0M600.4 424.7h0M569.4 410.9h0M629.6 373.6h0M672.4 384.8h0M656.8 398.3h0" stroke="#e600e6" stroke-width="4" stroke-linecap="round" stroke-opacity="0.80"/><path d="M589.6 379.6h0M595.9 357.3h0M583.8 336.9h0M670.5 305.2h0M665.5 402.6h0M659.3 351.0h0M622.7 427.1h0M577.3 342.3h0M546.4 319.1h0M596.5 385.8h0M660.9 360.3h0M584.1 404.1h0" stroke="#e600e6" stroke-width="4" stroke-linecap="round"/></g></g><text x="540.3" y="318.1" style="font-family:'Liberation Sans',Arial,sans-serif;font-weight:bold;font-size:11.8px" fill="#fff">Cr</text><text x="389.8" y="190.2" text-anchor="middle" style="font-family:'Liberation Sans',Arial,sans-serif;font-weight:bold;font-size:17.5px" fill="#fff">e</text><text x="272.2" y="300.0" style="font-family:'Liberation Sans',Arial,sans-serif;font-weight:bold;font-size:10.4px" fill="#fff">1 nm</text><rect x="271.5" y="302.1" width="31" height="0.9" fill="#fff"/><text x="524.8" y="190.2" text-anchor="middle" style="font-family:'Liberation Sans',Arial,sans-serif;font-weight:bold;font-size:17.5px" fill="#fff">f</text><text x="406.9" y="300.0" style="font-family:'Liberation Sans',Arial,sans-serif;font-weight:bold;font-size:10.4px" fill="#fff">1 nm</text><rect x="406.2" y="302.1" width="31" height="0.9" fill="#fff"/><text x="660.0" y="190.2" text-anchor="middle" style="font-family:'Liberation Sans',Arial,sans-serif;font-weight:bold;font-size:17.5px" fill="#fff">g</text><text x="541.8" y="300.0" style="font-family:'Liberation Sans',Arial,sans-serif;font-weight:bold;font-size:10.4px" fill="#fff">1 nm</text><rect x="541.1" y="302.1" width="31" height="0.9" fill="#fff"/><text x="389.8" y="323.2" text-anchor="middle" style="font-family:'Liberation Sans',Arial,sans-serif;font-weight:bold;font-size:17.5px" fill="#fff">h</text><text x="272.2" y="433.2" style="font-family:'Liberation Sans',Arial,sans-serif;font-weight:bold;font-size:10.4px" fill="#fff">1 nm</text><rect x="271.5" y="435.3" width="31" height="0.9" fill="#fff"/><text x="524.8" y="323.2" text-anchor="middle" style="font-family:'Liberation Sans',Arial,sans-serif;font-weight:bold;font-size:17.5px" fill="#fff">i</text><text x="406.9" y="433.2" style="font-family:'Liberation Sans',Arial,sans-serif;font-weight:bold;font-size:10.4px" fill="#fff">1 nm</text><rect x="406.2" y="435.3" width="31" height="0.9" fill="#fff"/><text x="660.0" y="323.2" text-anchor="middle" style="font-family:'Liberation Sans',Arial,sans-serif;font-weight:bold;font-size:17.5px" fill="#fff">j</text><text x="541.8" y="433.2" style="font-family:'Liberation Sans',Arial,sans-serif;font-weight:bold;font-size:10.4px" fill="#fff">1 nm</text><rect x="541.1" y="435.3" width="31" height="0.9" fill="#fff"/><rect x="271.2" y="175.6" width="19.8" height="7.6" rx="1.5" fill="#fff"/><text x="281.1" y="181.7" text-anchor="middle" style="font-family:'Liberation Sans',Arial,sans-serif;font-weight:bold;font-size:5.6px;letter-spacing:-0.2px" fill="#fff" stroke="#444" stroke-width="0.4">HAADF</text><rect x="292" y="175.6" width="8" height="7.6" fill="#f0ec00"/><text x="296" y="181.6" text-anchor="middle" style="font-family:'Liberation Sans',Arial,sans-serif;font-weight:bold;font-size:5.5px" fill="#999">Pt</text><text x="278.5" y="193.7" style="font-family:'Liberation Sans',Arial,sans-serif;font-weight:bold;font-size:10.4px" fill="#fff">Pt</text><g id="pk"><rect x="31.1" y="443.5" width="6.7" height="113.0" fill="#aaf5aa"/><rect x="83.1" y="443.5" width="6.4" height="113.0" fill="#aaf5aa"/><polyline points="8.9,473.5 11.7,467 14.8,472.2 17.4,463.2 18.9,463.7 21,457.5 23.1,459.1 25.1,467.3 27.2,470.4 28.7,469.4 30.8,473 32.9,469.4 34.9,473 38,473 40,469 42.2,456.5 44,466 45.8,472.5 48,467 50.4,450.8 52,464 53.5,472.5 57.6,467.9 60.7,472 62.5,464 64.3,452.9 65.6,462 66.9,467.9 68,467.3 70.5,473.5 75.2,473.2 78.8,471 80.3,465 81.6,457 82.8,466 83.9,472.5 86.5,469.4 88.6,472 91.5,470 94.5,461.2 96,467 97.3,471 103,473 105.5,468 107.4,458.4 109,467 110.2,473 113.5,466 115.4,456.3 117,466 118.5,473 124.7,472 127.6,465.3 129,469 130.4,473 133.1,474.6" fill="none" stroke="#dba535" stroke-width="0.9" stroke-linejoin="round"/><polyline points="8.8,492.1 9.2,492.0 9.6,492.0 10.0,492.1 10.4,492.0 10.8,492.2 11.2,492.0 11.6,491.8 12.0,491.7 12.4,491.6 12.8,491.4 13.2,491.4 13.6,491.3 14.0,491.4 14.4,491.2 14.8,491.5 15.2,491.4 15.6,491.7 16.0,491.8 16.4,491.8 16.8,492.0 17.2,491.8 17.6,491.7 18.0,491.8 18.4,491.5 18.8,491.6 19.2,491.4 19.6,491.4 20.0,491.4 20.4,491.2 20.8,491.4 21.2,491.6 21.6,491.7 22.0,491.9 22.4,491.9 22.8,492.1 23.2,492.0 23.6,492.1 24.0,492.0 24.4,492.2 24.8,492.0 25.2,492.2 25.6,492.0 26.0,492.0 26.4,492.0 26.8,492.2 27.2,492.1 27.6,492.0 28.0,492.0 28.4,492.1 28.8,492.0 29.2,492.2 29.6,492.1 30.0,492.2 30.4,491.9 30.8,492.1 31.2,491.8 31.6,491.4 32.0,490.8 32.4,489.8 32.8,488.6 33.2,486.9 33.6,485.0 34.0,483.3 34.4,482.0 34.8,481.9 35.2,482.6 35.6,484.1 36.0,485.9 36.4,487.6 36.8,489.3 37.2,490.3 37.6,491.2 38.0,491.6 38.4,491.9 38.8,492.0 39.2,492.1 39.6,491.9 40.0,492.1 40.4,492.0 40.8,492.1 41.2,492.2 41.6,492.2 42.0,492.1 42.4,492.1 42.8,492.2 43.2,492.0 43.6,492.2 44.0,492.0 44.4,492.0 44.8,492.2 45.2,492.1 45.6,491.9 46.0,491.9 46.4,491.8 46.8,491.5 47.2,491.3 47.6,490.9 48.0,490.3 48.4,490.2 48.8,489.8 49.2,489.4 49.6,489.6 50.0,489.7 50.4,490.0 50.8,490.1 51.2,490.5 51.6,490.2 52.0,489.6 52.4,488.4 52.8,486.1 53.2,483.1 53.6,480.1 54.0,477.3 54.4,476.2 54.8,476.5 55.2,478.6 55.6,481.7 56.0,484.7 56.4,487.7 56.8,489.4 57.2,490.9 57.6,491.6 58.0,491.8 58.4,492.1 58.8,492.1 59.2,492.2 59.6,492.2 60.0,492.0 60.4,492.2 60.8,492.0 61.2,492.1 61.6,492.2 62.0,492.1 62.4,492.2 62.8,492.2 63.2,492.1 63.6,492.1 64.0,492.0 64.4,492.0 64.8,492.0 65.2,492.1 65.6,492.2 66.0,492.2 66.4,492.2 66.8,492.2 67.2,492.2 67.6,492.1 68.0,492.0 68.4,492.2 68.8,492.0 69.2,492.1 69.6,492.2 70.0,492.0 70.4,492.1 70.8,492.1 71.2,492.2 71.6,492.0 72.0,492.1 72.4,492.0 72.8,491.9 73.2,491.9 73.6,491.4 74.0,490.7 74.4,489.7 74.8,488.4 75.2,486.8 75.6,485.6 76.0,484.7 76.4,484.6 76.8,485.4 77.2,486.8 77.6,488.3 78.0,489.7 78.4,490.8 78.8,491.4 79.2,491.6 79.6,491.9 80.0,491.9 80.4,492.0 80.8,492.0 81.2,492.0 81.6,492.1 82.0,492.0 82.4,492.0 82.8,491.8 83.2,491.5 83.6,491.1 84.0,490.0 84.4,487.9 84.8,484.9 85.2,481.1 85.6,477.3 86.0,474.2 86.4,472.5 86.8,473.0 87.2,475.4 87.6,479.2 88.0,483.1 88.4,486.6 88.8,489.1 89.2,490.6 89.6,491.4 90.0,491.8 90.4,492.1 90.8,492.1 91.2,492.0 91.6,492.2 92.0,491.9 92.4,491.7 92.8,491.4 93.2,491.1 93.6,490.5 94.0,489.6 94.4,488.7 94.8,488.0 95.2,487.5 95.6,487.5 96.0,488.3 96.4,489.1 96.8,490.0 97.2,490.7 97.6,491.4 98.0,491.7 98.4,492.0 98.8,492.1 99.2,492.1 99.6,491.8 100.0,491.6 100.4,491.0 100.8,490.2 101.2,489.0 101.6,487.6 102.0,486.3 102.4,485.4 102.8,485.0 103.2,485.3 103.6,486.3 104.0,487.7 104.4,489.1 104.8,490.2 105.2,491.0 105.6,491.5 106.0,491.9 106.4,492.1 106.8,492.0 107.2,492.1 107.6,492.2 108.0,492.1 108.4,492.0 108.8,492.0 109.2,491.9 109.6,491.6 110.0,491.4 110.4,490.8 110.8,490.5 111.2,489.7 111.6,489.2 112.0,489.0 112.4,489.1 112.8,489.5 113.2,489.9 113.6,490.8 114.0,491.3 114.4,491.5 114.8,491.8 115.2,492.0 115.6,491.9 116.0,492.0 116.4,491.6 116.8,491.2 117.2,491.0 117.6,490.5 118.0,490.1 118.4,490.1 118.8,490.2 119.2,490.3 119.6,490.7 120.0,490.9 120.4,491.1 120.8,491.1 121.2,491.1 121.6,490.8 122.0,490.3 122.4,490.1 122.8,489.9 123.2,490.0 123.6,490.4 124.0,490.7 124.4,491.1 124.8,491.6 125.2,491.9 125.6,491.9 126.0,491.9 126.4,492.0 126.8,492.0 127.2,492.1 127.6,492.1 128.0,492.1 128.4,492.2 128.8,492.2 129.2,492.0 129.6,492.2 130.0,492.2 130.4,492.2 130.8,492.2 131.2,492.0 131.6,492.0 132.0,492.0 132.4,492.2 132.8,492.0" fill="none" stroke="#bf7fe6" stroke-width="0.9" stroke-linejoin="round"/><polyline points="8.8,505.6 9.2,505.8 9.6,505.6 10.0,505.7 10.4,505.6 10.8,505.7 11.2,505.6 11.6,505.7 12.0,505.6 12.4,505.7 12.8,505.6 13.2,505.7 13.6,505.7 14.0,505.8 14.4,505.7 14.8,505.7 15.2,505.5 15.6,505.6 16.0,505.2 16.4,504.9 16.8,503.6 17.2,502.2 17.6,499.9 18.0,497.6 18.4,495.3 18.8,493.6 19.2,493.3 19.6,494.4 20.0,496.3 20.4,498.8 20.8,501.1 21.2,502.9 21.6,504.2 22.0,505.1 22.4,505.5 22.8,505.5 23.2,505.7 23.6,505.6 24.0,505.5 24.4,505.8 24.8,505.7 25.2,505.6 25.6,505.8 26.0,505.6 26.4,505.8 26.8,505.8 27.2,505.7 27.6,505.7 28.0,505.6 28.4,505.7 28.8,505.7 29.2,505.7 29.6,505.4 30.0,505.5 30.4,505.3 30.8,505.2 31.2,505.2 31.6,505.0 32.0,505.1 32.4,504.9 32.8,504.9 33.2,505.1 33.6,505.1 34.0,505.1 34.4,505.1 34.8,505.4 35.2,505.5 35.6,505.5 36.0,505.6 36.4,505.5 36.8,505.7 37.2,505.5 37.6,505.6 38.0,505.6 38.4,505.7 38.8,505.8 39.2,505.7 39.6,505.7 40.0,505.6 40.4,505.8 40.8,505.8 41.2,505.8 41.6,505.6 42.0,505.6 42.4,505.7 42.8,505.6 43.2,505.8 43.6,505.7 44.0,505.7 44.4,505.6 44.8,505.6 45.2,505.7 45.6,505.6 46.0,505.3 46.4,505.0 46.8,504.4 47.2,503.2 47.6,501.2 48.0,498.9 48.4,496.6 48.8,494.6 49.2,493.5 49.6,494.0 50.0,495.5 50.4,497.8 50.8,500.1 51.2,502.4 51.6,503.8 52.0,504.7 52.4,505.3 52.8,505.6 53.2,505.7 53.6,505.8 54.0,505.6 54.4,505.7 54.8,505.6 55.2,505.6 55.6,505.7 56.0,505.6 56.4,505.8 56.8,505.7 57.2,505.8 57.6,505.8 58.0,505.7 58.4,505.8 58.8,505.8 59.2,505.8 59.6,505.7 60.0,505.7 60.4,505.8 60.8,505.7 61.2,505.6 61.6,505.8 62.0,505.7 62.4,505.7 62.8,505.7 63.2,505.7 63.6,505.6 64.0,505.3 64.4,505.0 64.8,504.6 65.2,504.1 65.6,503.4 66.0,502.4 66.4,501.8 66.8,501.6 67.2,501.5 67.6,502.0 68.0,502.4 68.4,503.3 68.8,504.0 69.2,504.8 69.6,505.1 70.0,505.4 70.4,505.7 70.8,505.6 71.2,505.8 71.6,505.7 72.0,505.7 72.4,505.8 72.8,505.7 73.2,505.6 73.6,505.7 74.0,505.7 74.4,505.7 74.8,505.6 75.2,505.6 75.6,505.6 76.0,505.7 76.4,505.7 76.8,505.7 77.2,505.8 77.6,505.6 78.0,505.8 78.4,505.8 78.8,505.6 79.2,505.8 79.6,505.8 80.0,505.8 80.4,505.8 80.8,505.8 81.2,505.6 81.6,505.8 82.0,505.6 82.4,505.8 82.8,505.7 83.2,505.8 83.6,505.6 84.0,505.8 84.4,505.8 84.8,505.6 85.2,505.6 85.6,505.8 86.0,505.7 86.4,505.8 86.8,505.7 87.2,505.6 87.6,505.6 88.0,505.8 88.4,505.8 88.8,505.8 89.2,505.7 89.6,505.8 90.0,505.6 90.4,505.6 90.8,505.6 91.2,505.7 91.6,505.8 92.0,505.6 92.4,505.6 92.8,505.8 93.2,505.6 93.6,505.8 94.0,505.7 94.4,505.7 94.8,505.7 95.2,505.6 95.6,505.6 96.0,505.6 96.4,505.3 96.8,505.0 97.2,504.8 97.6,504.8 98.0,504.5 98.4,504.5 98.8,504.5 99.2,504.9 99.6,505.0 100.0,505.4 100.4,505.5 100.8,505.7 101.2,505.6 101.6,505.4 102.0,505.2 102.4,504.9 102.8,504.1 103.2,503.5 103.6,502.5 104.0,501.8 104.4,501.0 104.8,501.3 105.2,501.8 105.6,502.5 106.0,503.3 106.4,504.2 106.8,504.9 107.2,505.2 107.6,505.5 108.0,505.6 108.4,505.5 108.8,505.6 109.2,505.8 109.6,505.8 110.0,505.8 110.4,505.7 110.8,505.8 111.2,505.8 111.6,505.6 112.0,505.7 112.4,505.7 112.8,505.7 113.2,505.7 113.6,505.6 114.0,505.7 114.4,505.6 114.8,505.8 115.2,505.6 115.6,505.8 116.0,505.8 116.4,505.6 116.8,505.7 117.2,505.8 117.6,505.6 118.0,505.6 118.4,505.6 118.8,505.8 119.2,505.8 119.6,505.7 120.0,505.6 120.4,505.7 120.8,505.7 121.2,505.8 121.6,505.8 122.0,505.6 122.4,505.5 122.8,505.6 123.2,505.4 123.6,505.2 124.0,505.3 124.4,505.0 124.8,505.2 125.2,505.2 125.6,505.1 126.0,504.9 126.4,505.1 126.8,505.2 127.2,505.3 127.6,505.5 128.0,505.5 128.4,505.5 128.8,505.8 129.2,505.8 129.6,505.7 130.0,505.7 130.4,505.6 130.8,505.7 131.2,505.6 131.6,505.6 132.0,505.7 132.4,505.6 132.8,505.7" fill="none" stroke="#4cb27a" stroke-width="0.9" stroke-linejoin="round"/><polyline points="8.8,521.7 9.2,521.7 9.6,521.5 10.0,521.7 10.4,521.5 10.8,521.6 11.2,521.5 11.6,521.7 12.0,521.6 12.4,521.6 12.8,521.7 13.2,521.5 13.6,521.5 14.0,521.7 14.4,521.5 14.8,521.7 15.2,521.7 15.6,521.6 16.0,521.7 16.4,521.6 16.8,521.6 17.2,521.7 17.6,521.6 18.0,521.6 18.4,521.7 18.8,521.7 19.2,521.5 19.6,521.6 20.0,521.7 20.4,521.6 20.8,521.7 21.2,521.6 21.6,521.6 22.0,521.7 22.4,521.6 22.8,521.7 23.2,521.6 23.6,521.6 24.0,521.6 24.4,521.7 24.8,521.6 25.2,521.4 25.6,521.4 26.0,521.6 26.4,521.3 26.8,521.2 27.2,520.7 27.6,520.3 28.0,520.0 28.4,519.2 28.8,518.7 29.2,518.6 29.6,518.2 30.0,518.4 30.4,518.6 30.8,519.2 31.2,519.7 31.6,520.1 32.0,520.6 32.4,520.8 32.8,521.2 33.2,521.4 33.6,521.4 34.0,521.7 34.4,521.7 34.8,521.5 35.2,521.5 35.6,521.7 36.0,521.7 36.4,521.5 36.8,521.5 37.2,521.5 37.6,521.7 38.0,521.6 38.4,521.5 38.8,521.6 39.2,521.7 39.6,521.6 40.0,521.5 40.4,521.5 40.8,521.6 41.2,521.5 41.6,521.5 42.0,521.6 42.4,521.6 42.8,521.7 43.2,521.6 43.6,521.6 44.0,521.7 44.4,521.7 44.8,521.6 45.2,521.5 45.6,521.5 46.0,521.5 46.4,521.7 46.8,521.6 47.2,521.6 47.6,521.6 48.0,521.7 48.4,521.6 48.8,521.7 49.2,521.6 49.6,521.7 50.0,521.5 50.4,521.6 50.8,521.6 51.2,521.6 51.6,521.7 52.0,521.6 52.4,521.6 52.8,521.6 53.2,521.7 53.6,521.5 54.0,521.7 54.4,521.7 54.8,521.7 55.2,521.6 55.6,521.7 56.0,521.5 56.4,521.7 56.8,521.5 57.2,521.6 57.6,521.5 58.0,521.5 58.4,521.6 58.8,521.5 59.2,521.5 59.6,521.6 60.0,521.6 60.4,521.6 60.8,521.6 61.2,521.7 61.6,521.6 62.0,521.7 62.4,521.5 62.8,521.7 63.2,521.7 63.6,521.6 64.0,521.7 64.4,521.5 64.8,521.7 65.2,521.6 65.6,521.5 66.0,521.7 66.4,521.5 66.8,521.5 67.2,521.7 67.6,521.5 68.0,521.5 68.4,521.1 68.8,520.6 69.2,519.2 69.6,517.2 70.0,514.7 70.4,511.5 70.8,509.0 71.2,507.6 71.6,508.1 72.0,510.1 72.4,512.9 72.8,516.0 73.2,518.5 73.6,520.0 74.0,521.0 74.4,521.4 74.8,521.5 75.2,521.5 75.6,521.7 76.0,521.5 76.4,521.5 76.8,521.7 77.2,521.7 77.6,521.7 78.0,521.5 78.4,521.7 78.8,521.7 79.2,521.6 79.6,521.7 80.0,521.7 80.4,521.6 80.8,521.5 81.2,521.7 81.6,521.5 82.0,521.7 82.4,521.5 82.8,521.5 83.2,521.6 83.6,521.7 84.0,521.7 84.4,521.7 84.8,521.6 85.2,521.7 85.6,521.6 86.0,521.5 86.4,521.7 86.8,521.5 87.2,521.7 87.6,521.6 88.0,521.5 88.4,521.6 88.8,521.5 89.2,521.7 89.6,521.7 90.0,521.6 90.4,521.7 90.8,521.6 91.2,521.5 91.6,521.6 92.0,521.7 92.4,521.4 92.8,521.4 93.2,521.0 93.6,520.9 94.0,520.4 94.4,520.2 94.8,520.0 95.2,520.0 95.6,520.3 96.0,520.6 96.4,520.7 96.8,521.2 97.2,521.4 97.6,521.6 98.0,521.4 98.4,521.6 98.8,521.5 99.2,521.6 99.6,521.4 100.0,521.4 100.4,521.4 100.8,521.2 101.2,521.0 101.6,520.7 102.0,520.4 102.4,520.3 102.8,519.9 103.2,519.7 103.6,519.4 104.0,519.7 104.4,519.7 104.8,519.9 105.2,520.5 105.6,520.5 106.0,520.9 106.4,521.2 106.8,521.3 107.2,521.5 107.6,521.4 108.0,521.5 108.4,521.7 108.8,521.6 109.2,521.7 109.6,521.7 110.0,521.5 110.4,521.6 110.8,521.5 111.2,521.5 111.6,521.5 112.0,521.7 112.4,521.7 112.8,521.6 113.2,521.5 113.6,521.5 114.0,521.5 114.4,521.6 114.8,521.7 115.2,521.5 115.6,521.7 116.0,521.5 116.4,521.7 116.8,521.6 117.2,521.6 117.6,521.6 118.0,521.7 118.4,521.7 118.8,521.6 119.2,521.6 119.6,521.6 120.0,521.6 120.4,521.5 120.8,521.5 121.2,521.7 121.6,521.4 122.0,521.4 122.4,521.4 122.8,521.2 123.2,521.0 123.6,520.9 124.0,520.9 124.4,520.6 124.8,520.9 125.2,521.1 125.6,521.1 126.0,521.3 126.4,521.3 126.8,521.4 127.2,521.7 127.6,521.6 128.0,521.5 128.4,521.5 128.8,521.6 129.2,521.6 129.6,521.6 130.0,521.6 130.4,521.6 130.8,521.7 131.2,521.7 131.6,521.6 132.0,521.7 132.4,521.6 132.8,521.6" fill="none" stroke="#2f72e0" stroke-width="0.9" stroke-linejoin="round"/><polyline points="8.8,539.3 9.2,539.1 9.6,539.2 10.0,539.2 10.4,539.2 10.8,539.2 11.2,539.3 11.6,539.2 12.0,539.3 12.4,539.3 12.8,539.2 13.2,539.1 13.6,539.2 14.0,539.3 14.4,539.3 14.8,539.3 15.2,539.2 15.6,539.2 16.0,539.3 16.4,539.2 16.8,539.3 17.2,539.1 17.6,539.2 18.0,539.3 18.4,539.2 18.8,539.2 19.2,539.2 19.6,539.3 20.0,539.3 20.4,539.1 20.8,539.3 21.2,539.3 21.6,539.3 22.0,539.1 22.4,539.2 22.8,539.3 23.2,539.3 23.6,539.2 24.0,539.2 24.4,539.2 24.8,539.2 25.2,539.0 25.6,538.3 26.0,537.8 26.4,536.4 26.8,535.0 27.2,533.0 27.6,531.3 28.0,530.1 28.4,529.8 28.8,530.5 29.2,532.1 29.6,533.8 30.0,535.7 30.4,537.0 30.8,538.2 31.2,538.5 31.6,538.7 32.0,539.0 32.4,538.6 32.8,538.6 33.2,538.2 33.6,538.0 34.0,537.6 34.4,537.5 34.8,537.2 35.2,537.3 35.6,537.4 36.0,537.7 36.4,538.1 36.8,538.3 37.2,538.5 37.6,538.9 38.0,538.9 38.4,539.2 38.8,539.0 39.2,539.3 39.6,539.2 40.0,539.2 40.4,539.1 40.8,539.3 41.2,539.2 41.6,539.1 42.0,539.1 42.4,539.3 42.8,539.0 43.2,539.1 43.6,539.0 44.0,539.0 44.4,538.9 44.8,538.9 45.2,538.7 45.6,538.6 46.0,538.6 46.4,538.4 46.8,538.2 47.2,538.1 47.6,538.1 48.0,538.3 48.4,538.3 48.8,538.4 49.2,538.5 49.6,538.5 50.0,538.8 50.4,538.7 50.8,538.8 51.2,539.1 51.6,538.9 52.0,539.1 52.4,539.1 52.8,539.1 53.2,539.0 53.6,539.3 54.0,539.2 54.4,539.3 54.8,539.1 55.2,539.1 55.6,539.1 56.0,539.2 56.4,539.3 56.8,539.1 57.2,539.3 57.6,539.2 58.0,539.2 58.4,539.2 58.8,539.1 59.2,539.2 59.6,539.2 60.0,539.1 60.4,539.0 60.8,538.8 61.2,538.8 61.6,538.3 62.0,537.8 62.4,537.0 62.8,536.2 63.2,535.4 63.6,534.8 64.0,534.7 64.4,534.7 64.8,535.4 65.2,536.1 65.6,537.1 66.0,537.7 66.4,538.5 66.8,538.6 67.2,538.9 67.6,539.2 68.0,539.2 68.4,539.1 68.8,539.2 69.2,539.3 69.6,539.1 70.0,539.3 70.4,539.2 70.8,539.1 71.2,539.1 71.6,539.3 72.0,539.2 72.4,539.3 72.8,539.1 73.2,539.2 73.6,539.3 74.0,539.1 74.4,539.3 74.8,539.1 75.2,539.3 75.6,539.2 76.0,539.1 76.4,539.2 76.8,539.1 77.2,539.3 77.6,539.2 78.0,539.1 78.4,539.3 78.8,539.1 79.2,539.3 79.6,539.3 80.0,539.2 80.4,539.1 80.8,539.1 81.2,539.3 81.6,539.3 82.0,539.1 82.4,539.0 82.8,538.8 83.2,538.0 83.6,536.8 84.0,534.7 84.4,531.8 84.8,528.4 85.2,525.7 85.6,524.3 86.0,524.9 86.4,527.0 86.8,530.0 87.2,533.3 87.6,535.8 88.0,537.4 88.4,538.5 88.8,538.9 89.2,539.1 89.6,539.1 90.0,539.1 90.4,539.3 90.8,539.2 91.2,539.2 91.6,539.2 92.0,539.3 92.4,539.1 92.8,539.1 93.2,538.8 93.6,538.7 94.0,538.2 94.4,537.6 94.8,536.7 95.2,535.7 95.6,534.9 96.0,534.3 96.4,534.3 96.8,534.7 97.2,535.3 97.6,536.2 98.0,537.0 98.4,537.7 98.8,538.5 99.2,538.7 99.6,538.9 100.0,539.1 100.4,539.3 100.8,539.3 101.2,539.1 101.6,539.1 102.0,539.2 102.4,539.3 102.8,539.2 103.2,539.3 103.6,539.1 104.0,539.3 104.4,539.3 104.8,539.1 105.2,539.1 105.6,539.3 106.0,539.2 106.4,539.1 106.8,539.2 107.2,539.1 107.6,539.2 108.0,539.2 108.4,539.2 108.8,539.2 109.2,539.1 109.6,539.2 110.0,539.3 110.4,539.2 110.8,539.2 111.2,539.3 111.6,539.1 112.0,539.1 112.4,539.1 112.8,539.3 113.2,539.1 113.6,539.1 114.0,539.2 114.4,539.2 114.8,539.2 115.2,539.2 115.6,539.2 116.0,539.2 116.4,539.3 116.8,539.2 117.2,539.3 117.6,539.3 118.0,539.1 118.4,539.3 118.8,539.3 119.2,539.1 119.6,539.1 120.0,539.3 120.4,539.1 120.8,539.2 121.2,539.2 121.6,539.2 122.0,539.1 122.4,539.2 122.8,539.2 123.2,539.2 123.6,539.2 124.0,539.3 124.4,539.1 124.8,539.2 125.2,539.1 125.6,539.1 126.0,539.3 126.4,539.2 126.8,539.1 127.2,539.1 127.6,539.2 128.0,539.3 128.4,539.3 128.8,539.2 129.2,539.1 129.6,539.2 130.0,539.1 130.4,539.2 130.8,539.1 131.2,539.2 131.6,539.1 132.0,539.3 132.4,539.2 132.8,539.3" fill="none" stroke="#ef5555" stroke-width="0.9" stroke-linejoin="round"/><polyline points="8.8,552.4 9.2,552.3 9.6,552.3 10.0,552.3 10.4,552.2 10.8,552.4 11.2,552.4 11.6,552.3 12.0,552.4 12.4,552.2 12.8,552.4 13.2,552.4 13.6,552.3 14.0,552.4 14.4,552.3 14.8,552.4 15.2,552.4 15.6,552.3 16.0,552.2 16.4,552.3 16.8,552.2 17.2,552.4 17.6,552.2 18.0,552.4 18.4,552.4 18.8,552.2 19.2,552.2 19.6,552.3 20.0,552.2 20.4,552.4 20.8,552.4 21.2,552.4 21.6,552.4 22.0,552.4 22.4,552.4 22.8,552.3 23.2,552.3 23.6,552.2 24.0,552.2 24.4,552.4 24.8,552.4 25.2,552.4 25.6,552.3 26.0,552.4 26.4,552.3 26.8,552.2 27.2,552.2 27.6,552.3 28.0,552.4 28.4,552.3 28.8,552.2 29.2,552.3 29.6,552.4 30.0,552.3 30.4,552.3 30.8,552.3 31.2,552.4 31.6,552.2 32.0,552.2 32.4,552.3 32.8,552.3 33.2,552.2 33.6,552.4 34.0,552.3 34.4,552.2 34.8,552.3 35.2,552.3 35.6,552.4 36.0,552.2 36.4,552.2 36.8,552.2 37.2,552.2 37.6,552.2 38.0,552.4 38.4,552.3 38.8,552.2 39.2,552.3 39.6,552.3 40.0,552.4 40.4,552.2 40.8,552.3 41.2,552.3 41.6,552.3 42.0,552.4 42.4,552.3 42.8,552.3 43.2,552.4 43.6,552.4 44.0,552.3 44.4,552.3 44.8,552.4 45.2,552.4 45.6,552.4 46.0,552.3 46.4,552.4 46.8,552.4 47.2,552.3 47.6,552.1 48.0,552.4 48.4,552.2 48.8,551.9 49.2,551.1 49.6,550.0 50.0,548.3 50.4,545.7 50.8,543.2 51.2,541.2 51.6,540.5 52.0,541.3 52.4,543.0 52.8,545.7 53.2,548.1 53.6,550.1 54.0,551.1 54.4,551.8 54.8,552.1 55.2,552.3 55.6,552.4 56.0,552.4 56.4,552.2 56.8,552.2 57.2,552.4 57.6,552.3 58.0,552.2 58.4,552.3 58.8,552.2 59.2,552.3 59.6,552.3 60.0,552.3 60.4,552.2 60.8,552.2 61.2,552.3 61.6,552.2 62.0,552.3 62.4,552.2 62.8,552.2 63.2,552.3 63.6,552.3 64.0,552.2 64.4,552.4 64.8,552.2 65.2,552.4 65.6,552.3 66.0,552.4 66.4,552.2 66.8,552.2 67.2,552.4 67.6,552.2 68.0,552.2 68.4,552.3 68.8,552.4 69.2,552.3 69.6,552.2 70.0,552.4 70.4,552.3 70.8,552.2 71.2,552.2 71.6,552.4 72.0,552.3 72.4,552.3 72.8,552.3 73.2,552.3 73.6,552.4 74.0,552.3 74.4,552.2 74.8,552.3 75.2,552.2 75.6,552.4 76.0,552.2 76.4,552.3 76.8,552.3 77.2,552.2 77.6,552.3 78.0,552.2 78.4,552.2 78.8,552.4 79.2,552.3 79.6,552.2 80.0,552.2 80.4,552.2 80.8,552.2 81.2,552.2 81.6,552.2 82.0,552.4 82.4,552.2 82.8,552.2 83.2,552.2 83.6,552.4 84.0,552.4 84.4,552.2 84.8,552.4 85.2,552.4 85.6,552.3 86.0,552.2 86.4,552.4 86.8,552.2 87.2,552.2 87.6,552.3 88.0,552.2 88.4,552.2 88.8,552.2 89.2,552.2 89.6,552.2 90.0,552.4 90.4,552.3 90.8,552.4 91.2,552.4 91.6,552.2 92.0,552.2 92.4,552.3 92.8,552.3 93.2,552.2 93.6,552.2 94.0,552.4 94.4,552.3 94.8,552.3 95.2,552.2 95.6,552.4 96.0,552.3 96.4,552.4 96.8,552.4 97.2,552.4 97.6,552.2 98.0,552.1 98.4,552.1 98.8,552.2 99.2,552.1 99.6,552.2 100.0,552.0 100.4,551.7 100.8,551.6 101.2,551.4 101.6,551.2 102.0,550.6 102.4,550.3 102.8,550.2 103.2,550.3 103.6,550.4 104.0,550.5 104.4,550.9 104.8,551.2 105.2,551.4 105.6,551.9 106.0,552.1 106.4,552.1 106.8,552.2 107.2,552.4 107.6,552.4 108.0,552.2 108.4,552.2 108.8,552.2 109.2,552.4 109.6,552.3 110.0,552.2 110.4,552.3 110.8,552.3 111.2,552.3 111.6,552.3 112.0,552.3 112.4,552.3 112.8,552.3 113.2,552.2 113.6,552.3 114.0,552.4 114.4,552.2 114.8,552.2 115.2,552.2 115.6,552.2 116.0,552.2 116.4,552.3 116.8,552.2 117.2,552.2 117.6,552.2 118.0,552.4 118.4,552.3 118.8,552.3 119.2,552.3 119.6,552.2 120.0,552.3 120.4,552.2 120.8,552.1 121.2,552.0 121.6,551.9 122.0,551.7 122.4,550.9 122.8,550.2 123.2,549.6 123.6,548.7 124.0,548.0 124.4,547.7 124.8,547.8 125.2,548.1 125.6,549.2 126.0,550.0 126.4,550.8 126.8,551.4 127.2,551.9 127.6,551.9 128.0,552.3 128.4,552.2 128.8,552.4 129.2,552.3 129.6,552.4 130.0,552.2 130.4,552.4 130.8,552.2 131.2,552.2 131.6,552.2 132.0,552.2 132.4,552.2 132.8,552.2" fill="none" stroke="#555555" stroke-width="0.9" stroke-linejoin="round"/><rect x="8.5" y="443.5" width="125.0" height="113.0" fill="none" stroke="#222" stroke-width="1"/><line x1="8.7" y1="556.5" x2="8.7" y2="558.5" stroke="#222" stroke-width="0.8"/><text x="8.7" y="565.5" text-anchor="middle" style="font-family:'Liberation Sans',Arial,sans-serif;font-weight:bold;font-size:6.1px" stroke="#000" stroke-width="0.2">0.0</text><line x1="26.8" y1="556.5" x2="26.8" y2="558.5" stroke="#222" stroke-width="0.8"/><text x="26.8" y="565.5" text-anchor="middle" style="font-family:'Liberation Sans',Arial,sans-serif;font-weight:bold;font-size:6.1px" stroke="#000" stroke-width="0.2">0.5</text><line x1="44.9" y1="556.5" x2="44.9" y2="558.5" stroke="#222" stroke-width="0.8"/><text x="44.9" y="565.5" text-anchor="middle" style="font-family:'Liberation Sans',Arial,sans-serif;font-weight:bold;font-size:6.1px" stroke="#000" stroke-width="0.2">1.0</text><line x1="63.0" y1="556.5" x2="63.0" y2="558.5" stroke="#222" stroke-width="0.8"/><text x="63.0" y="565.5" text-anchor="middle" style="font-family:'Liberation Sans',Arial,sans-serif;font-weight:bold;font-size:6.1px" stroke="#000" stroke-width="0.2">1.5</text><line x1="81.1" y1="556.5" x2="81.1" y2="558.5" stroke="#222" stroke-width="0.8"/><text x="81.1" y="565.5" text-anchor="middle" style="font-family:'Liberation Sans',Arial,sans-serif;font-weight:bold;font-size:6.1px" stroke="#000" stroke-width="0.2">2.0</text><line x1="99.2" y1="556.5" x2="99.2" y2="558.5" stroke="#222" stroke-width="0.8"/><text x="99.2" y="565.5" text-anchor="middle" style="font-family:'Liberation Sans',Arial,sans-serif;font-weight:bold;font-size:6.1px" stroke="#000" stroke-width="0.2">2.5</text><line x1="117.3" y1="556.5" x2="117.3" y2="558.5" stroke="#222" stroke-width="0.8"/><text x="117.3" y="565.5" text-anchor="middle" style="font-family:'Liberation Sans',Arial,sans-serif;font-weight:bold;font-size:6.1px" stroke="#000" stroke-width="0.2">3.0</text><text x="71" y="572.2" text-anchor="middle" style="font-family:'Liberation Sans',Arial,sans-serif;font-weight:bold;font-size:6.1px" stroke="#000" stroke-width="0.2">Position (nm)</text><text transform="translate(6.3,506) rotate(-90)" text-anchor="middle" style="font-family:'Liberation Sans',Arial,sans-serif;font-weight:bold;font-size:6.7px" stroke="#000" stroke-width="0.2">Counts (arb. units)</text><line x1="109.7" y1="450.3" x2="121.6" y2="450.3" stroke="#dba535" stroke-width="0.9"/><text x="122.8" y="452.9" style="font-family:'Liberation Sans',Arial,sans-serif;font-weight:bold;font-size:7.4px" fill="#222" stroke="#222" stroke-width="0.2">Pt</text><line x1="109.7" y1="482.1" x2="121.6" y2="482.1" stroke="#bf7fe6" stroke-width="0.9"/><text x="122.3" y="484.7" style="font-family:'Liberation Sans',Arial,sans-serif;font-weight:bold;font-size:7.4px" fill="#222" stroke="#222" stroke-width="0.2">Zn</text><line x1="108.6" y1="499.4" x2="120" y2="499.4" stroke="#4cb27a" stroke-width="0.9"/><text x="121.8" y="502.0" style="font-family:'Liberation Sans',Arial,sans-serif;font-weight:bold;font-size:7.4px" fill="#222" stroke="#222" stroke-width="0.2">Ni</text><line x1="108.6" y1="513.5" x2="120" y2="513.5" stroke="#2f72e0" stroke-width="0.9"/><text x="121.8" y="516.1" style="font-family:'Liberation Sans',Arial,sans-serif;font-weight:bold;font-size:7.4px" fill="#222" stroke="#222" stroke-width="0.2">Co</text><line x1="108.6" y1="530.4" x2="120" y2="530.4" stroke="#ef5555" stroke-width="0.9"/><text x="121.8" y="533.0" style="font-family:'Liberation Sans',Arial,sans-serif;font-weight:bold;font-size:7.4px" fill="#222" stroke="#222" stroke-width="0.2">Fe</text><line x1="102.8" y1="544.6" x2="114.6" y2="544.6" stroke="#555555" stroke-width="0.9"/><text x="115.8" y="547.2" style="font-family:'Liberation Sans',Arial,sans-serif;font-weight:bold;font-size:7.4px" fill="#222" stroke="#222" stroke-width="0.2">Cr</text><text x="-0.5" y="453.5" style="font-family:'Liberation Sans',Arial,sans-serif;font-weight:bold;font-size:17px">k</text></g><g clip-path="url(#cl)"><rect x="135" y="442.2" width="131.4" height="65.4" fill="#525252"/><rect x="135" y="442.2" width="131.4" height="65.4" filter="url(#noiseO)" style="mix-blend-mode:overlay" opacity="0.6"/><g filter="url(#blur13)"><path d="M138.4 444.5h0M148.3 444.6h0M157.7 444.6h0M194.3 444.0h0M212.8 444.4h0M250.8 444.4h0M259.6 444.8h0" stroke="#f8f8f8" stroke-width="4.5" stroke-linecap="round" stroke-opacity="0.17"/><path d="M166.9 444.8h0M175.5 444.0h0M185.0 444.1h0M203.6 444.3h0M222.5 444.8h0M231.8 444.2h0M241.2 444.1h0M268.7 444.0h0M166.9 460.9h0M176.3 460.6h0M185.5 460.4h0M194.5 461.0h0M203.8 461.0h0M213.6 461.0h0M222.3 461.1h0M241.2 460.3h0M250.3 461.2h0M259.7 460.4h0M268.7 460.6h0M138.9 477.4h0M147.9 476.6h0M156.9 477.2h0M166.7 477.3h0M176.4 477.1h0M185.2 477.0h0M194.8 476.6h0M203.9 477.0h0M222.1 477.1h0M231.9 476.9h0M241.3 477.4h0M250.5 477.4h0M260.1 477.1h0M269.2 477.3h0M138.4 493.8h0M148.1 493.6h0M166.3 493.1h0M175.7 493.7h0M185.1 493.8h0M194.2 493.6h0M204.3 493.1h0M212.8 493.1h0M232.3 493.1h0M240.9 492.9h0M250.3 493.4h0M259.3 492.9h0M268.6 493.2h0" stroke="#f8f8f8" stroke-width="4.5" stroke-linecap="round" stroke-opacity="0.33"/><path d="M138.4 461.0h0M147.7 460.8h0M157.7 460.8h0M231.5 461.1h0M213.5 477.1h0M157.4 492.9h0M222.1 493.4h0" stroke="#f8f8f8" stroke-width="4.5" stroke-linecap="round" stroke-opacity="0.50"/><path d="M185.2 453.1h0M203.6 453.1h0M213.3 453.3h0M231.4 453.1h0M194.7 469.0h0M250.0 468.5h0M138.5 485.6h0M157.4 485.6h0M166.6 485.5h0M203.5 484.6h0M269.0 484.9h0M167.0 501.4h0M250.6 501.2h0M268.7 501.3h0" stroke="#f8f8f8" stroke-width="5" stroke-linecap="round" stroke-opacity="0.67"/><path d="M138.4 453.4h0M167.1 452.5h0M176.0 453.3h0M194.8 453.0h0M222.4 452.5h0M241.2 452.9h0M147.9 469.0h0M157.5 468.5h0M176.3 468.2h0M204.0 468.8h0M231.3 468.8h0M241.2 468.6h0M259.5 468.8h0M268.6 468.5h0M148.5 484.7h0M175.8 485.3h0M195.1 484.7h0M213.1 485.5h0M222.8 484.6h0M231.7 485.0h0M250.1 484.6h0M138.6 501.9h0M148.3 501.3h0M157.2 501.7h0M176.0 501.5h0M185.3 501.6h0M212.9 501.1h0M222.4 501.8h0M232.0 501.8h0M259.9 501.8h0" stroke="#f8f8f8" stroke-width="5" stroke-linecap="round" stroke-opacity="0.83"/><path d="M148.4 453.0h0M157.6 453.2h0M250.6 452.9h0M259.9 452.9h0M268.7 453.3h0M138.7 468.6h0M166.3 468.4h0M185.4 469.0h0M213.4 469.1h0M222.5 468.4h0M185.2 485.3h0M240.9 485.4h0M259.8 484.8h0M194.9 501.9h0M203.7 501.2h0M240.9 501.1h0" stroke="#f8f8f8" stroke-width="5" stroke-linecap="round"/></g></g><g clip-path="url(#cm)"><rect x="135" y="511.1" width="131.9" height="64.4" fill="#4e4e4e"/><rect x="135" y="511.1" width="131.9" height="64.4" filter="url(#noiseO)" style="mix-blend-mode:overlay" opacity="0.6"/><g filter="url(#blur13)"><path d="M132.3 527.2h0M141.9 526.8h0M152.0 526.9h0M161.5 526.8h0M170.6 526.9h0M180.3 526.8h0M189.5 526.8h0M227.6 526.8h0M236.3 526.5h0M246.1 527.0h0M255.7 526.8h0M264.6 527.2h0M132.5 542.5h0M217.9 542.5h0M226.7 542.6h0M179.9 560.9h0M218.0 560.7h0M245.8 560.5h0M255.4 560.6h0M264.8 561.2h0" stroke="#f8f8f8" stroke-width="4.5" stroke-linecap="round" stroke-opacity="0.33"/><path d="M198.6 527.1h0M208.7 527.2h0M217.7 527.1h0M142.3 543.1h0M151.9 542.8h0M160.7 542.8h0M170.1 542.8h0M180.0 542.9h0M189.3 542.7h0M199.2 542.2h0M208.0 543.1h0M236.1 542.4h0M246.1 542.8h0M255.3 542.3h0M264.5 542.4h0M132.2 561.2h0M141.8 561.2h0M151.2 561.1h0M161.4 560.5h0M170.3 561.0h0M189.7 560.8h0M198.9 560.8h0M207.8 560.4h0M227.3 560.6h0M237.0 561.2h0" stroke="#f8f8f8" stroke-width="4.5" stroke-linecap="round" stroke-opacity="0.50"/><path d="M161.3 517.8h0M170.5 517.9h0M189.0 518.0h0M226.7 518.1h0M160.9 535.5h0M170.8 536.0h0M198.8 535.3h0M207.9 535.8h0M237.1 535.3h0M132.5 551.8h0M151.2 552.2h0M161.4 552.3h0M170.4 552.3h0M179.9 552.1h0M189.0 551.6h0M217.4 552.2h0M246.0 552.6h0M264.8 552.0h0M142.1 569.2h0M179.9 569.1h0" stroke="#f8f8f8" stroke-width="5" stroke-linecap="round" stroke-opacity="0.67"/><path d="M132.7 517.9h0M141.9 518.2h0M151.7 517.8h0M179.7 517.9h0M198.3 517.6h0M207.8 518.4h0M217.3 518.3h0M236.3 518.1h0M245.9 518.2h0M255.6 517.6h0M265.4 517.8h0M133.0 535.4h0M141.9 536.2h0M180.0 536.1h0M189.7 535.3h0M227.2 535.2h0M199.1 552.6h0M208.6 552.3h0M132.4 569.1h0M151.3 568.9h0M160.9 569.4h0M189.4 568.7h0M208.2 568.4h0M226.7 568.5h0M245.8 568.5h0M255.2 569.3h0M265.0 568.5h0" stroke="#f8f8f8" stroke-width="5" stroke-linecap="round" stroke-opacity="0.83"/><path d="M151.7 535.6h0M217.2 536.0h0M245.8 535.6h0M255.3 535.6h0M264.5 535.9h0M141.6 552.5h0M227.3 551.7h0M236.9 552.5h0M255.5 551.9h0M170.8 569.0h0M198.7 568.7h0M218.1 569.2h0M236.4 569.4h0" stroke="#f8f8f8" stroke-width="5" stroke-linecap="round"/></g></g><circle cx="167.9" cy="469.5" r="3.8" fill="url(#ballP)"/><circle cx="177.1" cy="469.5" r="3.8" fill="url(#ballP)"/><circle cx="186.5" cy="469.5" r="3.8" fill="url(#ballP)"/><circle cx="195.7" cy="469.5" r="3.8" fill="url(#ballP)"/><circle cx="205.5" cy="469.5" r="3.8" fill="url(#ballP)"/><circle cx="215" cy="469.5" r="3.8" fill="url(#ballP)"/><circle cx="167.9" cy="477.9" r="3.8" fill="url(#ballR)"/><circle cx="177.1" cy="477.9" r="3.8" fill="url(#ballO)"/><circle cx="186.5" cy="477.9" r="3.8" fill="url(#ballG)"/><circle cx="195.7" cy="477.9" r="3.8" fill="url(#ballP)"/><circle cx="205.5" cy="477.9" r="3.8" fill="url(#ballB)"/><circle cx="215" cy="477.9" r="3.8" fill="url(#ballY)"/><circle cx="167.9" cy="485.8" r="3.8" fill="url(#ballP)"/><circle cx="177.1" cy="485.8" r="3.8" fill="url(#ballP)"/><circle cx="186.5" cy="485.8" r="3.8" fill="url(#ballP)"/><circle cx="195.7" cy="485.8" r="3.8" fill="url(#ballP)"/><circle cx="205.5" cy="485.8" r="3.8" fill="url(#ballP)"/><circle cx="215" cy="485.8" r="3.8" fill="url(#ballP)"/><circle cx="167.9" cy="493.8" r="3.8" fill="url(#ballO)"/><circle cx="177.1" cy="493.8" r="3.8" fill="url(#ballB)"/><circle cx="186.5" cy="493.8" r="3.8" fill="url(#ballY)"/><circle cx="195.7" cy="493.8" r="3.8" fill="url(#ballO)"/><circle cx="205.5" cy="493.8" r="3.8" fill="url(#ballG)"/><circle cx="215" cy="493.8" r="3.8" fill="url(#ballR)"/><circle cx="216.7" cy="447.9" r="3.6" fill="url(#ballP)"/><circle cx="225.9" cy="447.9" r="3.6" fill="url(#ballR)"/><circle cx="235.1" cy="447.9" r="3.6" fill="url(#ballO)"/><circle cx="244.1" cy="447.9" r="3.6" fill="url(#ballY)"/><circle cx="253.3" cy="447.9" r="3.6" fill="url(#ballG)"/><circle cx="262" cy="447.9" r="3.6" fill="url(#ballB)"/><text x="213" y="457.2" style="font-family:'Liberation Sans',Arial,sans-serif;font-size:7.8px" fill="#e8e8e8">PtFeCuNiCoZn</text><text x="138.5" y="457.3" style="font-family:'Liberation Sans',Arial,sans-serif;font-weight:bold;font-size:16px" fill="#fff">l</text><text x="137" y="523.6" style="font-family:'Liberation Sans',Arial,sans-serif;font-weight:bold;font-size:15.5px" fill="#fff">m</text><text x="156.3" y="530.8" style="font-family:'Liberation Sans',Arial,sans-serif;font-size:9.2px" fill="#fff">line 1</text><text x="151.9" y="548.8" style="font-family:'Liberation Sans',Arial,sans-serif;font-size:9.2px" fill="#fff">line 2</text><line x1="179.9" y1="534.6" x2="236.6" y2="534.6" stroke="#fff" stroke-width="0.6" stroke-dasharray="1.2 1"/><circle cx="179.9" cy="534.6" r="2.4" fill="#f5f000"/><circle cx="189.1" cy="534.6" r="2.4" fill="#f5f000"/><circle cx="199" cy="534.6" r="2.4" fill="#f5f000"/><circle cx="208.4" cy="534.6" r="2.4" fill="#f5f000"/><circle cx="218" cy="534.6" r="2.4" fill="#f5f000"/><circle cx="227.7" cy="534.6" r="2.4" fill="#f5f000"/><circle cx="236.6" cy="534.6" r="2.4" fill="#f5f000"/><line x1="179.9" y1="542.7" x2="236.6" y2="542.7" stroke="#fff" stroke-width="0.6" stroke-dasharray="1.2 1"/><circle cx="179.9" cy="542.7" r="2.4" fill="#f5f000"/><circle cx="189.1" cy="542.7" r="2.4" fill="#f5f000"/><circle cx="199" cy="542.7" r="2.4" fill="#f5f000"/><circle cx="208.4" cy="542.7" r="2.4" fill="#f5f000"/><circle cx="218" cy="542.7" r="2.4" fill="#f5f000"/><circle cx="227.7" cy="542.7" r="2.4" fill="#f5f000"/><circle cx="236.6" cy="542.7" r="2.4" fill="#f5f000"/><rect x="281.4" y="441.7" width="118.2" height="59.3" fill="url(#gridn)"/><polygon points="281.4,501 281.4,462.0 282.2,457.9 283.0,453.9 283.9,450.5 284.7,448.1 285.5,447.0 286.2,448.3 286.9,451.6 287.6,454.8 288.3,457.3 289.1,461.8 289.8,468.4 290.5,473.5 291.2,480.2 291.9,486.9 292.6,494.2 293.3,488.3 294.1,484.6 294.8,479.4 295.5,474.3 296.2,469.3 297.0,466.1 297.7,461.5 298.4,457.8 299.2,455.8 299.9,451.9 300.6,449.8 301.3,449.3 302.1,446.9 302.8,446.2 303.5,446.8 304.3,447.3 305.0,450.2 305.7,451.5 306.5,453.3 307.2,456.0 308.0,459.3 308.7,463.4 309.4,467.4 310.2,470.2 310.9,473.9 311.6,478.5 312.4,483.4 313.1,488.1 313.8,482.2 314.6,476.6 315.3,471.6 316.0,466.5 316.8,461.0 317.5,456.7 318.3,453.2 319.0,450.4 319.7,447.2 320.5,446.1 321.2,445.2 321.9,445.8 322.6,447.2 323.3,449.6 324.0,451.7 324.7,454.4 325.4,457.5 326.2,460.8 326.9,464.6 327.6,468.6 328.3,473.9 329.0,477.2 329.7,482.9 330.4,488.1 331.1,483.0 331.8,478.4 332.5,473.2 333.2,470.5 333.9,465.9 334.6,463.3 335.4,458.6 336.1,456.0 336.8,454.2 337.5,451.2 338.2,449.7 338.9,447.9 339.6,447.2 340.3,448.3 341.1,451.0 341.8,452.6 342.6,457.0 343.3,460.6 344.1,465.3 344.8,468.6 345.6,475.7 346.3,480.5 347.1,486.7 347.8,493.2 348.5,488.6 349.2,483.9 349.9,480.6 350.6,476.6 351.3,472.5 352.0,469.7 352.7,467.7 353.5,463.6 354.2,461.2 354.9,459.1 355.6,455.5 356.3,453.8 357.0,452.8 357.7,451.0 358.4,449.7 359.1,449.2 359.8,450.4 360.6,451.4 361.3,454.8 362.0,457.7 362.8,460.5 363.5,466.1 364.3,471.1 365.0,474.7 365.7,480.8 366.5,486.1 367.2,492.2 367.9,486.4 368.7,481.4 369.4,478.5 370.1,474.2 370.9,469.9 371.6,466.0 372.4,462.6 373.1,459.3 373.8,456.5 374.6,453.0 375.3,450.6 376.0,449.8 376.8,447.9 377.5,447.2 378.2,448.1 379.0,449.9 379.7,453.5 380.5,457.2 381.2,461.2 382.0,466.1 382.7,472.6 383.5,478.0 384.2,485.1 385.0,491.9 385.7,499.3 386.4,495.7 387.2,491.5 387.9,488.1 388.7,484.4 389.4,481.7 390.2,478.5 390.9,476.8 391.7,475.0 392.4,471.9 393.2,469.8 393.9,468.7 394.7,465.7 395.4,464.8 396.2,464.1 396.9,463.6 397.8,465.3 398.7,467.3 399.6,470.7 399.6,501" fill="#5bbdb9"/><line x1="285.4" y1="443" x2="285.4" y2="463.6" stroke="#1d4a4a" stroke-width="1"/><line x1="303.4" y1="443" x2="303.4" y2="463.6" stroke="#1d4a4a" stroke-width="1"/><line x1="321.2" y1="443" x2="321.2" y2="463.6" stroke="#1d4a4a" stroke-width="1"/><line x1="339.6" y1="443" x2="339.6" y2="463.6" stroke="#1d4a4a" stroke-width="1"/><line x1="359.7" y1="443" x2="359.7" y2="463.6" stroke="#1d4a4a" stroke-width="1"/><line x1="377.5" y1="443" x2="377.5" y2="463.6" stroke="#1d4a4a" stroke-width="1"/><line x1="396.5" y1="443" x2="396.5" y2="463.6" stroke="#1d4a4a" stroke-width="1"/><text x="294.4" y="449.2" text-anchor="middle" style="font-family:'Liberation Sans',Arial,sans-serif;font-size:7.4px" fill="#111">-3%</text><line x1="286.9" y1="450.7" x2="301.9" y2="450.7" stroke="#111" stroke-width="0.6"/><path d="M286.0 450.7l2.4 -1.1v2.2zM302.8 450.7l-2.4 -1.1v2.2z" fill="#111"/><text x="312.3" y="449.2" text-anchor="middle" style="font-family:'Liberation Sans',Arial,sans-serif;font-size:7.4px" fill="#111">-2%</text><line x1="304.9" y1="450.7" x2="319.7" y2="450.7" stroke="#111" stroke-width="0.6"/><path d="M304.0 450.7l2.4 -1.1v2.2zM320.6 450.7l-2.4 -1.1v2.2z" fill="#111"/><text x="330.4" y="449.2" text-anchor="middle" style="font-family:'Liberation Sans',Arial,sans-serif;font-size:7.4px" fill="#111">2%</text><line x1="322.7" y1="450.7" x2="338.1" y2="450.7" stroke="#111" stroke-width="0.6"/><path d="M321.8 450.7l2.4 -1.1v2.2zM339.0 450.7l-2.4 -1.1v2.2z" fill="#111"/><text x="349.6" y="449.2" text-anchor="middle" style="font-family:'Liberation Sans',Arial,sans-serif;font-size:7.4px" fill="#111">5%</text><line x1="341.1" y1="450.7" x2="358.2" y2="450.7" stroke="#111" stroke-width="0.6"/><path d="M340.2 450.7l2.4 -1.1v2.2zM359.1 450.7l-2.4 -1.1v2.2z" fill="#111"/><text x="368.6" y="449.2" text-anchor="middle" style="font-family:'Liberation Sans',Arial,sans-serif;font-size:7.4px" fill="#111">-7%</text><line x1="361.2" y1="450.7" x2="376.0" y2="450.7" stroke="#111" stroke-width="0.6"/><path d="M360.3 450.7l2.4 -1.1v2.2zM376.9 450.7l-2.4 -1.1v2.2z" fill="#111"/><text x="387.0" y="449.2" text-anchor="middle" style="font-family:'Liberation Sans',Arial,sans-serif;font-size:7.4px" fill="#111">4%</text><line x1="379.0" y1="450.7" x2="395.0" y2="450.7" stroke="#111" stroke-width="0.6"/><path d="M378.1 450.7l2.4 -1.1v2.2zM395.9 450.7l-2.4 -1.1v2.2z" fill="#111"/><text transform="translate(278.8,467.7) rotate(-90)" text-anchor="middle" style="font-family:'Liberation Serif','Times New Roman',serif;font-weight:bold;font-size:7.4px">Intensity</text><text x="283.0" y="499.5" style="font-family:'Liberation Serif','Times New Roman',serif;font-size:7px">0</text><text x="330.0" y="499.5" text-anchor="middle" style="font-family:'Liberation Serif','Times New Roman',serif;font-size:7px">0.5</text><text x="378.4" y="499.5" text-anchor="middle" style="font-family:'Liberation Serif','Times New Roman',serif;font-size:7px">1.0</text><text x="346.3" y="508.3" text-anchor="middle" style="font-family:'Liberation Serif','Times New Roman',serif;font-weight:bold;font-size:7.6px">Distanse (nm)</text><text x="267.2" y="450.5" style="font-family:'Liberation Sans',Arial,sans-serif;font-weight:bold;font-size:17px">n</text><rect x="282.4" y="512.2" width="118.6" height="59.3" fill="url(#grido)"/><polygon points="282.4,571.5 282.4,551.0 283.1,547.6 283.9,545.5 284.6,542.4 285.3,541.4 286.0,540.0 286.8,538.3 287.5,537.7 288.2,538.4 288.9,540.4 289.6,541.3 290.3,543.9 291.0,546.4 291.8,548.5 292.5,552.4 293.2,555.8 293.9,560.3 294.6,564.1 295.3,568.4 296.0,564.5 296.7,561.2 297.4,556.8 298.2,553.3 298.9,550.3 299.6,549.4 300.3,546.6 301.0,543.2 301.8,542.8 302.5,539.5 303.2,539.3 303.9,538.7 304.6,540.0 305.4,540.8 306.1,541.3 306.8,544.8 307.6,545.6 308.3,549.2 309.1,551.1 309.8,554.8 310.5,557.1 311.3,560.7 312.0,564.3 312.7,559.8 313.4,556.2 314.1,552.9 314.8,548.5 315.5,545.8 316.2,542.5 316.9,539.7 317.6,537.8 318.4,533.7 319.1,531.9 319.8,529.2 320.5,527.2 321.2,526.4 321.9,524.9 322.6,523.9 323.3,523.4 324.1,525.2 324.8,528.3 325.6,532.0 326.4,537.6 327.1,544.2 327.9,551.3 328.6,558.0 329.4,566.3 330.1,563.0 330.9,561.4 331.6,558.0 332.3,555.8 333.1,551.5 333.8,550.2 334.5,548.0 335.2,544.8 336.0,544.8 336.7,541.5 337.4,539.7 338.2,538.1 338.9,538.2 339.6,536.1 340.4,536.1 341.1,535.7 341.8,536.5 342.5,537.9 343.2,540.1 344.0,541.3 344.7,543.6 345.4,547.2 346.1,549.8 346.8,553.1 347.6,555.0 348.4,556.4 349.3,559.8 350.1,563.8 350.9,568.4 351.6,560.0 352.3,552.2 353.0,546.2 353.7,538.9 354.4,534.3 355.2,529.6 355.9,524.6 356.6,520.8 357.3,518.6 358.0,517.3 358.7,517.7 359.4,519.8 360.1,522.3 360.9,526.2 361.6,528.5 362.3,533.2 363.0,536.7 363.7,541.4 364.5,546.4 365.2,552.2 365.9,557.3 366.6,563.3 367.3,556.8 368.0,551.0 368.7,544.1 369.4,538.8 370.1,533.1 370.9,529.2 371.6,524.4 372.3,521.4 373.0,518.1 373.7,516.2 374.4,515.2 375.1,516.3 375.8,519.7 376.6,522.0 377.3,526.4 378.0,531.4 378.7,538.7 379.4,544.1 380.2,550.2 380.9,558.4 381.6,566.3 382.3,561.9 383.1,558.9 383.8,555.2 384.6,552.0 385.3,550.1 386.0,545.5 386.8,544.4 387.5,542.2 388.2,539.1 389.0,537.8 389.7,536.5 390.5,535.2 391.2,534.7 391.9,534.8 392.7,536.8 393.4,539.0 394.2,541.9 394.9,544.6 395.7,547.1 396.4,550.9 397.2,554.2 397.9,558.2 398.7,556.9 399.4,556.0 400.2,556.2 401,556 401,571.5" fill="#5bbdb9"/><line x1="287.5" y1="516.2" x2="287.5" y2="542.8" stroke="#1d4a4a" stroke-width="1"/><line x1="303.4" y1="516.2" x2="303.4" y2="542.8" stroke="#1d4a4a" stroke-width="1"/><line x1="321.2" y1="516.2" x2="321.2" y2="542.8" stroke="#1d4a4a" stroke-width="1"/><line x1="340.7" y1="516.2" x2="340.7" y2="542.8" stroke="#1d4a4a" stroke-width="1"/><line x1="357.6" y1="516.2" x2="357.6" y2="542.8" stroke="#1d4a4a" stroke-width="1"/><line x1="374.8" y1="516.2" x2="374.8" y2="542.8" stroke="#1d4a4a" stroke-width="1"/><line x1="391.2" y1="516.2" x2="391.2" y2="542.8" stroke="#1d4a4a" stroke-width="1"/><text x="295.4" y="525" text-anchor="middle" style="font-family:'Liberation Sans',Arial,sans-serif;font-size:7.4px" fill="#111">-8%</text><line x1="289.0" y1="526.5" x2="301.9" y2="526.5" stroke="#111" stroke-width="0.6"/><path d="M288.1 526.5l2.4 -1.1v2.2zM302.8 526.5l-2.4 -1.1v2.2z" fill="#111"/><text x="312.3" y="525" text-anchor="middle" style="font-family:'Liberation Sans',Arial,sans-serif;font-size:7.4px" fill="#111">7%</text><line x1="304.9" y1="526.5" x2="319.7" y2="526.5" stroke="#111" stroke-width="0.6"/><path d="M304.0 526.5l2.4 -1.1v2.2zM320.6 526.5l-2.4 -1.1v2.2z" fill="#111"/><text x="330.9" y="525" text-anchor="middle" style="font-family:'Liberation Sans',Arial,sans-serif;font-size:7.4px" fill="#111">7%</text><line x1="322.7" y1="526.5" x2="339.2" y2="526.5" stroke="#111" stroke-width="0.6"/><path d="M321.8 526.5l2.4 -1.1v2.2zM340.1 526.5l-2.4 -1.1v2.2z" fill="#111"/><text x="349.1" y="525" text-anchor="middle" style="font-family:'Liberation Sans',Arial,sans-serif;font-size:7.4px" fill="#111">-3%</text><line x1="342.2" y1="526.5" x2="356.1" y2="526.5" stroke="#111" stroke-width="0.6"/><path d="M341.3 526.5l2.4 -1.1v2.2zM357.0 526.5l-2.4 -1.1v2.2z" fill="#111"/><text x="366.2" y="525" text-anchor="middle" style="font-family:'Liberation Sans',Arial,sans-serif;font-size:7.4px" fill="#111">-3%</text><line x1="359.1" y1="526.5" x2="373.3" y2="526.5" stroke="#111" stroke-width="0.6"/><path d="M358.2 526.5l2.4 -1.1v2.2zM374.2 526.5l-2.4 -1.1v2.2z" fill="#111"/><text x="383.0" y="525" text-anchor="middle" style="font-family:'Liberation Sans',Arial,sans-serif;font-size:7.4px" fill="#111">4%</text><line x1="376.3" y1="526.5" x2="389.7" y2="526.5" stroke="#111" stroke-width="0.6"/><path d="M375.4 526.5l2.4 -1.1v2.2zM390.6 526.5l-2.4 -1.1v2.2z" fill="#111"/><text transform="translate(279.8,538.2) rotate(-90)" text-anchor="middle" style="font-family:'Liberation Serif','Times New Roman',serif;font-weight:bold;font-size:7.4px">Intensity</text><text x="284.0" y="570.0" style="font-family:'Liberation Serif','Times New Roman',serif;font-size:7px">0</text><text x="331.0" y="570.0" text-anchor="middle" style="font-family:'Liberation Serif','Times New Roman',serif;font-size:7px">0.5</text><text x="379.4" y="570.0" text-anchor="middle" style="font-family:'Liberation Serif','Times New Roman',serif;font-size:7px">1.0</text><text x="347.5" y="578.8" text-anchor="middle" style="font-family:'Liberation Serif','Times New Roman',serif;font-weight:bold;font-size:7.6px">Distanse (nm)</text><text x="266.4" y="521.4" style="font-family:'Liberation Sans',Arial,sans-serif;font-weight:bold;font-size:17px">o</text><g clip-path="url(#cp)"><g filter="url(#cmap)"><g filter="url(#sb3)"><rect x="394.8" y="433" width="150.2" height="150.2" fill="rgb(153,153,153)"/><ellipse cx="468" cy="464.5" rx="40" ry="3.5" fill="rgb(209,209,209)"/><ellipse cx="472.4" cy="464.4" rx="12.6" ry="2.7" fill="rgb(196,196,196)"/><ellipse cx="489.9" cy="464.9" rx="11.2" ry="3.3" fill="rgb(222,222,222)"/><ellipse cx="480.0" cy="464.9" rx="16.3" ry="2.6" fill="rgb(201,201,201)"/><ellipse cx="472" cy="474" rx="75" ry="2.5" fill="rgb(71,71,71)"/><ellipse cx="446.0" cy="473.5" rx="15.4" ry="2.7" fill="rgb(74,74,74)"/><ellipse cx="469.9" cy="473.7" rx="11.3" ry="2.5" fill="rgb(80,80,80)"/><ellipse cx="492.1" cy="474.0" rx="9.9" ry="1.8" fill="rgb(54,54,54)"/><ellipse cx="462" cy="479.3" rx="70" ry="2.6" fill="rgb(194,194,194)"/><ellipse cx="503.1" cy="479.1" rx="17.8" ry="2.0" fill="rgb(185,185,185)"/><ellipse cx="450.2" cy="479.1" rx="11.1" ry="1.8" fill="rgb(203,203,203)"/><ellipse cx="500.5" cy="479.2" rx="10.2" ry="2.3" fill="rgb(210,210,210)"/><ellipse cx="470" cy="484.6" rx="75" ry="2" fill="rgb(87,87,87)"/><ellipse cx="511.8" cy="485.2" rx="12.0" ry="1.6" fill="rgb(92,92,92)"/><ellipse cx="480.5" cy="484.8" rx="17.0" ry="1.7" fill="rgb(85,85,85)"/><ellipse cx="487.8" cy="484.6" rx="15.8" ry="1.7" fill="rgb(85,85,85)"/><ellipse cx="470" cy="489.6" rx="75" ry="2.7" fill="rgb(209,209,209)"/><ellipse cx="466.9" cy="490.1" rx="13.1" ry="2.1" fill="rgb(214,214,214)"/><ellipse cx="450.6" cy="490.3" rx="10.6" ry="2.4" fill="rgb(209,209,209)"/><ellipse cx="464.3" cy="489.9" rx="14.1" ry="2.1" fill="rgb(196,196,196)"/><ellipse cx="470" cy="494.5" rx="75" ry="1.8" fill="rgb(140,140,140)"/><ellipse cx="491.4" cy="495.2" rx="10.6" ry="1.6" fill="rgb(156,156,156)"/><ellipse cx="432.1" cy="494.6" rx="10.8" ry="1.4" fill="rgb(145,145,145)"/><ellipse cx="502.8" cy="494.4" rx="16.3" ry="1.8" fill="rgb(156,156,156)"/><ellipse cx="462" cy="499" rx="75" ry="2.3" fill="rgb(71,71,71)"/><ellipse cx="412.2" cy="498.7" rx="15.4" ry="2.4" fill="rgb(61,61,61)"/><ellipse cx="422.3" cy="498.9" rx="14.9" ry="2.1" fill="rgb(83,83,83)"/><ellipse cx="499.3" cy="498.7" rx="17.6" ry="1.9" fill="rgb(82,82,82)"/><ellipse cx="470" cy="505" rx="75" ry="2" fill="rgb(173,173,173)"/><ellipse cx="440.6" cy="505.2" rx="11.8" ry="2.0" fill="rgb(176,176,176)"/><ellipse cx="496.6" cy="504.4" rx="11.6" ry="1.7" fill="rgb(184,184,184)"/><ellipse cx="454.1" cy="505.1" rx="16.9" ry="1.9" fill="rgb(173,173,173)"/><ellipse cx="470" cy="510.2" rx="75" ry="2.7" fill="rgb(69,69,69)"/><ellipse cx="497.7" cy="510.2" rx="17.7" ry="2.4" fill="rgb(85,85,85)"/><ellipse cx="472.2" cy="510.2" rx="13.7" ry="1.9" fill="rgb(51,51,51)"/><ellipse cx="429.0" cy="510.8" rx="14.1" ry="2.6" fill="rgb(69,69,69)"/><ellipse cx="440" cy="516.5" rx="40" ry="2" fill="rgb(148,148,148)"/><ellipse cx="450.7" cy="516.7" rx="11.5" ry="1.9" fill="rgb(131,131,131)"/><ellipse cx="436.7" cy="516.5" rx="11.2" ry="1.5" fill="rgb(148,148,148)"/><ellipse cx="414.6" cy="516.7" rx="16.3" ry="1.8" fill="rgb(153,153,153)"/><ellipse cx="445" cy="522" rx="40" ry="2.4" fill="rgb(76,76,76)"/><ellipse cx="422.5" cy="521.6" rx="12.7" ry="2.1" fill="rgb(62,62,62)"/><ellipse cx="454.5" cy="521.3" rx="9.1" ry="1.9" fill="rgb(86,86,86)"/><ellipse cx="422.5" cy="522.0" rx="17.6" ry="2.4" fill="rgb(73,73,73)"/><ellipse cx="482" cy="523.8" rx="16" ry="2.4" fill="rgb(194,194,194)"/><ellipse cx="484.0" cy="523.5" rx="15.7" ry="2.2" fill="rgb(186,186,186)"/><ellipse cx="490.4" cy="524.5" rx="16.5" ry="2.0" fill="rgb(206,206,206)"/><ellipse cx="481.1" cy="524.4" rx="15.8" ry="2.0" fill="rgb(198,198,198)"/><ellipse cx="475" cy="529.5" rx="50" ry="2.5" fill="rgb(76,76,76)"/><ellipse cx="492.9" cy="529.1" rx="12.1" ry="2.7" fill="rgb(93,93,93)"/><ellipse cx="502.3" cy="529.1" rx="16.5" ry="2.7" fill="rgb(67,67,67)"/><ellipse cx="445.5" cy="529.4" rx="15.4" ry="2.4" fill="rgb(82,82,82)"/><ellipse cx="470" cy="536.5" rx="70" ry="3" fill="rgb(173,173,173)"/><ellipse cx="509.9" cy="537.2" rx="10.4" ry="2.2" fill="rgb(176,176,176)"/><ellipse cx="464.5" cy="535.7" rx="18.0" ry="2.2" fill="rgb(174,174,174)"/><ellipse cx="507.5" cy="535.8" rx="16.2" ry="2.3" fill="rgb(187,187,187)"/><ellipse cx="485" cy="545.5" rx="55" ry="3.8" fill="rgb(219,219,219)"/><ellipse cx="518.5" cy="545.3" rx="9.7" ry="2.9" fill="rgb(203,203,203)"/><ellipse cx="491.4" cy="545.1" rx="11.3" ry="3.5" fill="rgb(230,230,230)"/><ellipse cx="506.9" cy="545.0" rx="8.9" ry="3.2" fill="rgb(234,234,234)"/><ellipse cx="446" cy="550" rx="16" ry="3" fill="rgb(230,230,230)"/><ellipse cx="455.5" cy="550.7" rx="11.6" ry="2.9" fill="rgb(232,232,232)"/><ellipse cx="440.8" cy="550.2" rx="11.0" ry="2.3" fill="rgb(228,228,228)"/><ellipse cx="448.3" cy="549.3" rx="15.6" ry="3.0" fill="rgb(234,234,234)"/><ellipse cx="481.4" cy="516.6" rx="6.5" ry="1.7" fill="rgb(0,0,0)"/><ellipse cx="442" cy="458" rx="8" ry="2.5" fill="rgb(235,235,235)"/></g><g filter="url(#sb2)"><ellipse cx="419" cy="449.5" rx="17" ry="10.5" fill="rgb(255,255,255)"/><ellipse cx="450" cy="445" rx="16" ry="3" fill="rgb(235,235,235)"/><ellipse cx="503" cy="450" rx="12" ry="7" fill="rgb(255,255,255)"/><ellipse cx="532" cy="447" rx="6" ry="5" fill="rgb(242,242,242)"/><ellipse cx="527.5" cy="471" rx="6.5" ry="7.5" fill="rgb(255,255,255)"/><ellipse cx="533.5" cy="500" rx="3.5" ry="4" fill="rgb(242,242,242)"/><ellipse cx="528" cy="538" rx="8" ry="10" fill="rgb(237,237,237)"/><ellipse cx="418" cy="535.8" rx="15" ry="6.5" fill="rgb(255,255,255)"/><ellipse cx="413" cy="549" rx="11" ry="7" fill="rgb(255,255,255)"/><ellipse cx="422" cy="556" rx="3.5" ry="9" fill="rgb(255,255,255)"/><ellipse cx="448" cy="565" rx="13" ry="9" fill="rgb(255,255,255)"/><ellipse cx="448" cy="551" rx="15" ry="4" fill="rgb(230,230,230)"/><ellipse cx="488" cy="567" rx="7" ry="7" fill="rgb(255,255,255)"/><ellipse cx="531" cy="565" rx="5" ry="9" fill="rgb(255,255,255)"/><ellipse cx="407" cy="470" rx="3" ry="2" fill="rgb(242,242,242)"/><ellipse cx="408" cy="490" rx="6" ry="3" fill="rgb(219,219,219)"/><ellipse cx="406" cy="501" rx="3" ry="2.5" fill="rgb(242,242,242)"/><ellipse cx="412" cy="566" rx="9" ry="8" fill="rgb(191,191,191)"/></g><g filter="url(#sb1)"><polygon points="400,460.2 410.8,461.3 421,460.8 430.1,457.9 434.7,453.4 439.2,450 455,447.5 470,446.5 488,446 492.7,447.3 492.7,448.5 488,451.5 470,453 455,453.5 438.1,454.5 433.5,460.2 426.7,464.7 415.4,469.3 400,469.3" fill="rgb(0,0,0)"/><polygon points="502,460 509,458.5 514,456.5 516,452 520,450.5 526,453.5 538,457 538,464 530,462.5 525,464.5 521,468.5 518,469.5 515,466.5 510,462.5" fill="rgb(0,0,0)"/><polygon points="400,471.5 412,472 418,473.5 421,475 417,476.8 410,477.2 400,477.5" fill="rgb(0,0,0)"/><polygon points="400,479.5 407,480 408.5,483 406,486.3 400,486.3" fill="rgb(0,0,0)"/><polygon points="538,476 530,478 527,481 530,484 538,485.2" fill="rgb(0,0,0)"/><polygon points="400,508 410,508.5 415.4,510 412,512 400,512" fill="rgb(0,0,0)"/><polygon points="400,514.8 415,515.5 425,517.5 430.1,520.5 424,522.5 415,524 410,525.5 416.5,527 414,529.6 400,529.6" fill="rgb(0,0,0)"/><polygon points="538,508 531,510 530,516 531,521.6 538,521.6" fill="rgb(0,0,0)"/><polygon points="538,525.5 528,526 522.3,528.5 528,530.7 538,530.7" fill="rgb(0,0,0)"/><polygon points="538,539.8 531.4,541.5 538,543.2" fill="rgb(0,0,0)"/><path d="M410 539.5 C406 541 405 545 407.5 549 L410.5 550.5" fill="none" stroke="rgb(0,0,0)" stroke-width="3.3" stroke-linecap="round" stroke-linejoin="round"/><path d="M430 555.5 C427 560 427.5 566 433 573" fill="none" stroke="rgb(0,0,0)" stroke-width="5.5" stroke-linecap="round" stroke-linejoin="round"/><polygon points="460.8,556 466,552.3 472,551.5 478,555 481.4,560 478,565 470,564 463,562" fill="rgb(0,0,0)"/><path d="M496 569 C499 565 502 562 507 561.5 C514 561.5 520 562.5 526.5 563.2" fill="none" stroke="rgb(0,0,0)" stroke-width="6.2" stroke-linecap="round" stroke-linejoin="round"/><ellipse cx="509" cy="555" rx="4" ry="1.4" fill="rgb(0,0,0)"/></g></g></g><text x="405.6" y="454" style="font-family:'Liberation Sans',Arial,sans-serif;font-weight:bold;font-size:16.3px">p</text><g clip-path="url(#cq)"><g filter="url(#cmap)"><g filter="url(#sb3)"><rect x="528.4" y="433.4" width="151.6" height="150.6" fill="rgb(168,168,168)"/><ellipse cx="570" cy="455" rx="28" ry="18" fill="rgb(168,168,168)"/><ellipse cx="600" cy="460" rx="20" ry="12" fill="rgb(173,173,173)"/><ellipse cx="620" cy="470" rx="18" ry="18" fill="rgb(153,153,153)"/><ellipse cx="575" cy="495" rx="14" ry="14" fill="rgb(173,173,173)"/><ellipse cx="638" cy="485" rx="8" ry="8" fill="rgb(178,178,178)"/><ellipse cx="612" cy="518" rx="25" ry="12" fill="rgb(173,173,173)"/><ellipse cx="600" cy="545" rx="22" ry="12" fill="rgb(158,158,158)"/><ellipse cx="566" cy="545" rx="4" ry="6" fill="rgb(214,214,214)"/><ellipse cx="640" cy="557" rx="10" ry="5" fill="rgb(204,204,204)"/><ellipse cx="665" cy="537" rx="5" ry="6" fill="rgb(140,140,140)"/><ellipse cx="650" cy="520" rx="8" ry="12" fill="rgb(168,168,168)"/><ellipse cx="590" cy="530" rx="12" ry="10" fill="rgb(153,153,153)"/><ellipse cx="590.9" cy="456.9" rx="6.5" ry="3.9" fill="rgb(174,174,174)"/><ellipse cx="638.8" cy="493.7" rx="11.0" ry="6.7" fill="rgb(177,177,177)"/><ellipse cx="632.1" cy="540.2" rx="7.0" ry="5.5" fill="rgb(186,186,186)"/><ellipse cx="603.9" cy="486.9" rx="9.1" ry="6.9" fill="rgb(174,174,174)"/><ellipse cx="631.8" cy="498.2" rx="8.2" ry="5.3" fill="rgb(165,165,165)"/><ellipse cx="627.0" cy="538.4" rx="6.1" ry="7.0" fill="rgb(170,170,170)"/><ellipse cx="560.6" cy="540.5" rx="4.8" ry="4.4" fill="rgb(159,159,159)"/><ellipse cx="647.7" cy="506.4" rx="10.5" ry="6.2" fill="rgb(171,171,171)"/><ellipse cx="635.6" cy="512.5" rx="5.5" ry="4.1" fill="rgb(166,166,166)"/><ellipse cx="582.6" cy="468.5" rx="6.5" ry="8.9" fill="rgb(160,160,160)"/><ellipse cx="614.3" cy="463.4" rx="8.7" ry="6.9" fill="rgb(186,186,186)"/><ellipse cx="619.3" cy="495.7" rx="9.2" ry="5.7" fill="rgb(188,188,188)"/><ellipse cx="578.6" cy="479.5" rx="9.2" ry="8.6" fill="rgb(186,186,186)"/><ellipse cx="600.4" cy="511.0" rx="6.1" ry="8.5" fill="rgb(167,167,167)"/><ellipse cx="642.8" cy="508.7" rx="7.0" ry="7.3" fill="rgb(173,173,173)"/><ellipse cx="554.8" cy="459.2" rx="8.8" ry="4.2" fill="rgb(168,168,168)"/><ellipse cx="655.8" cy="529.6" rx="5.9" ry="5.2" fill="rgb(170,170,170)"/><ellipse cx="584.8" cy="491.1" rx="7.2" ry="7.9" fill="rgb(176,176,176)"/><ellipse cx="568.2" cy="550.6" rx="8.9" ry="8.8" fill="rgb(174,174,174)"/><ellipse cx="581.2" cy="461.1" rx="6.9" ry="5.5" fill="rgb(171,171,171)"/><ellipse cx="548.9" cy="534.8" rx="4.1" ry="5.6" fill="rgb(173,173,173)"/><ellipse cx="644.3" cy="472.1" rx="9.7" ry="5.4" fill="rgb(180,180,180)"/><ellipse cx="569.0" cy="525.5" rx="7.7" ry="3.4" fill="rgb(165,165,165)"/><ellipse cx="652.8" cy="559.2" rx="8.5" ry="4.0" fill="rgb(154,154,154)"/><ellipse cx="579.9" cy="501.0" rx="7.6" ry="6.9" fill="rgb(182,182,182)"/><ellipse cx="613.6" cy="465.3" rx="4.1" ry="4.7" fill="rgb(175,175,175)"/><ellipse cx="622.5" cy="527.6" rx="10.4" ry="8.2" fill="rgb(180,180,180)"/><ellipse cx="603.6" cy="455.5" rx="6.3" ry="4.2" fill="rgb(155,155,155)"/><ellipse cx="565.4" cy="480.4" rx="8.5" ry="6.5" fill="rgb(182,182,182)"/><ellipse cx="605.3" cy="499.2" rx="6.3" ry="7.8" fill="rgb(167,167,167)"/><ellipse cx="659.8" cy="491.2" rx="9.5" ry="7.1" fill="rgb(165,165,165)"/><ellipse cx="614.9" cy="532.0" rx="6.3" ry="3.2" fill="rgb(167,167,167)"/><ellipse cx="660.2" cy="469.0" rx="5.6" ry="8.5" fill="rgb(166,166,166)"/><ellipse cx="562.0" cy="475.2" rx="8.2" ry="8.4" fill="rgb(169,169,169)"/><ellipse cx="623.9" cy="471.8" rx="10.1" ry="8.9" fill="rgb(167,167,167)"/><ellipse cx="597.2" cy="535.7" rx="10.5" ry="4.7" fill="rgb(174,174,174)"/><ellipse cx="582.9" cy="467.0" rx="4.3" ry="8.0" fill="rgb(156,156,156)"/><ellipse cx="590.3" cy="561.5" rx="4.9" ry="8.1" fill="rgb(174,174,174)"/><ellipse cx="564.9" cy="555.8" rx="9.9" ry="3.3" fill="rgb(184,184,184)"/><ellipse cx="612.2" cy="556.1" rx="8.0" ry="8.7" fill="rgb(164,164,164)"/><polygon points="534,439 566,439 563,447 558,455 551,463 544,468 534,474" fill="rgb(97,97,97)"/><ellipse cx="544" cy="532" rx="8" ry="16" fill="rgb(76,76,76)"/></g><g filter="url(#sb2)"><path d="M536 477 C541 475 546 471 552.8 466.9 C557 464.5 561 462 566 458 C570 454 572 450 575 445 L577 441" fill="none" stroke="rgb(255,255,255)" stroke-width="3.2" stroke-linecap="round" stroke-linejoin="round"/><ellipse cx="572" cy="447.5" rx="6.5" ry="4.5" fill="rgb(255,255,255)"/><ellipse cx="599" cy="451" rx="5" ry="2.5" fill="rgb(217,217,217)"/><path d="M611 449 C617 448.5 623 448 629 446.5" fill="none" stroke="rgb(255,255,255)" stroke-width="2.6" stroke-linecap="round" stroke-linejoin="round"/><ellipse cx="646.6" cy="450.3" rx="3.5" ry="1.8" fill="rgb(255,255,255)"/><ellipse cx="660" cy="449" rx="3" ry="7" fill="rgb(217,217,217)"/><path d="M654 471 C659 473.5 663 475.5 668 477.5" fill="none" stroke="rgb(255,255,255)" stroke-width="3.2" stroke-linecap="round" stroke-linejoin="round"/><ellipse cx="664" cy="464" rx="3.5" ry="2.5" fill="rgb(255,255,255)"/><ellipse cx="540.5" cy="525" rx="1.8" ry="3.5" fill="rgb(255,255,255)"/><path d="M539 547.5 C544 549 548 550 551 552 C554 554.5 557 557 560 561" fill="none" stroke="rgb(255,255,255)" stroke-width="3.6" stroke-linecap="round" stroke-linejoin="round"/><ellipse cx="579" cy="570.5" rx="4.5" ry="2.2" fill="rgb(255,255,255)"/><ellipse cx="595.5" cy="557.5" rx="4" ry="2.8" fill="rgb(242,242,242)"/><path d="M616.5 567 C622 567 628 566.5 633 565.5 C636 564.8 638 564 639 563.5" fill="none" stroke="rgb(255,255,255)" stroke-width="3.2" stroke-linecap="round" stroke-linejoin="round"/><ellipse cx="632" cy="561" rx="9" ry="4" fill="rgb(217,217,217)"/><ellipse cx="661.4" cy="569" rx="3.5" ry="5.5" fill="rgb(255,255,255)"/><ellipse cx="669" cy="549" rx="2" ry="2.5" fill="rgb(255,255,255)"/><ellipse cx="663" cy="555" rx="7" ry="3" fill="rgb(217,217,217)"/></g><g filter="url(#sb1)"><path d="M552.8 451.5 C555 452.8 558.5 453.2 561 452 C563 451 564.5 449.5 565.8 447.5" fill="none" stroke="rgb(0,0,0)" stroke-width="3.4" stroke-linecap="round" stroke-linejoin="round"/><path d="M539 461.5 L540 467" fill="none" stroke="rgb(0,0,0)" stroke-width="3" stroke-linecap="round" stroke-linejoin="round"/><path d="M539.5 480.5 C540.5 488 540.5 495 539.5 502" fill="none" stroke="rgb(0,0,0)" stroke-width="2.6" stroke-linecap="round" stroke-linejoin="round"/><path d="M628.6 444 L631.4 444" fill="none" stroke="rgb(0,0,0)" stroke-width="3.4" stroke-linecap="round" stroke-linejoin="round"/><path d="M640 443.5 L645 443.5" fill="none" stroke="rgb(0,0,0)" stroke-width="2.2" stroke-linecap="round" stroke-linejoin="round"/><path d="M645.5 455 C649 459 653 463 658 468" fill="none" stroke="rgb(0,0,0)" stroke-width="8" stroke-linecap="round" stroke-linejoin="round"/><path d="M667 480 C667.5 490 668 500 668.5 509" fill="none" stroke="rgb(0,0,0)" stroke-width="3.6" stroke-linecap="round" stroke-linejoin="round"/><path d="M543.7 519.4 C546.5 523 548.8 527 548.2 530.7 C547.5 535 545.5 539 544.8 543.2" fill="none" stroke="rgb(0,0,0)" stroke-width="4.8" stroke-linecap="round" stroke-linejoin="round"/><ellipse cx="544" cy="552.3" rx="3.5" ry="1.8" fill="rgb(0,0,0)"/><path d="M560 564.5 C563 567 567 569.5 571.5 571" fill="none" stroke="rgb(0,0,0)" stroke-width="4.5" stroke-linecap="round" stroke-linejoin="round"/><path d="M583.5 565.5 C590 565 597 565.5 604 565 C609 564.5 613 564 616 564.3" fill="none" stroke="rgb(0,0,0)" stroke-width="5" stroke-linecap="round" stroke-linejoin="round"/><path d="M616 571.5 C625 572.5 635 573 647 572.5" fill="none" stroke="rgb(0,0,0)" stroke-width="2.6" stroke-linecap="round" stroke-linejoin="round"/><ellipse cx="646.5" cy="566.5" rx="2.5" ry="2.5" fill="rgb(64,64,64)"/><path d="M661.5 563 C664 559 667 555 669.5 551.5" fill="none" stroke="rgb(0,0,0)" stroke-width="3.6" stroke-linecap="round" stroke-linejoin="round"/><ellipse cx="667.5" cy="509" rx="2.5" ry="1.5" fill="rgb(76,76,76)"/></g></g></g><text x="539.6" y="454.2" style="font-family:'Liberation Sans',Arial,sans-serif;font-weight:bold;font-size:16.3px">q</text><rect x="671.8" y="443.4" width="4" height="130.6" fill="url(#gcb)" stroke="#999" stroke-width="0.3"/><text transform="translate(685.4,451) rotate(-90)" text-anchor="middle" style="font-family:'Liberation Sans',Arial,sans-serif;font-size:8.4px">0.1</text><text transform="translate(685.4,567.8) rotate(-90)" text-anchor="middle" style="font-family:'Liberation Sans',Arial,sans-serif;font-size:8.4px">-0.1</text>
</svg>
</body></html>
